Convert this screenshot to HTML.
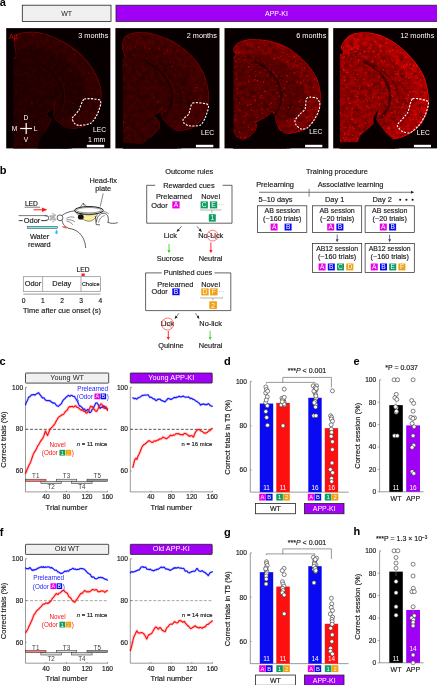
<!DOCTYPE html>
<html lang="en"><head><meta charset="utf-8"><title>Figure</title>
<style>
html,body{margin:0;padding:0;background:#fff;}
svg{display:block;font-family:'Liberation Sans', Arial, sans-serif;}
</style></head><body>
<svg width="437" height="685" viewBox="0 0 437 685">
<rect x="0" y="0" width="437" height="685" fill="#fff"/>
<text x="-0.30" y="5.60" font-size="11" font-weight="bold" fill="#000">a</text>
<rect x="22.30" y="5.20" width="88.70" height="16.20" fill="#f0f0f0" stroke="#222" stroke-width="0.8"/>
<text x="66.60" y="15.60" font-size="7.0" text-anchor="middle" fill="#222">WT</text>
<rect x="116.00" y="5.20" width="321.60" height="16.20" fill="#a000f5" stroke="#222" stroke-width="0.8"/>
<text x="276.50" y="15.60" font-size="7.0" text-anchor="middle" fill="#fff">APP-KI</text>
<defs><filter id="blur1" x="-10%" y="-10%" width="120%" height="120%"><feGaussianBlur stdDeviation="1.2"/></filter><filter id="blur2" x="-10%" y="-10%" width="120%" height="120%"><feGaussianBlur stdDeviation="0.35"/></filter><filter id="mottle" x="0" y="0" width="100%" height="100%"><feTurbulence type="fractalNoise" baseFrequency="0.22" numOctaves="2" seed="7"/><feColorMatrix type="matrix" values="0 0 0 0 0  0 0 0 0 0  0 0 0 0 0  1.6 0 0 0 -0.55"/></filter></defs>
<rect x="6.20" y="28.10" width="104.20" height="120.30" fill="#080000"/>
<clipPath id="clip0"><path d="M13.2,58.8C13.6,58.4 15.6,58.1 15.8,56.1C16.0,54.1 14.5,48.8 14.5,45.7C14.5,42.6 14.0,37.3 15.8,35.2C17.6,33.1 22.7,32.4 26.3,32.0C29.9,31.6 35.6,31.8 39.5,32.5C43.4,33.2 48.7,34.9 52.6,36.5C56.5,38.1 61.9,40.7 65.8,43.1C69.7,45.5 75.3,49.1 78.9,52.3C82.5,55.4 86.7,60.3 89.5,64.1C92.3,67.8 95.6,73.4 97.4,77.3C99.2,81.2 100.8,86.9 101.3,90.4C101.8,93.9 101.4,97.3 100.8,100.9C100.2,104.5 99.1,110.7 97.4,114.1C95.7,117.5 92.3,121.2 89.5,123.3C86.7,125.4 81.7,127.3 78.9,128.1C76.1,128.9 72.3,128.5 71.1,128.6L68.2,154.1L13.2,154.1Z"/></clipPath>
<clipPath id="pclip0"><rect x="6.20" y="28.10" width="104.20" height="120.30"/></clipPath>
<g clip-path="url(#pclip0)"><g clip-path="url(#clip0)">
<path d="M13.2,58.8C13.6,58.4 15.6,58.1 15.8,56.1C16.0,54.1 14.5,48.8 14.5,45.7C14.5,42.6 14.0,37.3 15.8,35.2C17.6,33.1 22.7,32.4 26.3,32.0C29.9,31.6 35.6,31.8 39.5,32.5C43.4,33.2 48.7,34.9 52.6,36.5C56.5,38.1 61.9,40.7 65.8,43.1C69.7,45.5 75.3,49.1 78.9,52.3C82.5,55.4 86.7,60.3 89.5,64.1C92.3,67.8 95.6,73.4 97.4,77.3C99.2,81.2 100.8,86.9 101.3,90.4C101.8,93.9 101.4,97.3 100.8,100.9C100.2,104.5 99.1,110.7 97.4,114.1C95.7,117.5 92.3,121.2 89.5,123.3C86.7,125.4 81.7,127.3 78.9,128.1C76.1,128.9 72.3,128.5 71.1,128.6L68.2,154.1L13.2,154.1Z" fill="#2c0000"/>
<path d="M15.8,35.2C17.4,34.7 22.7,32.4 26.3,32.0C29.9,31.6 35.6,31.8 39.5,32.5C43.4,33.2 48.7,34.9 52.6,36.5C56.5,38.1 61.9,40.7 65.8,43.1C69.7,45.5 75.3,49.1 78.9,52.3C82.5,55.4 86.7,60.3 89.5,64.1C92.3,67.8 95.6,73.4 97.4,77.3C99.2,81.2 100.8,86.9 101.3,90.4C101.8,93.9 101.4,97.3 100.8,100.9C100.2,104.5 99.1,110.7 97.4,114.1C95.7,117.5 92.3,121.2 89.5,123.3C86.7,125.4 81.7,127.3 78.9,128.1C76.1,128.9 72.3,128.5 71.1,128.6" fill="none" stroke="#3a0000" stroke-width="30" stroke-linecap="round" filter="url(#blur1)" opacity="0.9"/>
<rect x="6.2" y="28.1" width="104.2" height="120.3" filter="url(#mottle)" opacity="0.55"/>
<path d="M36.2,61.1C38.2,62.3 44.5,64.9 48.2,68.1C51.9,71.3 55.7,75.8 58.2,80.1C60.7,84.4 62.7,89.4 63.2,94.1C63.7,98.8 62.7,104.1 61.2,108.1C59.7,112.1 55.4,116.4 54.2,118.1" fill="none" stroke="#160000" stroke-width="3.0" opacity="0.6" filter="url(#blur2)"/>
<path d="M18.2,56.1C20.5,56.4 27.5,56.8 32.2,58.1C36.9,59.4 41.5,61.3 46.2,64.1C50.9,66.9 56.2,70.8 60.2,75.1C64.2,79.4 68.2,84.9 70.2,90.1C72.2,95.3 72.9,101.1 72.2,106.1C71.5,111.1 67.2,117.8 66.2,120.1" fill="none" stroke="#100000" stroke-width="1.4" opacity="0.25" filter="url(#blur2)"/>
<path d="M36.2,61.1C38.2,62.3 44.5,64.9 48.2,68.1C51.9,71.3 55.7,75.8 58.2,80.1C60.7,84.4 62.7,89.4 63.2,94.1C63.7,98.8 62.7,104.1 61.2,108.1C59.7,112.1 55.4,116.4 54.2,118.1" fill="none" stroke="#8a0000" stroke-width="0.6" opacity="0.5" transform="translate(1.6,-0.6)"/>
<g fill="#b00000" opacity="0.7" filter="url(#blur2)"><circle cx="79.7" cy="116.2" r="0.5"/><circle cx="59.0" cy="41.3" r="0.35"/><circle cx="27.4" cy="49.6" r="0.4"/><circle cx="88.8" cy="73.2" r="0.8"/><circle cx="72.7" cy="49.8" r="0.6"/><circle cx="26.3" cy="129.3" r="0.4"/><circle cx="31.9" cy="102.5" r="0.8"/><circle cx="99.0" cy="106.5" r="0.5"/><circle cx="32.7" cy="35.1" r="0.6"/><circle cx="84.8" cy="113.1" r="0.35"/><circle cx="81.0" cy="122.2" r="0.4"/><circle cx="98.5" cy="91.2" r="0.4"/><circle cx="74.0" cy="118.2" r="0.6"/><circle cx="55.6" cy="118.9" r="0.4"/><circle cx="28.3" cy="38.9" r="0.5"/><circle cx="66.6" cy="58.3" r="0.4"/><circle cx="14.3" cy="148.4" r="0.5"/><circle cx="64.4" cy="56.0" r="0.35"/><circle cx="74.3" cy="54.5" r="0.8"/><circle cx="73.2" cy="103.5" r="0.6"/><circle cx="70.6" cy="70.5" r="0.6"/><circle cx="21.2" cy="135.3" r="0.35"/><circle cx="89.9" cy="79.8" r="0.5"/><circle cx="17.3" cy="38.7" r="0.8"/><circle cx="21.5" cy="144.1" r="0.6"/></g>
<path d="M13.2,58.8C13.6,58.4 15.6,58.1 15.8,56.1C16.0,54.1 14.5,48.8 14.5,45.7C14.5,42.6 14.0,37.3 15.8,35.2C17.6,33.1 22.7,32.4 26.3,32.0C29.9,31.6 35.6,31.8 39.5,32.5C43.4,33.2 48.7,34.9 52.6,36.5C56.5,38.1 61.9,40.7 65.8,43.1C69.7,45.5 75.3,49.1 78.9,52.3C82.5,55.4 86.7,60.3 89.5,64.1C92.3,67.8 95.6,73.4 97.4,77.3C99.2,81.2 100.8,86.9 101.3,90.4C101.8,93.9 101.4,97.3 100.8,100.9C100.2,104.5 99.1,110.7 97.4,114.1C95.7,117.5 92.3,121.2 89.5,123.3C86.7,125.4 81.7,127.3 78.9,128.1C76.1,128.9 72.3,128.5 71.1,128.6" fill="none" stroke="#8a0000" stroke-width="1.3" opacity="0.8"/>
</g>
<path d="M54.80,101.70L54.10,107.20L53.40,115.50L56.80,121.00L66.00,127.80L72.20,129.60L72.20,155.10L35.50,155.10L39.00,141.60L43.10,133.30L47.20,127.80L51.30,119.60L47.20,115.50L45.80,113.40L51.30,110.00Z" fill="#080000"/>
<g clip-path="url(#clip0)">
<path d="M54.80,101.70L54.10,107.20L53.40,115.50L56.80,121.00L66.00,127.80" fill="none" stroke="#8a0000" stroke-width="0.7" stroke-opacity="0.6" stroke-linejoin="round"/>
<path d="M43.10,133.30L47.20,127.80L51.30,119.60L47.20,115.50L45.80,113.40L51.30,110.00L54.80,101.70" fill="none" stroke="#8a0000" stroke-width="0.7" stroke-opacity="0.6" stroke-linejoin="round"/>
</g></g>
<path d="M84.2,99.1C86.5,97.9 96.8,99.1 98.7,99.6C100.6,100.1 101.0,101.9 100.8,103.6C100.6,105.3 98.6,111.8 97.4,114.1C96.2,116.4 93.0,122.0 90.8,123.3C88.6,124.6 80.8,125.4 78.9,125.4C77.0,125.4 75.3,124.2 74.5,123.3C73.7,122.4 71.9,119.5 72.4,118.0C72.9,116.5 77.5,112.4 78.9,110.2C80.3,108.0 81.9,100.3 84.2,99.1Z" fill="none" stroke="#fff" stroke-width="1.1" stroke-dasharray="2.1 1.3"/>
<text x="108.30" y="38.30" font-size="7.3" text-anchor="end" fill="#fff">3 months</text>
<text x="106.00" y="132.20" font-size="6.7" text-anchor="end" fill="#fff">LEC</text>
<rect x="86.80" y="144.80" width="17.40" height="2.40" fill="#fff"/>
<rect x="115.40" y="28.10" width="104.10" height="120.30" fill="#080000"/>
<clipPath id="clip1"><path d="M122.1,59.8C122.5,59.4 124.6,59.2 124.6,57.3C124.6,55.4 122.1,50.2 122.1,47.2C122.1,44.2 122.7,39.3 124.6,37.1C126.5,34.9 131.3,33.3 134.7,32.6C138.1,31.9 143.5,32.1 147.3,32.6C151.1,33.1 156.1,34.7 159.9,35.9C163.7,37.1 168.6,38.8 172.4,40.9C176.2,43.0 181.4,46.7 185.0,49.7C188.6,52.7 193.6,57.4 196.4,61.0C199.2,64.6 202.2,69.8 203.9,73.6C205.6,77.4 206.9,82.6 207.7,86.2C208.5,89.8 209.1,94.2 209.0,97.6C208.9,101.0 208.3,105.5 207.2,108.9C206.1,112.3 203.6,117.4 201.4,120.2C199.2,123.0 195.2,126.3 192.6,127.8C190.0,129.3 186.1,129.8 183.8,130.3C181.5,130.8 178.4,131.0 177.4,131.1L177.4,154.1L123.2,154.1Z"/></clipPath>
<clipPath id="pclip1"><rect x="115.40" y="28.10" width="104.10" height="120.30"/></clipPath>
<g clip-path="url(#pclip1)"><g clip-path="url(#clip1)">
<path d="M122.1,59.8C122.5,59.4 124.6,59.2 124.6,57.3C124.6,55.4 122.1,50.2 122.1,47.2C122.1,44.2 122.7,39.3 124.6,37.1C126.5,34.9 131.3,33.3 134.7,32.6C138.1,31.9 143.5,32.1 147.3,32.6C151.1,33.1 156.1,34.7 159.9,35.9C163.7,37.1 168.6,38.8 172.4,40.9C176.2,43.0 181.4,46.7 185.0,49.7C188.6,52.7 193.6,57.4 196.4,61.0C199.2,64.6 202.2,69.8 203.9,73.6C205.6,77.4 206.9,82.6 207.7,86.2C208.5,89.8 209.1,94.2 209.0,97.6C208.9,101.0 208.3,105.5 207.2,108.9C206.1,112.3 203.6,117.4 201.4,120.2C199.2,123.0 195.2,126.3 192.6,127.8C190.0,129.3 186.1,129.8 183.8,130.3C181.5,130.8 178.4,131.0 177.4,131.1L177.4,154.1L123.2,154.1Z" fill="#400000"/>
<path d="M124.6,37.1C126.1,36.4 131.3,33.3 134.7,32.6C138.1,31.9 143.5,32.1 147.3,32.6C151.1,33.1 156.1,34.7 159.9,35.9C163.7,37.1 168.6,38.8 172.4,40.9C176.2,43.0 181.4,46.7 185.0,49.7C188.6,52.7 193.6,57.4 196.4,61.0C199.2,64.6 202.2,69.8 203.9,73.6C205.6,77.4 206.9,82.6 207.7,86.2C208.5,89.8 209.1,94.2 209.0,97.6C208.9,101.0 208.3,105.5 207.2,108.9C206.1,112.3 203.6,117.4 201.4,120.2C199.2,123.0 195.2,126.3 192.6,127.8C190.0,129.3 185.1,129.9 183.8,130.3" fill="none" stroke="#4e0000" stroke-width="30" stroke-linecap="round" filter="url(#blur1)" opacity="0.9"/>
<rect x="115.4" y="28.1" width="104.1" height="120.3" filter="url(#mottle)" opacity="0.55"/>
<path d="M145.4,61.1C147.4,62.3 153.7,64.9 157.4,68.1C161.1,71.3 164.9,75.8 167.4,80.1C169.9,84.4 171.9,89.4 172.4,94.1C172.9,98.8 171.9,104.1 170.4,108.1C168.9,112.1 164.6,116.4 163.4,118.1" fill="none" stroke="#160000" stroke-width="3.0" opacity="0.6" filter="url(#blur2)"/>
<path d="M127.4,56.1C129.7,56.4 136.7,56.8 141.4,58.1C146.1,59.4 150.7,61.3 155.4,64.1C160.1,66.9 165.4,70.8 169.4,75.1C173.4,79.4 177.4,84.9 179.4,90.1C181.4,95.3 182.1,101.1 181.4,106.1C180.7,111.1 176.4,117.8 175.4,120.1" fill="none" stroke="#100000" stroke-width="1.4" opacity="0.25" filter="url(#blur2)"/>
<path d="M145.4,61.1C147.4,62.3 153.7,64.9 157.4,68.1C161.1,71.3 164.9,75.8 167.4,80.1C169.9,84.4 171.9,89.4 172.4,94.1C172.9,98.8 171.9,104.1 170.4,108.1C168.9,112.1 164.6,116.4 163.4,118.1" fill="none" stroke="#900000" stroke-width="0.6" opacity="0.5" transform="translate(1.6,-0.6)"/>
<g fill="#c00808" opacity="0.55" filter="url(#blur2)"><circle cx="175.9" cy="51.5" r="0.6"/><circle cx="184.5" cy="53.9" r="0.4"/><circle cx="196.9" cy="67.7" r="0.5"/><circle cx="157.4" cy="53.2" r="0.5"/><circle cx="164.1" cy="53.6" r="0.8"/><circle cx="201.1" cy="109.9" r="0.8"/><circle cx="152.8" cy="59.6" r="0.4"/><circle cx="208.7" cy="96.6" r="0.4"/><circle cx="130.0" cy="49.6" r="0.4"/><circle cx="187.1" cy="70.3" r="0.35"/><circle cx="144.6" cy="46.6" r="0.5"/><circle cx="136.7" cy="41.6" r="0.5"/><circle cx="140.8" cy="61.9" r="0.4"/><circle cx="204.6" cy="83.3" r="0.6"/><circle cx="197.7" cy="84.8" r="0.4"/><circle cx="138.3" cy="36.1" r="0.4"/><circle cx="185.3" cy="127.1" r="0.6"/><circle cx="172.2" cy="66.4" r="0.8"/><circle cx="146.7" cy="58.8" r="0.5"/><circle cx="175.6" cy="69.3" r="0.5"/><circle cx="172.9" cy="52.7" r="0.35"/><circle cx="195.9" cy="84.1" r="0.6"/><circle cx="189.7" cy="78.3" r="0.5"/><circle cx="182.5" cy="92.1" r="0.8"/><circle cx="135.4" cy="47.1" r="0.8"/><circle cx="198.1" cy="110.3" r="0.4"/><circle cx="128.7" cy="107.5" r="0.35"/><circle cx="179.0" cy="113.8" r="0.6"/><circle cx="124.9" cy="61.2" r="0.4"/><circle cx="125.4" cy="62.8" r="0.4"/><circle cx="190.7" cy="74.8" r="0.6"/><circle cx="154.9" cy="124.0" r="0.8"/><circle cx="147.1" cy="136.1" r="0.5"/><circle cx="184.2" cy="117.8" r="0.5"/><circle cx="191.2" cy="110.4" r="0.5"/><circle cx="189.1" cy="118.6" r="0.5"/><circle cx="129.6" cy="141.6" r="0.4"/><circle cx="195.9" cy="120.8" r="0.8"/><circle cx="123.4" cy="122.4" r="0.8"/><circle cx="159.0" cy="48.9" r="0.8"/><circle cx="173.9" cy="62.7" r="0.6"/><circle cx="207.7" cy="96.6" r="0.4"/><circle cx="148.9" cy="46.7" r="0.4"/><circle cx="130.7" cy="139.5" r="0.5"/><circle cx="145.1" cy="141.0" r="0.4"/><circle cx="128.4" cy="37.8" r="0.8"/><circle cx="199.0" cy="75.8" r="0.35"/><circle cx="189.3" cy="70.7" r="0.35"/><circle cx="186.9" cy="52.7" r="0.6"/><circle cx="187.9" cy="86.3" r="0.4"/><circle cx="185.0" cy="65.3" r="0.5"/><circle cx="153.5" cy="96.8" r="0.35"/><circle cx="123.9" cy="126.5" r="0.5"/><circle cx="149.8" cy="48.6" r="0.8"/><circle cx="171.5" cy="46.4" r="0.35"/><circle cx="191.7" cy="57.1" r="0.35"/><circle cx="170.4" cy="62.7" r="0.6"/><circle cx="126.7" cy="65.0" r="0.5"/><circle cx="166.3" cy="41.4" r="0.6"/><circle cx="177.1" cy="50.9" r="0.5"/><circle cx="202.2" cy="114.9" r="0.4"/><circle cx="131.1" cy="49.3" r="0.6"/><circle cx="179.2" cy="124.8" r="0.35"/><circle cx="195.1" cy="89.9" r="0.5"/><circle cx="193.2" cy="91.4" r="0.6"/><circle cx="162.8" cy="42.9" r="0.35"/><circle cx="185.1" cy="50.1" r="0.4"/><circle cx="127.2" cy="127.6" r="0.5"/><circle cx="146.0" cy="34.2" r="0.5"/><circle cx="128.0" cy="36.3" r="0.4"/><circle cx="179.9" cy="75.7" r="0.5"/><circle cx="200.0" cy="97.6" r="0.8"/><circle cx="192.5" cy="107.8" r="0.6"/><circle cx="181.1" cy="55.6" r="0.35"/><circle cx="172.0" cy="41.6" r="0.5"/><circle cx="141.8" cy="57.5" r="0.5"/><circle cx="136.9" cy="110.6" r="0.6"/><circle cx="134.2" cy="56.0" r="0.5"/><circle cx="194.0" cy="91.4" r="0.6"/><circle cx="167.6" cy="49.5" r="0.8"/><circle cx="189.4" cy="58.2" r="0.4"/><circle cx="198.1" cy="75.6" r="0.6"/><circle cx="186.6" cy="122.0" r="0.6"/><circle cx="145.4" cy="44.2" r="0.6"/><circle cx="195.6" cy="122.7" r="0.5"/><circle cx="207.1" cy="102.4" r="0.5"/><circle cx="154.7" cy="84.1" r="0.35"/><circle cx="144.0" cy="85.7" r="0.5"/><circle cx="185.1" cy="120.0" r="0.5"/><circle cx="169.5" cy="42.3" r="0.35"/><circle cx="164.7" cy="56.1" r="0.5"/><circle cx="154.4" cy="93.5" r="0.5"/><circle cx="201.1" cy="90.3" r="0.6"/><circle cx="145.0" cy="48.1" r="0.6"/><circle cx="190.0" cy="92.0" r="0.35"/><circle cx="196.4" cy="87.5" r="0.8"/><circle cx="165.2" cy="111.3" r="0.6"/><circle cx="170.7" cy="118.2" r="0.4"/><circle cx="127.4" cy="47.2" r="0.5"/><circle cx="159.1" cy="56.3" r="0.35"/><circle cx="158.1" cy="101.9" r="0.8"/><circle cx="202.6" cy="105.6" r="0.5"/><circle cx="167.7" cy="51.9" r="0.6"/><circle cx="193.5" cy="81.7" r="0.5"/><circle cx="178.9" cy="69.0" r="0.4"/><circle cx="198.4" cy="99.7" r="0.8"/><circle cx="203.0" cy="107.3" r="0.4"/><circle cx="133.6" cy="33.9" r="0.35"/><circle cx="167.6" cy="67.5" r="0.35"/><circle cx="130.4" cy="104.8" r="0.4"/></g>
<path d="M122.1,59.8C122.5,59.4 124.6,59.2 124.6,57.3C124.6,55.4 122.1,50.2 122.1,47.2C122.1,44.2 122.7,39.3 124.6,37.1C126.5,34.9 131.3,33.3 134.7,32.6C138.1,31.9 143.5,32.1 147.3,32.6C151.1,33.1 156.1,34.7 159.9,35.9C163.7,37.1 168.6,38.8 172.4,40.9C176.2,43.0 181.4,46.7 185.0,49.7C188.6,52.7 193.6,57.4 196.4,61.0C199.2,64.6 202.2,69.8 203.9,73.6C205.6,77.4 206.9,82.6 207.7,86.2C208.5,89.8 209.1,94.2 209.0,97.6C208.9,101.0 208.3,105.5 207.2,108.9C206.1,112.3 203.6,117.4 201.4,120.2C199.2,123.0 195.2,126.3 192.6,127.8C190.0,129.3 186.1,129.8 183.8,130.3C181.5,130.8 178.4,131.0 177.4,131.1" fill="none" stroke="#900000" stroke-width="1.3" opacity="0.8"/>
</g>
<path d="M162.40,107.20L161.20,112.10L161.00,115.50L164.40,121.00L169.90,126.50L175.00,130.60L181.40,132.10L181.40,155.10L122.40,155.10L123.20,142.60L142.50,144.30L149.30,138.80L154.80,133.30L159.60,127.80L159.60,122.30L156.20,117.50L152.10,115.50L159.00,112.70Z" fill="#080000"/>
<g clip-path="url(#clip1)">
<path d="M162.40,107.20L161.20,112.10L161.00,115.50L164.40,121.00L169.90,126.50L175.00,130.60" fill="none" stroke="#900000" stroke-width="0.7" stroke-opacity="0.6" stroke-linejoin="round"/>
<path d="M149.30,138.80L154.80,133.30L159.60,127.80L159.60,122.30L156.20,117.50L152.10,115.50L159.00,112.70L162.40,107.20" fill="none" stroke="#900000" stroke-width="0.7" stroke-opacity="0.6" stroke-linejoin="round"/>
</g></g>
<path d="M192.6,103.1C194.7,101.9 204.6,103.4 206.5,103.9C208.4,104.4 208.7,106.0 208.5,107.6C208.3,109.2 206.2,115.6 205.2,117.7C204.2,119.8 202.1,124.4 200.2,125.3C198.3,126.2 190.7,126.1 188.8,125.8C186.9,125.5 184.4,123.6 183.8,122.8C183.2,122.0 182.7,120.0 183.3,119.0C183.9,118.0 187.7,115.8 188.8,113.9C189.9,112.0 190.5,104.3 192.6,103.1Z" fill="none" stroke="#fff" stroke-width="1.1" stroke-dasharray="2.1 1.3"/>
<text x="216.80" y="38.30" font-size="7.3" text-anchor="end" fill="#fff">2 months</text>
<text x="214.00" y="134.60" font-size="6.7" text-anchor="end" fill="#fff">LEC</text>
<rect x="195.90" y="144.80" width="17.40" height="2.40" fill="#fff"/>
<rect x="224.50" y="28.10" width="103.90" height="120.30" fill="#080000"/>
<clipPath id="clip2"><path d="M233.3,57.3C233.7,56.9 235.9,55.8 235.9,54.7C235.9,53.6 233.1,51.4 233.3,49.7C233.5,48.0 235.0,44.9 237.1,43.4C239.2,41.9 243.8,40.2 247.2,39.6C250.6,39.0 256.0,39.3 259.8,39.6C263.6,39.9 268.6,40.6 272.4,41.6C276.2,42.6 281.3,44.4 285.0,46.3C288.7,48.2 293.4,51.2 296.9,54.1C300.4,57.0 305.4,61.8 308.3,65.3C311.2,68.8 314.7,73.7 316.5,77.4C318.3,81.1 319.6,86.2 320.2,90.0C320.8,93.8 321.1,98.8 320.7,102.6C320.3,106.4 319.3,111.8 317.7,115.2C316.1,118.6 312.8,122.8 310.2,125.3C307.6,127.8 303.1,130.4 300.1,131.6C297.1,132.8 292.0,133.3 290.0,133.6C288.0,133.9 287.0,133.9 286.5,133.9L286.5,154.1L233.3,154.1Z"/></clipPath>
<clipPath id="pclip2"><rect x="224.50" y="28.10" width="103.90" height="120.30"/></clipPath>
<g clip-path="url(#pclip2)"><g clip-path="url(#clip2)">
<path d="M233.3,57.3C233.7,56.9 235.9,55.8 235.9,54.7C235.9,53.6 233.1,51.4 233.3,49.7C233.5,48.0 235.0,44.9 237.1,43.4C239.2,41.9 243.8,40.2 247.2,39.6C250.6,39.0 256.0,39.3 259.8,39.6C263.6,39.9 268.6,40.6 272.4,41.6C276.2,42.6 281.3,44.4 285.0,46.3C288.7,48.2 293.4,51.2 296.9,54.1C300.4,57.0 305.4,61.8 308.3,65.3C311.2,68.8 314.7,73.7 316.5,77.4C318.3,81.1 319.6,86.2 320.2,90.0C320.8,93.8 321.1,98.8 320.7,102.6C320.3,106.4 319.3,111.8 317.7,115.2C316.1,118.6 312.8,122.8 310.2,125.3C307.6,127.8 303.1,130.4 300.1,131.6C297.1,132.8 292.0,133.3 290.0,133.6C288.0,133.9 287.0,133.9 286.5,133.9L286.5,154.1L233.3,154.1Z" fill="#620000"/>
<path d="M237.1,43.4C238.6,42.8 243.8,40.2 247.2,39.6C250.6,39.0 256.0,39.3 259.8,39.6C263.6,39.9 268.6,40.6 272.4,41.6C276.2,42.6 281.3,44.4 285.0,46.3C288.7,48.2 293.4,51.2 296.9,54.1C300.4,57.0 305.4,61.8 308.3,65.3C311.2,68.8 314.7,73.7 316.5,77.4C318.3,81.1 319.6,86.2 320.2,90.0C320.8,93.8 321.1,98.8 320.7,102.6C320.3,106.4 319.3,111.8 317.7,115.2C316.1,118.6 312.8,122.8 310.2,125.3C307.6,127.8 303.1,130.4 300.1,131.6C297.1,132.8 291.5,133.3 290.0,133.6" fill="none" stroke="#840000" stroke-width="30" stroke-linecap="round" filter="url(#blur1)" opacity="0.9"/>
<rect x="224.5" y="28.1" width="103.9" height="120.3" filter="url(#mottle)" opacity="0.55"/>
<path d="M254.5,61.1C256.5,62.3 262.8,64.9 266.5,68.1C270.2,71.3 274.0,75.8 276.5,80.1C279.0,84.4 281.0,89.4 281.5,94.1C282.0,98.8 281.0,104.1 279.5,108.1C278.0,112.1 273.7,116.4 272.5,118.1" fill="none" stroke="#160000" stroke-width="3.0" opacity="0.6" filter="url(#blur2)"/>
<path d="M236.5,56.1C238.8,56.4 245.8,56.8 250.5,58.1C255.2,59.4 259.8,61.3 264.5,64.1C269.2,66.9 274.5,70.8 278.5,75.1C282.5,79.4 286.5,84.9 288.5,90.1C290.5,95.3 291.2,101.1 290.5,106.1C289.8,111.1 285.5,117.8 284.5,120.1" fill="none" stroke="#100000" stroke-width="1.4" opacity="0.25" filter="url(#blur2)"/>
<path d="M254.5,61.1C256.5,62.3 262.8,64.9 266.5,68.1C270.2,71.3 274.0,75.8 276.5,80.1C279.0,84.4 281.0,89.4 281.5,94.1C282.0,98.8 281.0,104.1 279.5,108.1C278.0,112.1 273.7,116.4 272.5,118.1" fill="none" stroke="#c80000" stroke-width="0.6" opacity="0.5" transform="translate(1.6,-0.6)"/>
<g fill="#f00808" opacity="0.7" filter="url(#blur2)"><circle cx="298.5" cy="101.2" r="0.5"/><circle cx="254.9" cy="79.7" r="0.8"/><circle cx="279.6" cy="102.6" r="0.4"/><circle cx="300.9" cy="73.5" r="0.4"/><circle cx="311.5" cy="114.0" r="0.6"/><circle cx="239.6" cy="102.8" r="0.8"/><circle cx="310.6" cy="73.5" r="0.4"/><circle cx="241.9" cy="53.0" r="0.6"/><circle cx="257.3" cy="117.4" r="0.6"/><circle cx="271.0" cy="103.4" r="0.8"/><circle cx="246.0" cy="57.5" r="0.4"/><circle cx="289.2" cy="92.3" r="0.6"/><circle cx="256.4" cy="121.8" r="0.5"/><circle cx="300.0" cy="78.1" r="0.4"/><circle cx="246.6" cy="82.0" r="0.4"/><circle cx="278.1" cy="44.6" r="0.6"/><circle cx="274.3" cy="55.8" r="0.35"/><circle cx="249.6" cy="61.2" r="0.35"/><circle cx="236.8" cy="46.2" r="0.5"/><circle cx="252.9" cy="60.2" r="0.5"/><circle cx="267.6" cy="57.4" r="0.4"/><circle cx="295.8" cy="128.4" r="0.8"/><circle cx="245.4" cy="84.1" r="0.5"/><circle cx="283.9" cy="53.0" r="0.8"/><circle cx="247.2" cy="106.2" r="0.4"/><circle cx="290.8" cy="85.2" r="0.5"/><circle cx="243.9" cy="122.9" r="0.8"/><circle cx="271.4" cy="100.5" r="0.35"/><circle cx="271.6" cy="58.0" r="0.4"/><circle cx="298.7" cy="59.5" r="0.5"/><circle cx="282.5" cy="52.5" r="0.5"/><circle cx="282.3" cy="100.1" r="0.5"/><circle cx="234.8" cy="111.6" r="0.4"/><circle cx="235.4" cy="118.4" r="0.4"/><circle cx="307.1" cy="118.4" r="0.5"/><circle cx="312.6" cy="75.1" r="0.5"/><circle cx="245.0" cy="116.0" r="0.8"/><circle cx="248.5" cy="66.9" r="0.8"/><circle cx="236.1" cy="52.5" r="0.8"/><circle cx="233.3" cy="131.6" r="0.5"/><circle cx="281.0" cy="56.7" r="0.6"/><circle cx="273.4" cy="72.2" r="0.8"/><circle cx="301.1" cy="63.5" r="0.5"/><circle cx="313.4" cy="87.5" r="0.8"/><circle cx="276.7" cy="62.2" r="0.6"/><circle cx="316.9" cy="78.8" r="0.5"/><circle cx="315.9" cy="95.2" r="0.4"/><circle cx="301.9" cy="83.2" r="0.4"/><circle cx="278.7" cy="47.3" r="0.6"/><circle cx="281.2" cy="45.6" r="0.5"/><circle cx="305.4" cy="85.5" r="0.6"/><circle cx="294.2" cy="126.7" r="0.5"/><circle cx="245.4" cy="112.6" r="0.5"/><circle cx="233.8" cy="91.0" r="0.4"/><circle cx="302.0" cy="67.1" r="0.6"/><circle cx="265.0" cy="40.4" r="0.5"/><circle cx="310.4" cy="101.9" r="0.4"/><circle cx="304.5" cy="67.7" r="0.8"/><circle cx="238.8" cy="107.6" r="0.35"/><circle cx="265.5" cy="70.0" r="0.8"/><circle cx="299.7" cy="88.2" r="0.4"/><circle cx="296.8" cy="74.9" r="0.35"/><circle cx="281.3" cy="49.0" r="0.5"/><circle cx="285.9" cy="130.2" r="0.4"/><circle cx="263.5" cy="43.0" r="0.5"/><circle cx="288.9" cy="122.6" r="0.5"/><circle cx="283.7" cy="100.5" r="0.6"/><circle cx="283.0" cy="49.9" r="0.4"/><circle cx="288.2" cy="107.5" r="0.8"/><circle cx="289.8" cy="61.2" r="0.5"/><circle cx="299.7" cy="62.0" r="0.35"/><circle cx="250.5" cy="50.2" r="0.35"/><circle cx="276.8" cy="76.2" r="0.6"/><circle cx="294.3" cy="57.1" r="0.8"/><circle cx="257.2" cy="46.4" r="0.4"/><circle cx="268.5" cy="42.3" r="0.35"/><circle cx="249.9" cy="104.5" r="0.5"/><circle cx="297.1" cy="82.1" r="0.8"/><circle cx="257.7" cy="51.5" r="0.6"/><circle cx="300.9" cy="76.3" r="0.6"/><circle cx="297.2" cy="122.0" r="0.35"/><circle cx="249.7" cy="76.0" r="0.8"/><circle cx="297.4" cy="65.6" r="0.5"/><circle cx="286.8" cy="54.5" r="0.6"/><circle cx="279.0" cy="58.3" r="0.5"/><circle cx="237.7" cy="93.0" r="0.8"/><circle cx="257.6" cy="64.2" r="0.6"/><circle cx="261.6" cy="95.5" r="0.8"/><circle cx="262.2" cy="113.3" r="0.8"/><circle cx="269.6" cy="104.6" r="0.6"/><circle cx="275.6" cy="50.8" r="0.35"/><circle cx="290.3" cy="69.6" r="0.5"/><circle cx="281.5" cy="109.4" r="0.4"/><circle cx="308.0" cy="102.2" r="0.5"/><circle cx="308.5" cy="116.9" r="0.35"/><circle cx="283.0" cy="98.0" r="0.5"/><circle cx="236.4" cy="72.9" r="0.5"/><circle cx="248.1" cy="94.5" r="0.4"/><circle cx="270.8" cy="61.8" r="0.35"/><circle cx="241.0" cy="83.2" r="0.5"/><circle cx="241.0" cy="137.4" r="0.8"/><circle cx="283.1" cy="126.3" r="0.4"/><circle cx="295.0" cy="96.1" r="0.5"/><circle cx="303.6" cy="79.9" r="0.35"/><circle cx="255.2" cy="96.1" r="0.6"/><circle cx="238.7" cy="59.0" r="0.8"/><circle cx="245.0" cy="106.9" r="0.5"/><circle cx="240.7" cy="92.7" r="0.5"/><circle cx="269.7" cy="68.1" r="0.6"/><circle cx="292.7" cy="91.9" r="0.35"/><circle cx="252.0" cy="110.4" r="0.35"/><circle cx="257.8" cy="64.8" r="0.35"/><circle cx="312.7" cy="117.3" r="0.8"/><circle cx="253.6" cy="81.4" r="0.5"/><circle cx="268.1" cy="111.4" r="0.35"/><circle cx="276.7" cy="85.3" r="0.6"/><circle cx="299.6" cy="108.7" r="0.5"/><circle cx="252.8" cy="121.3" r="0.6"/><circle cx="303.7" cy="129.0" r="0.35"/><circle cx="278.3" cy="57.8" r="0.8"/><circle cx="296.0" cy="127.9" r="0.5"/><circle cx="283.0" cy="54.9" r="0.5"/><circle cx="304.2" cy="113.6" r="0.5"/><circle cx="281.0" cy="76.1" r="0.5"/><circle cx="294.6" cy="65.7" r="0.5"/><circle cx="310.2" cy="86.7" r="0.5"/><circle cx="286.4" cy="130.5" r="0.4"/><circle cx="304.4" cy="91.4" r="0.5"/><circle cx="236.1" cy="61.1" r="0.8"/><circle cx="278.2" cy="121.5" r="0.5"/><circle cx="303.4" cy="81.0" r="0.5"/><circle cx="236.6" cy="78.9" r="0.8"/><circle cx="255.3" cy="100.5" r="0.8"/><circle cx="239.1" cy="52.6" r="0.8"/><circle cx="308.0" cy="117.0" r="0.8"/><circle cx="244.5" cy="137.9" r="0.6"/><circle cx="285.4" cy="48.6" r="0.4"/><circle cx="243.2" cy="68.4" r="0.35"/><circle cx="269.6" cy="73.4" r="0.35"/><circle cx="276.2" cy="82.0" r="0.5"/><circle cx="255.3" cy="99.0" r="0.5"/><circle cx="316.7" cy="105.1" r="0.35"/><circle cx="245.1" cy="56.4" r="0.6"/><circle cx="289.8" cy="111.2" r="0.4"/><circle cx="255.8" cy="89.7" r="0.4"/><circle cx="235.2" cy="67.7" r="0.5"/><circle cx="297.4" cy="92.7" r="0.4"/><circle cx="283.0" cy="124.1" r="0.35"/><circle cx="246.3" cy="61.0" r="0.35"/><circle cx="239.6" cy="110.3" r="0.5"/><circle cx="244.6" cy="59.7" r="0.6"/><circle cx="281.7" cy="55.9" r="0.5"/><circle cx="258.7" cy="84.9" r="0.6"/><circle cx="284.6" cy="132.9" r="0.35"/><circle cx="314.9" cy="88.8" r="0.4"/><circle cx="295.4" cy="61.7" r="0.6"/><circle cx="249.2" cy="66.6" r="0.6"/><circle cx="244.8" cy="59.9" r="0.35"/><circle cx="286.6" cy="75.5" r="0.8"/><circle cx="235.2" cy="119.0" r="0.4"/><circle cx="272.1" cy="80.9" r="0.5"/><circle cx="277.3" cy="92.8" r="0.8"/><circle cx="297.3" cy="71.9" r="0.6"/><circle cx="301.8" cy="61.3" r="0.35"/><circle cx="249.5" cy="42.9" r="0.5"/><circle cx="233.4" cy="71.6" r="0.5"/><circle cx="294.0" cy="65.7" r="0.35"/><circle cx="271.5" cy="43.7" r="0.5"/><circle cx="247.8" cy="105.4" r="0.8"/><circle cx="267.9" cy="76.2" r="0.5"/><circle cx="301.0" cy="116.1" r="0.35"/><circle cx="294.0" cy="122.0" r="0.6"/><circle cx="266.2" cy="53.1" r="0.4"/><circle cx="314.7" cy="96.8" r="0.5"/><circle cx="311.0" cy="74.9" r="0.35"/><circle cx="243.9" cy="132.5" r="0.35"/><circle cx="290.7" cy="119.8" r="0.6"/><circle cx="267.6" cy="109.6" r="0.6"/><circle cx="299.3" cy="102.1" r="0.6"/><circle cx="252.9" cy="96.3" r="0.6"/><circle cx="241.0" cy="85.6" r="0.4"/><circle cx="236.2" cy="120.1" r="0.8"/><circle cx="236.1" cy="86.5" r="0.35"/><circle cx="316.1" cy="105.6" r="0.35"/><circle cx="301.3" cy="125.3" r="0.5"/><circle cx="273.2" cy="58.1" r="0.5"/><circle cx="264.5" cy="63.5" r="0.4"/><circle cx="255.8" cy="71.4" r="0.5"/><circle cx="255.9" cy="115.1" r="0.4"/><circle cx="307.5" cy="107.1" r="0.4"/><circle cx="272.6" cy="58.7" r="0.35"/><circle cx="301.6" cy="64.5" r="0.5"/><circle cx="279.0" cy="51.8" r="0.4"/><circle cx="262.1" cy="109.1" r="0.8"/><circle cx="287.5" cy="75.7" r="0.5"/><circle cx="310.1" cy="119.9" r="0.8"/><circle cx="242.4" cy="116.5" r="0.4"/><circle cx="286.7" cy="81.9" r="0.8"/><circle cx="308.5" cy="95.0" r="0.4"/><circle cx="260.8" cy="82.5" r="0.5"/><circle cx="245.7" cy="117.5" r="0.35"/><circle cx="242.4" cy="66.0" r="0.4"/><circle cx="313.1" cy="76.6" r="0.35"/><circle cx="239.0" cy="122.7" r="0.4"/><circle cx="292.9" cy="106.9" r="0.6"/><circle cx="274.2" cy="58.9" r="0.8"/><circle cx="293.4" cy="54.4" r="0.5"/><circle cx="307.6" cy="102.5" r="0.6"/><circle cx="319.5" cy="104.8" r="0.4"/><circle cx="262.1" cy="102.1" r="0.6"/><circle cx="310.6" cy="110.0" r="0.4"/><circle cx="261.5" cy="58.0" r="0.5"/><circle cx="282.6" cy="51.6" r="0.5"/><circle cx="305.5" cy="100.2" r="0.5"/><circle cx="284.1" cy="88.0" r="0.8"/><circle cx="258.4" cy="70.8" r="0.5"/><circle cx="296.8" cy="58.2" r="0.4"/><circle cx="258.7" cy="46.8" r="0.5"/><circle cx="248.6" cy="127.2" r="0.6"/><circle cx="314.6" cy="79.1" r="0.8"/><circle cx="318.9" cy="106.1" r="0.8"/><circle cx="263.9" cy="49.0" r="0.5"/><circle cx="270.2" cy="82.7" r="0.35"/><circle cx="301.9" cy="60.3" r="0.5"/><circle cx="258.3" cy="105.3" r="0.5"/><circle cx="270.2" cy="107.2" r="0.6"/><circle cx="245.1" cy="137.2" r="0.8"/><circle cx="263.2" cy="51.9" r="0.6"/><circle cx="294.6" cy="63.9" r="0.5"/><circle cx="251.7" cy="45.0" r="0.5"/><circle cx="310.3" cy="116.5" r="0.6"/><circle cx="255.3" cy="125.6" r="0.5"/><circle cx="307.1" cy="117.3" r="0.8"/><circle cx="247.1" cy="114.1" r="0.6"/><circle cx="298.7" cy="130.5" r="0.8"/><circle cx="301.5" cy="74.9" r="0.4"/><circle cx="293.9" cy="118.9" r="0.6"/><circle cx="301.7" cy="82.9" r="0.4"/><circle cx="313.0" cy="97.6" r="0.8"/><circle cx="317.7" cy="90.2" r="0.5"/><circle cx="318.4" cy="93.8" r="0.6"/><circle cx="251.6" cy="64.4" r="0.5"/><circle cx="291.1" cy="129.2" r="0.4"/><circle cx="283.1" cy="115.5" r="0.6"/><circle cx="285.1" cy="62.5" r="0.5"/><circle cx="263.4" cy="97.7" r="0.5"/><circle cx="289.9" cy="125.1" r="0.5"/><circle cx="276.3" cy="45.4" r="0.5"/><circle cx="252.8" cy="94.1" r="0.35"/><circle cx="303.6" cy="125.4" r="0.35"/><circle cx="307.6" cy="91.4" r="0.5"/><circle cx="285.6" cy="84.2" r="0.6"/><circle cx="246.8" cy="135.8" r="0.35"/><circle cx="241.6" cy="133.9" r="0.4"/><circle cx="259.3" cy="66.7" r="0.4"/><circle cx="296.3" cy="54.7" r="0.4"/><circle cx="270.8" cy="97.6" r="0.35"/><circle cx="289.5" cy="72.2" r="0.5"/><circle cx="281.3" cy="89.7" r="0.5"/><circle cx="292.7" cy="59.9" r="0.5"/><circle cx="300.7" cy="83.4" r="0.5"/><circle cx="295.5" cy="56.0" r="0.6"/><circle cx="299.6" cy="85.1" r="0.5"/><circle cx="315.7" cy="84.9" r="0.5"/><circle cx="237.0" cy="89.2" r="0.6"/><circle cx="262.1" cy="53.6" r="0.35"/><circle cx="299.2" cy="110.9" r="0.35"/><circle cx="276.4" cy="122.4" r="0.6"/><circle cx="279.6" cy="96.3" r="0.5"/><circle cx="257.0" cy="81.0" r="0.8"/><circle cx="238.0" cy="82.7" r="0.5"/><circle cx="284.7" cy="106.7" r="0.5"/><circle cx="280.7" cy="51.4" r="0.5"/><circle cx="305.3" cy="118.1" r="0.5"/><circle cx="268.3" cy="43.5" r="0.4"/><circle cx="250.2" cy="46.5" r="0.35"/><circle cx="245.9" cy="100.3" r="0.4"/><circle cx="297.9" cy="97.8" r="0.6"/><circle cx="240.8" cy="110.8" r="0.5"/><circle cx="237.0" cy="99.3" r="0.5"/><circle cx="256.3" cy="53.9" r="0.6"/><circle cx="279.9" cy="45.8" r="0.5"/><circle cx="280.0" cy="107.2" r="0.5"/><circle cx="254.0" cy="111.2" r="0.6"/><circle cx="277.8" cy="46.4" r="0.6"/><circle cx="264.3" cy="78.7" r="0.5"/><circle cx="287.3" cy="120.7" r="0.8"/><circle cx="264.5" cy="91.3" r="0.8"/><circle cx="260.4" cy="72.6" r="0.5"/><circle cx="299.5" cy="101.4" r="0.5"/><circle cx="295.4" cy="59.9" r="0.5"/><circle cx="300.6" cy="100.7" r="0.5"/><circle cx="309.3" cy="106.8" r="0.6"/><circle cx="241.0" cy="56.2" r="0.5"/><circle cx="317.2" cy="107.5" r="0.4"/><circle cx="320.2" cy="91.4" r="0.5"/><circle cx="250.4" cy="122.0" r="0.4"/><circle cx="261.9" cy="59.0" r="0.4"/><circle cx="257.1" cy="60.8" r="0.5"/><circle cx="273.8" cy="112.6" r="0.8"/><circle cx="263.6" cy="81.9" r="0.8"/><circle cx="239.3" cy="132.2" r="0.8"/><circle cx="300.4" cy="82.6" r="0.8"/><circle cx="258.6" cy="93.0" r="0.5"/><circle cx="289.4" cy="60.3" r="0.5"/><circle cx="253.3" cy="55.9" r="0.5"/><circle cx="306.2" cy="99.0" r="0.5"/><circle cx="275.3" cy="58.6" r="0.5"/><circle cx="285.7" cy="95.8" r="0.8"/><circle cx="290.8" cy="122.0" r="0.35"/><circle cx="313.5" cy="91.6" r="0.4"/><circle cx="245.8" cy="54.6" r="0.5"/><circle cx="303.4" cy="102.3" r="0.5"/><circle cx="252.4" cy="129.5" r="0.8"/><circle cx="270.4" cy="52.0" r="0.8"/><circle cx="294.6" cy="73.1" r="0.8"/><circle cx="270.9" cy="64.8" r="0.5"/><circle cx="237.2" cy="88.7" r="0.5"/><circle cx="235.0" cy="47.3" r="0.5"/><circle cx="238.3" cy="70.9" r="0.35"/><circle cx="266.6" cy="91.4" r="0.5"/><circle cx="242.6" cy="97.9" r="0.6"/><circle cx="290.9" cy="119.6" r="0.4"/><circle cx="287.4" cy="61.3" r="0.5"/><circle cx="256.8" cy="110.7" r="0.4"/><circle cx="316.6" cy="81.6" r="0.35"/><circle cx="269.6" cy="67.7" r="0.5"/><circle cx="259.8" cy="43.8" r="0.5"/><circle cx="279.7" cy="129.6" r="0.4"/><circle cx="247.9" cy="44.8" r="0.8"/><circle cx="237.2" cy="65.9" r="0.6"/><circle cx="268.3" cy="69.9" r="0.5"/><circle cx="274.9" cy="99.5" r="0.5"/><circle cx="318.7" cy="92.5" r="0.6"/><circle cx="292.6" cy="67.6" r="0.8"/><circle cx="293.0" cy="62.1" r="0.35"/><circle cx="249.1" cy="63.8" r="0.5"/><circle cx="307.3" cy="76.1" r="0.8"/><circle cx="315.9" cy="108.0" r="0.8"/><circle cx="248.5" cy="81.6" r="0.8"/><circle cx="308.6" cy="108.0" r="0.35"/><circle cx="267.6" cy="74.9" r="0.5"/><circle cx="287.5" cy="59.8" r="0.4"/><circle cx="254.1" cy="58.3" r="0.5"/><circle cx="258.6" cy="47.6" r="0.6"/><circle cx="236.3" cy="94.4" r="0.35"/><circle cx="310.1" cy="116.1" r="0.5"/><circle cx="247.4" cy="43.2" r="0.4"/><circle cx="283.4" cy="108.8" r="0.6"/><circle cx="317.6" cy="109.9" r="0.8"/><circle cx="257.6" cy="80.2" r="0.8"/><circle cx="249.5" cy="62.8" r="0.4"/><circle cx="300.6" cy="82.7" r="0.8"/><circle cx="250.8" cy="104.4" r="0.8"/><circle cx="270.2" cy="111.4" r="0.5"/><circle cx="256.0" cy="122.1" r="0.8"/><circle cx="255.5" cy="76.1" r="0.6"/><circle cx="315.5" cy="91.1" r="0.35"/><circle cx="277.9" cy="114.3" r="0.35"/><circle cx="245.1" cy="71.4" r="0.35"/><circle cx="251.4" cy="110.2" r="0.6"/><circle cx="301.8" cy="75.4" r="0.4"/><circle cx="302.0" cy="74.5" r="0.35"/><circle cx="290.9" cy="76.6" r="0.35"/><circle cx="320.1" cy="94.2" r="0.5"/><circle cx="318.0" cy="100.0" r="0.5"/><circle cx="290.3" cy="132.6" r="0.6"/><circle cx="268.2" cy="51.2" r="0.4"/><circle cx="237.2" cy="136.7" r="0.4"/><circle cx="300.8" cy="99.4" r="0.5"/><circle cx="289.1" cy="56.4" r="0.6"/><circle cx="282.7" cy="115.9" r="0.4"/><circle cx="307.6" cy="120.8" r="0.6"/><circle cx="239.0" cy="84.6" r="0.5"/><circle cx="251.7" cy="43.2" r="0.4"/><circle cx="260.7" cy="97.2" r="0.8"/><circle cx="312.2" cy="109.4" r="0.8"/><circle cx="236.6" cy="49.5" r="0.5"/><circle cx="310.1" cy="101.3" r="0.8"/><circle cx="264.7" cy="86.8" r="0.4"/></g>
<path d="M233.3,57.3C233.7,56.9 235.9,55.8 235.9,54.7C235.9,53.6 233.1,51.4 233.3,49.7C233.5,48.0 235.0,44.9 237.1,43.4C239.2,41.9 243.8,40.2 247.2,39.6C250.6,39.0 256.0,39.3 259.8,39.6C263.6,39.9 268.6,40.6 272.4,41.6C276.2,42.6 281.3,44.4 285.0,46.3C288.7,48.2 293.4,51.2 296.9,54.1C300.4,57.0 305.4,61.8 308.3,65.3C311.2,68.8 314.7,73.7 316.5,77.4C318.3,81.1 319.6,86.2 320.2,90.0C320.8,93.8 321.1,98.8 320.7,102.6C320.3,106.4 319.3,111.8 317.7,115.2C316.1,118.6 312.8,122.8 310.2,125.3C307.6,127.8 303.1,130.4 300.1,131.6C297.1,132.8 292.0,133.3 290.0,133.6C288.0,133.9 287.0,133.9 286.5,133.9" fill="none" stroke="#c80000" stroke-width="1.3" opacity="0.8"/>
</g>
<path d="M272.10,111.30L274.80,115.50L276.20,122.30L278.90,129.20L284.00,133.30L290.50,134.60L290.50,155.10L232.50,155.10L233.60,130.60L236.40,136.80L243.20,139.90L250.10,136.10L255.60,130.60L257.00,125.10L255.50,122.60L259.70,120.30L265.20,117.50L270.00,114.10Z" fill="#080000"/>
<g clip-path="url(#clip2)">
<path d="M272.10,111.30L274.80,115.50L276.20,122.30L278.90,129.20L284.00,133.30" fill="none" stroke="#c80000" stroke-width="0.7" stroke-opacity="0.6" stroke-linejoin="round"/>
<path d="M233.60,130.60L236.40,136.80L243.20,139.90L250.10,136.10L255.60,130.60L257.00,125.10L255.50,122.60L259.70,120.30L265.20,117.50L270.00,114.10L272.10,111.30" fill="none" stroke="#c80000" stroke-width="0.7" stroke-opacity="0.6" stroke-linejoin="round"/>
</g></g>
<path d="M306.4,98.8C307.0,97.4 309.0,97.2 310.2,97.1C311.4,97.0 315.4,97.5 316.5,98.1C317.6,98.7 319.4,101.2 319.7,102.6C320.0,104.0 319.7,108.1 319.0,110.2C318.3,112.3 315.2,118.1 313.9,120.2C312.6,122.3 309.1,126.8 307.6,127.8C306.1,128.8 302.6,129.4 301.3,129.1C300.0,128.8 297.0,126.3 296.3,125.3C295.6,124.3 294.6,121.5 295.0,120.2C295.4,118.9 298.9,115.2 300.1,113.9C301.3,112.6 304.4,110.7 305.1,108.9C305.8,107.1 305.8,100.2 306.4,98.8Z" fill="none" stroke="#fff" stroke-width="1.1" stroke-dasharray="2.1 1.3"/>
<text x="326.30" y="38.30" font-size="7.3" text-anchor="end" fill="#fff">6 months</text>
<text x="322.30" y="133.90" font-size="6.7" text-anchor="end" fill="#fff">LEC</text>
<rect x="305.10" y="144.80" width="17.20" height="2.40" fill="#fff"/>
<rect x="333.20" y="28.10" width="104.40" height="120.30" fill="#080000"/>
<clipPath id="clip3"><path d="M339.6,54.7C340.2,54.3 343.2,53.3 343.4,52.2C343.6,51.1 340.5,49.3 340.9,47.2C341.3,45.1 343.8,40.5 345.9,38.4C348.0,36.3 351.5,34.2 354.7,33.3C357.9,32.4 363.5,32.3 367.3,32.6C371.1,32.9 376.1,33.8 379.9,35.1C383.7,36.4 388.8,39.0 392.5,41.3C396.2,43.6 400.9,47.3 404.4,50.5C407.9,53.7 412.9,59.0 415.8,62.9C418.7,66.8 422.2,72.1 424.0,76.2C425.8,80.3 427.0,86.0 427.8,90.0C428.5,94.0 429.2,99.0 429.0,102.6C428.8,106.2 427.8,110.5 426.5,113.9C425.2,117.3 422.5,122.5 420.2,125.3C417.9,128.1 414.2,131.0 411.4,132.8C408.6,134.6 403.7,136.7 401.3,137.6C398.9,138.5 396.1,138.9 395.2,139.1L395.2,154.1L339.6,154.1Z"/></clipPath>
<clipPath id="pclip3"><rect x="333.20" y="28.10" width="104.40" height="120.30"/></clipPath>
<g clip-path="url(#pclip3)"><g clip-path="url(#clip3)">
<path d="M339.6,54.7C340.2,54.3 343.2,53.3 343.4,52.2C343.6,51.1 340.5,49.3 340.9,47.2C341.3,45.1 343.8,40.5 345.9,38.4C348.0,36.3 351.5,34.2 354.7,33.3C357.9,32.4 363.5,32.3 367.3,32.6C371.1,32.9 376.1,33.8 379.9,35.1C383.7,36.4 388.8,39.0 392.5,41.3C396.2,43.6 400.9,47.3 404.4,50.5C407.9,53.7 412.9,59.0 415.8,62.9C418.7,66.8 422.2,72.1 424.0,76.2C425.8,80.3 427.0,86.0 427.8,90.0C428.5,94.0 429.2,99.0 429.0,102.6C428.8,106.2 427.8,110.5 426.5,113.9C425.2,117.3 422.5,122.5 420.2,125.3C417.9,128.1 414.2,131.0 411.4,132.8C408.6,134.6 403.7,136.7 401.3,137.6C398.9,138.5 396.1,138.9 395.2,139.1L395.2,154.1L339.6,154.1Z" fill="#a00000"/>
<path d="M345.9,38.4C347.2,37.6 351.5,34.2 354.7,33.3C357.9,32.4 363.5,32.3 367.3,32.6C371.1,32.9 376.1,33.8 379.9,35.1C383.7,36.4 388.8,39.0 392.5,41.3C396.2,43.6 400.9,47.3 404.4,50.5C407.9,53.7 412.9,59.0 415.8,62.9C418.7,66.8 422.2,72.1 424.0,76.2C425.8,80.3 427.0,86.0 427.8,90.0C428.5,94.0 429.2,99.0 429.0,102.6C428.8,106.2 427.8,110.5 426.5,113.9C425.2,117.3 422.5,122.5 420.2,125.3C417.9,128.1 414.2,131.0 411.4,132.8C408.6,134.6 402.8,136.9 401.3,137.6" fill="none" stroke="#c20000" stroke-width="30" stroke-linecap="round" filter="url(#blur1)" opacity="0.9"/>
<rect x="333.2" y="28.1" width="104.4" height="120.3" filter="url(#mottle)" opacity="0.55"/>
<path d="M363.2,61.1C365.2,62.3 371.5,64.9 375.2,68.1C378.9,71.3 382.7,75.8 385.2,80.1C387.7,84.4 389.7,89.4 390.2,94.1C390.7,98.8 389.7,104.1 388.2,108.1C386.7,112.1 382.4,116.4 381.2,118.1" fill="none" stroke="#160000" stroke-width="3.0" opacity="0.6" filter="url(#blur2)"/>
<path d="M345.2,56.1C347.5,56.4 354.5,56.8 359.2,58.1C363.9,59.4 368.5,61.3 373.2,64.1C377.9,66.9 383.2,70.8 387.2,75.1C391.2,79.4 395.2,84.9 397.2,90.1C399.2,95.3 399.9,101.1 399.2,106.1C398.5,111.1 394.2,117.8 393.2,120.1" fill="none" stroke="#100000" stroke-width="1.4" opacity="0.25" filter="url(#blur2)"/>
<path d="M363.2,61.1C365.2,62.3 371.5,64.9 375.2,68.1C378.9,71.3 382.7,75.8 385.2,80.1C387.7,84.4 389.7,89.4 390.2,94.1C390.7,98.8 389.7,104.1 388.2,108.1C386.7,112.1 382.4,116.4 381.2,118.1" fill="none" stroke="#f80808" stroke-width="0.6" opacity="0.5" transform="translate(1.6,-0.6)"/>
<g fill="#ff1010" opacity="0.75" filter="url(#blur2)"><circle cx="408.2" cy="116.5" r="0.4"/><circle cx="410.4" cy="106.8" r="0.5"/><circle cx="356.7" cy="41.0" r="0.4"/><circle cx="396.6" cy="63.4" r="0.8"/><circle cx="408.7" cy="78.0" r="0.8"/><circle cx="393.0" cy="127.6" r="0.4"/><circle cx="356.0" cy="111.5" r="0.5"/><circle cx="412.3" cy="91.6" r="0.5"/><circle cx="383.5" cy="45.6" r="0.5"/><circle cx="383.4" cy="70.0" r="0.8"/><circle cx="413.8" cy="113.4" r="0.5"/><circle cx="398.0" cy="74.0" r="0.8"/><circle cx="400.7" cy="133.1" r="0.6"/><circle cx="358.2" cy="56.7" r="0.4"/><circle cx="357.1" cy="74.6" r="0.8"/><circle cx="380.6" cy="38.8" r="0.4"/><circle cx="403.8" cy="67.5" r="0.8"/><circle cx="400.9" cy="56.0" r="0.35"/><circle cx="404.4" cy="69.7" r="0.5"/><circle cx="400.8" cy="118.1" r="0.35"/><circle cx="398.1" cy="74.3" r="0.8"/><circle cx="408.8" cy="117.6" r="0.5"/><circle cx="376.4" cy="60.2" r="0.35"/><circle cx="416.1" cy="78.7" r="0.4"/><circle cx="381.1" cy="81.5" r="0.6"/><circle cx="390.3" cy="133.0" r="0.6"/><circle cx="358.4" cy="83.6" r="0.35"/><circle cx="390.7" cy="41.6" r="0.35"/><circle cx="347.5" cy="45.6" r="0.5"/><circle cx="411.6" cy="125.0" r="0.5"/><circle cx="405.6" cy="58.6" r="0.35"/><circle cx="416.1" cy="119.2" r="0.6"/><circle cx="414.3" cy="63.9" r="0.5"/><circle cx="402.8" cy="106.7" r="0.8"/><circle cx="394.8" cy="55.9" r="0.5"/><circle cx="344.4" cy="62.7" r="0.6"/><circle cx="407.3" cy="107.4" r="0.5"/><circle cx="396.5" cy="67.2" r="0.5"/><circle cx="402.4" cy="67.7" r="0.35"/><circle cx="374.9" cy="41.3" r="0.8"/><circle cx="409.7" cy="68.4" r="0.8"/><circle cx="387.9" cy="126.7" r="0.8"/><circle cx="361.5" cy="112.5" r="0.4"/><circle cx="399.6" cy="127.1" r="0.8"/><circle cx="343.9" cy="70.6" r="0.8"/><circle cx="426.6" cy="107.3" r="0.35"/><circle cx="403.5" cy="128.9" r="0.6"/><circle cx="353.3" cy="62.2" r="0.5"/><circle cx="360.5" cy="133.6" r="0.6"/><circle cx="423.8" cy="110.8" r="0.6"/><circle cx="417.9" cy="124.9" r="0.5"/><circle cx="364.5" cy="56.5" r="0.6"/><circle cx="352.5" cy="108.8" r="0.8"/><circle cx="365.5" cy="123.2" r="0.8"/><circle cx="407.4" cy="56.2" r="0.35"/><circle cx="398.5" cy="102.2" r="0.5"/><circle cx="392.9" cy="66.5" r="0.4"/><circle cx="366.5" cy="57.4" r="0.4"/><circle cx="380.0" cy="44.0" r="0.35"/><circle cx="358.3" cy="39.9" r="0.6"/><circle cx="377.4" cy="102.8" r="0.6"/><circle cx="378.5" cy="72.5" r="0.5"/><circle cx="406.5" cy="64.3" r="0.8"/><circle cx="364.9" cy="52.0" r="0.8"/><circle cx="409.6" cy="64.8" r="0.5"/><circle cx="349.3" cy="131.7" r="0.8"/><circle cx="411.4" cy="76.8" r="0.4"/><circle cx="357.6" cy="135.5" r="0.35"/><circle cx="405.8" cy="111.7" r="0.8"/><circle cx="413.9" cy="110.8" r="0.8"/><circle cx="418.8" cy="114.5" r="0.4"/><circle cx="403.1" cy="66.2" r="0.6"/><circle cx="406.4" cy="75.9" r="0.8"/><circle cx="396.6" cy="101.2" r="0.5"/><circle cx="389.7" cy="134.0" r="0.4"/><circle cx="406.2" cy="126.9" r="0.6"/><circle cx="343.5" cy="47.5" r="0.8"/><circle cx="398.6" cy="112.8" r="0.6"/><circle cx="395.4" cy="74.4" r="0.5"/><circle cx="404.6" cy="128.2" r="0.35"/><circle cx="360.5" cy="49.8" r="0.4"/><circle cx="366.0" cy="33.8" r="0.6"/><circle cx="424.6" cy="109.9" r="0.5"/><circle cx="380.1" cy="46.4" r="0.8"/><circle cx="409.0" cy="94.2" r="0.6"/><circle cx="385.9" cy="38.9" r="0.5"/><circle cx="357.3" cy="96.9" r="0.8"/><circle cx="354.1" cy="128.5" r="0.8"/><circle cx="421.6" cy="105.4" r="0.5"/><circle cx="349.1" cy="46.5" r="0.5"/><circle cx="382.8" cy="41.7" r="0.5"/><circle cx="348.0" cy="133.2" r="0.5"/><circle cx="389.3" cy="49.8" r="0.5"/><circle cx="345.8" cy="127.6" r="0.8"/><circle cx="369.2" cy="89.1" r="0.5"/><circle cx="363.4" cy="79.1" r="0.4"/><circle cx="380.9" cy="44.5" r="0.6"/><circle cx="414.5" cy="111.9" r="0.35"/><circle cx="372.4" cy="61.2" r="0.6"/><circle cx="343.8" cy="54.0" r="0.6"/><circle cx="408.7" cy="95.3" r="0.8"/><circle cx="391.0" cy="82.9" r="0.5"/><circle cx="353.4" cy="74.1" r="0.6"/><circle cx="359.8" cy="133.5" r="0.8"/><circle cx="418.0" cy="96.3" r="0.5"/><circle cx="380.1" cy="49.0" r="0.35"/><circle cx="400.1" cy="69.0" r="0.5"/><circle cx="411.0" cy="132.7" r="0.5"/><circle cx="357.6" cy="48.9" r="0.6"/><circle cx="414.9" cy="82.2" r="0.4"/><circle cx="418.5" cy="109.6" r="0.8"/><circle cx="340.0" cy="113.1" r="0.8"/><circle cx="368.9" cy="75.6" r="0.35"/><circle cx="362.8" cy="44.4" r="0.5"/><circle cx="351.6" cy="142.3" r="0.35"/><circle cx="349.8" cy="77.5" r="0.4"/><circle cx="420.2" cy="103.2" r="0.6"/><circle cx="387.5" cy="128.6" r="0.5"/><circle cx="400.9" cy="52.6" r="0.5"/><circle cx="374.1" cy="51.7" r="0.5"/><circle cx="417.9" cy="120.7" r="0.5"/><circle cx="364.4" cy="117.5" r="0.5"/><circle cx="345.8" cy="119.8" r="0.35"/><circle cx="391.2" cy="123.1" r="0.35"/><circle cx="383.4" cy="127.5" r="0.4"/><circle cx="369.1" cy="110.8" r="0.35"/><circle cx="425.8" cy="98.6" r="0.8"/><circle cx="358.4" cy="49.0" r="0.6"/><circle cx="388.8" cy="51.4" r="0.8"/><circle cx="345.2" cy="116.1" r="0.35"/><circle cx="398.8" cy="67.1" r="0.35"/><circle cx="358.7" cy="46.0" r="0.8"/><circle cx="419.1" cy="122.1" r="0.5"/><circle cx="379.7" cy="35.5" r="0.5"/><circle cx="399.5" cy="76.2" r="0.5"/><circle cx="392.6" cy="96.2" r="0.8"/><circle cx="358.4" cy="49.3" r="0.35"/><circle cx="392.6" cy="112.7" r="0.35"/><circle cx="413.8" cy="128.3" r="0.8"/><circle cx="391.5" cy="112.7" r="0.8"/><circle cx="379.3" cy="119.5" r="0.5"/><circle cx="424.6" cy="117.3" r="0.5"/><circle cx="420.9" cy="107.4" r="0.35"/><circle cx="406.6" cy="69.6" r="0.5"/><circle cx="366.5" cy="48.5" r="0.35"/><circle cx="348.3" cy="55.2" r="0.5"/><circle cx="382.2" cy="72.9" r="0.35"/><circle cx="416.4" cy="64.3" r="0.4"/><circle cx="412.0" cy="98.4" r="0.5"/><circle cx="401.3" cy="107.8" r="0.8"/><circle cx="387.5" cy="64.4" r="0.5"/><circle cx="405.0" cy="51.5" r="0.6"/><circle cx="351.6" cy="109.6" r="0.5"/><circle cx="393.9" cy="46.7" r="0.35"/><circle cx="404.4" cy="68.5" r="0.6"/><circle cx="392.1" cy="61.0" r="0.5"/><circle cx="348.4" cy="134.2" r="0.5"/><circle cx="389.4" cy="127.7" r="0.8"/><circle cx="418.8" cy="75.1" r="0.4"/><circle cx="364.7" cy="65.3" r="0.5"/><circle cx="372.3" cy="51.4" r="0.6"/><circle cx="400.1" cy="94.3" r="0.5"/><circle cx="361.2" cy="124.2" r="0.5"/><circle cx="349.1" cy="37.7" r="0.6"/><circle cx="420.2" cy="113.3" r="0.4"/><circle cx="384.5" cy="61.0" r="0.8"/><circle cx="355.4" cy="122.7" r="0.6"/><circle cx="361.6" cy="46.2" r="0.4"/><circle cx="374.1" cy="51.6" r="0.5"/><circle cx="390.1" cy="93.0" r="0.5"/><circle cx="407.5" cy="125.6" r="0.5"/><circle cx="393.4" cy="121.2" r="0.35"/><circle cx="348.8" cy="56.1" r="0.8"/><circle cx="415.2" cy="71.0" r="0.6"/><circle cx="391.3" cy="49.8" r="0.6"/><circle cx="412.5" cy="131.6" r="0.5"/><circle cx="349.2" cy="127.5" r="0.5"/><circle cx="351.7" cy="119.1" r="0.8"/><circle cx="390.7" cy="94.3" r="0.35"/><circle cx="356.1" cy="38.1" r="0.35"/><circle cx="399.6" cy="106.6" r="0.5"/><circle cx="424.9" cy="110.0" r="0.5"/><circle cx="422.8" cy="92.4" r="0.4"/><circle cx="356.6" cy="85.7" r="0.5"/><circle cx="382.6" cy="55.4" r="0.4"/><circle cx="422.0" cy="85.2" r="0.8"/><circle cx="394.5" cy="88.2" r="0.6"/><circle cx="420.6" cy="71.5" r="0.6"/><circle cx="423.1" cy="82.6" r="0.4"/><circle cx="366.9" cy="35.6" r="0.5"/><circle cx="390.7" cy="103.0" r="0.5"/><circle cx="419.2" cy="75.2" r="0.5"/><circle cx="401.4" cy="133.2" r="0.4"/><circle cx="356.9" cy="42.7" r="0.6"/><circle cx="406.0" cy="73.2" r="0.5"/><circle cx="343.7" cy="57.6" r="0.8"/><circle cx="362.4" cy="69.8" r="0.4"/><circle cx="355.9" cy="136.5" r="0.5"/><circle cx="356.4" cy="113.8" r="0.5"/><circle cx="369.9" cy="86.5" r="0.4"/><circle cx="420.4" cy="117.0" r="0.8"/><circle cx="357.7" cy="138.4" r="0.8"/><circle cx="401.5" cy="92.9" r="0.35"/><circle cx="425.9" cy="101.0" r="0.6"/><circle cx="394.7" cy="71.3" r="0.6"/><circle cx="384.9" cy="96.1" r="0.5"/><circle cx="422.5" cy="108.7" r="0.6"/><circle cx="357.8" cy="54.6" r="0.5"/><circle cx="404.3" cy="69.0" r="0.35"/><circle cx="385.8" cy="51.3" r="0.35"/><circle cx="344.4" cy="133.0" r="0.5"/><circle cx="392.6" cy="50.1" r="0.8"/><circle cx="408.4" cy="70.6" r="0.35"/><circle cx="417.6" cy="121.5" r="0.5"/><circle cx="350.2" cy="103.4" r="0.8"/><circle cx="366.1" cy="65.0" r="0.6"/><circle cx="358.1" cy="48.4" r="0.4"/><circle cx="398.6" cy="60.8" r="0.8"/><circle cx="421.4" cy="84.3" r="0.6"/><circle cx="418.1" cy="89.5" r="0.5"/><circle cx="354.9" cy="33.3" r="0.6"/><circle cx="375.6" cy="97.3" r="0.35"/><circle cx="357.0" cy="35.8" r="0.4"/><circle cx="408.5" cy="119.2" r="0.4"/><circle cx="370.9" cy="104.5" r="0.35"/><circle cx="341.8" cy="114.7" r="0.5"/><circle cx="370.9" cy="45.5" r="0.5"/><circle cx="405.2" cy="112.4" r="0.4"/><circle cx="365.3" cy="63.4" r="0.4"/><circle cx="356.4" cy="47.3" r="0.35"/><circle cx="424.5" cy="113.0" r="0.8"/><circle cx="390.6" cy="51.9" r="0.8"/><circle cx="406.9" cy="88.2" r="0.5"/><circle cx="361.5" cy="133.5" r="0.5"/><circle cx="407.6" cy="101.5" r="0.8"/><circle cx="404.7" cy="86.5" r="0.4"/><circle cx="412.3" cy="73.3" r="0.5"/><circle cx="398.1" cy="71.1" r="0.5"/><circle cx="380.1" cy="114.8" r="0.4"/><circle cx="339.9" cy="71.6" r="0.5"/><circle cx="361.4" cy="56.3" r="0.5"/><circle cx="349.8" cy="140.9" r="0.8"/><circle cx="357.5" cy="39.7" r="0.8"/><circle cx="351.5" cy="121.0" r="0.4"/><circle cx="386.6" cy="46.8" r="0.6"/><circle cx="398.5" cy="91.0" r="0.5"/><circle cx="382.1" cy="69.4" r="0.5"/><circle cx="340.2" cy="100.5" r="0.5"/><circle cx="396.4" cy="71.8" r="0.35"/><circle cx="352.4" cy="126.8" r="0.6"/><circle cx="405.3" cy="66.4" r="0.5"/><circle cx="370.6" cy="81.0" r="0.5"/><circle cx="399.6" cy="80.5" r="0.5"/><circle cx="382.6" cy="47.4" r="0.35"/><circle cx="341.8" cy="61.4" r="0.35"/><circle cx="345.7" cy="50.2" r="0.4"/><circle cx="372.7" cy="117.7" r="0.8"/><circle cx="367.6" cy="100.9" r="0.6"/><circle cx="387.1" cy="63.0" r="0.6"/><circle cx="417.3" cy="93.2" r="0.6"/><circle cx="373.8" cy="52.1" r="0.5"/><circle cx="387.5" cy="105.5" r="0.4"/><circle cx="384.5" cy="87.7" r="0.35"/><circle cx="395.1" cy="117.2" r="0.6"/><circle cx="341.5" cy="95.8" r="0.35"/><circle cx="390.7" cy="120.3" r="0.4"/><circle cx="422.6" cy="115.0" r="0.5"/><circle cx="343.8" cy="95.7" r="0.5"/><circle cx="343.4" cy="48.7" r="0.5"/><circle cx="397.8" cy="133.2" r="0.6"/><circle cx="423.1" cy="96.1" r="0.4"/><circle cx="398.6" cy="122.0" r="0.5"/><circle cx="348.7" cy="50.1" r="0.35"/><circle cx="368.8" cy="95.5" r="0.4"/><circle cx="362.7" cy="59.1" r="0.5"/><circle cx="413.4" cy="66.5" r="0.8"/><circle cx="375.4" cy="105.6" r="0.35"/><circle cx="396.9" cy="119.3" r="0.5"/><circle cx="377.1" cy="38.9" r="0.4"/><circle cx="343.1" cy="135.1" r="0.5"/><circle cx="355.1" cy="91.5" r="0.4"/><circle cx="423.2" cy="77.4" r="0.4"/><circle cx="347.9" cy="52.3" r="0.4"/><circle cx="395.6" cy="109.3" r="0.4"/><circle cx="349.6" cy="65.3" r="0.4"/><circle cx="424.6" cy="92.6" r="0.5"/><circle cx="406.6" cy="53.0" r="0.35"/><circle cx="397.2" cy="126.9" r="0.35"/><circle cx="371.9" cy="73.8" r="0.4"/><circle cx="356.5" cy="86.5" r="0.5"/><circle cx="381.1" cy="36.0" r="0.4"/><circle cx="407.9" cy="131.9" r="0.35"/><circle cx="351.6" cy="91.8" r="0.6"/><circle cx="394.8" cy="84.3" r="0.5"/><circle cx="366.8" cy="57.7" r="0.6"/><circle cx="420.2" cy="83.3" r="0.4"/><circle cx="375.3" cy="58.1" r="0.35"/><circle cx="355.4" cy="102.5" r="0.5"/><circle cx="347.2" cy="76.4" r="0.35"/><circle cx="359.7" cy="101.5" r="0.35"/><circle cx="407.3" cy="99.4" r="0.6"/><circle cx="356.7" cy="61.0" r="0.4"/><circle cx="372.4" cy="62.6" r="0.4"/><circle cx="403.0" cy="53.1" r="0.8"/><circle cx="396.6" cy="127.6" r="0.35"/><circle cx="399.8" cy="102.0" r="0.5"/><circle cx="383.4" cy="115.4" r="0.6"/><circle cx="349.5" cy="41.9" r="0.35"/><circle cx="347.0" cy="122.4" r="0.5"/><circle cx="358.1" cy="105.1" r="0.8"/><circle cx="424.1" cy="104.1" r="0.6"/><circle cx="419.7" cy="72.4" r="0.6"/><circle cx="360.9" cy="50.0" r="0.5"/><circle cx="362.5" cy="55.8" r="0.35"/><circle cx="409.4" cy="104.9" r="0.8"/><circle cx="387.0" cy="132.3" r="0.5"/><circle cx="415.7" cy="95.0" r="0.4"/><circle cx="345.3" cy="80.0" r="0.8"/><circle cx="359.9" cy="107.0" r="0.5"/><circle cx="355.5" cy="65.4" r="0.4"/><circle cx="342.7" cy="130.4" r="0.5"/><circle cx="412.5" cy="69.1" r="0.8"/><circle cx="344.2" cy="77.4" r="0.8"/><circle cx="339.9" cy="125.8" r="0.4"/><circle cx="349.6" cy="53.4" r="0.8"/><circle cx="425.6" cy="92.5" r="0.4"/><circle cx="410.7" cy="120.4" r="0.5"/><circle cx="358.1" cy="99.4" r="0.6"/><circle cx="354.6" cy="47.1" r="0.8"/><circle cx="378.9" cy="77.6" r="0.5"/><circle cx="346.0" cy="87.6" r="0.5"/><circle cx="396.1" cy="120.1" r="0.5"/><circle cx="412.5" cy="74.2" r="0.5"/><circle cx="399.9" cy="128.6" r="0.35"/><circle cx="369.1" cy="48.5" r="0.6"/><circle cx="367.1" cy="87.5" r="0.35"/><circle cx="365.9" cy="51.0" r="0.5"/><circle cx="409.5" cy="92.0" r="0.8"/><circle cx="351.6" cy="40.2" r="0.35"/><circle cx="411.7" cy="98.2" r="0.8"/><circle cx="355.0" cy="59.5" r="0.5"/><circle cx="389.3" cy="79.1" r="0.35"/><circle cx="342.7" cy="62.4" r="0.35"/><circle cx="361.3" cy="70.7" r="0.5"/><circle cx="395.7" cy="64.8" r="0.6"/><circle cx="416.7" cy="127.5" r="0.5"/><circle cx="420.8" cy="109.4" r="0.5"/><circle cx="355.0" cy="35.1" r="0.4"/><circle cx="378.1" cy="71.0" r="0.4"/><circle cx="390.1" cy="42.1" r="0.5"/><circle cx="415.3" cy="88.8" r="0.35"/><circle cx="341.5" cy="116.4" r="0.35"/><circle cx="411.6" cy="68.5" r="0.6"/><circle cx="356.0" cy="46.9" r="0.35"/><circle cx="383.0" cy="87.8" r="0.5"/><circle cx="354.2" cy="135.6" r="0.35"/><circle cx="410.4" cy="103.0" r="0.6"/><circle cx="394.5" cy="52.8" r="0.5"/><circle cx="418.0" cy="88.3" r="0.6"/><circle cx="368.4" cy="108.8" r="0.4"/><circle cx="358.9" cy="42.0" r="0.35"/><circle cx="417.2" cy="74.9" r="0.4"/><circle cx="355.1" cy="70.4" r="0.6"/><circle cx="416.4" cy="66.4" r="0.8"/><circle cx="408.9" cy="125.2" r="0.5"/><circle cx="345.2" cy="132.3" r="0.35"/><circle cx="354.2" cy="39.5" r="0.35"/><circle cx="345.5" cy="131.8" r="0.4"/><circle cx="359.9" cy="77.7" r="0.4"/><circle cx="391.3" cy="86.5" r="0.5"/><circle cx="354.1" cy="44.6" r="0.5"/><circle cx="368.1" cy="69.8" r="0.35"/><circle cx="404.5" cy="101.1" r="0.5"/><circle cx="347.7" cy="130.6" r="0.4"/><circle cx="414.9" cy="76.2" r="0.6"/><circle cx="390.5" cy="62.2" r="0.35"/><circle cx="416.9" cy="65.5" r="0.6"/><circle cx="404.2" cy="60.8" r="0.35"/><circle cx="406.8" cy="77.6" r="0.5"/><circle cx="414.3" cy="81.5" r="0.35"/><circle cx="421.6" cy="108.5" r="0.5"/><circle cx="342.3" cy="136.5" r="0.35"/><circle cx="417.2" cy="77.6" r="0.5"/><circle cx="424.7" cy="88.0" r="0.6"/><circle cx="402.1" cy="74.0" r="0.8"/><circle cx="370.1" cy="49.3" r="0.5"/><circle cx="399.6" cy="131.8" r="0.4"/><circle cx="384.4" cy="116.9" r="0.5"/><circle cx="424.1" cy="80.0" r="0.5"/><circle cx="359.6" cy="135.6" r="0.35"/><circle cx="420.2" cy="79.2" r="0.5"/><circle cx="374.5" cy="94.7" r="0.4"/><circle cx="386.5" cy="39.7" r="0.8"/><circle cx="366.0" cy="114.3" r="0.5"/><circle cx="380.8" cy="46.1" r="0.8"/><circle cx="375.0" cy="52.3" r="0.5"/><circle cx="375.5" cy="47.7" r="0.4"/><circle cx="415.0" cy="92.2" r="0.5"/><circle cx="404.5" cy="118.2" r="0.4"/><circle cx="421.8" cy="99.9" r="0.5"/><circle cx="358.7" cy="61.0" r="0.8"/><circle cx="415.9" cy="111.8" r="0.35"/><circle cx="386.9" cy="87.1" r="0.4"/><circle cx="406.4" cy="105.3" r="0.6"/><circle cx="356.4" cy="141.1" r="0.5"/><circle cx="372.7" cy="60.3" r="0.5"/><circle cx="387.0" cy="98.8" r="0.4"/><circle cx="424.6" cy="107.6" r="0.6"/><circle cx="355.0" cy="79.7" r="0.8"/><circle cx="404.4" cy="103.3" r="0.35"/><circle cx="390.8" cy="85.2" r="0.5"/><circle cx="361.5" cy="98.7" r="0.35"/><circle cx="413.1" cy="119.4" r="0.8"/><circle cx="359.8" cy="85.0" r="0.4"/><circle cx="416.4" cy="84.3" r="0.35"/><circle cx="359.7" cy="59.4" r="0.35"/><circle cx="422.4" cy="100.0" r="0.6"/><circle cx="363.9" cy="64.0" r="0.35"/><circle cx="409.8" cy="102.4" r="0.4"/><circle cx="386.6" cy="131.5" r="0.5"/><circle cx="344.5" cy="80.7" r="0.5"/><circle cx="389.5" cy="50.6" r="0.4"/><circle cx="391.3" cy="136.8" r="0.4"/><circle cx="393.6" cy="136.1" r="0.4"/><circle cx="419.0" cy="77.2" r="0.4"/><circle cx="377.2" cy="71.0" r="0.4"/><circle cx="424.5" cy="93.7" r="0.4"/><circle cx="413.7" cy="65.6" r="0.8"/><circle cx="376.4" cy="60.0" r="0.6"/><circle cx="408.0" cy="126.8" r="0.35"/><circle cx="343.1" cy="70.3" r="0.4"/><circle cx="371.8" cy="79.3" r="0.35"/><circle cx="352.5" cy="91.2" r="0.4"/><circle cx="357.8" cy="140.5" r="0.8"/><circle cx="412.1" cy="59.4" r="0.35"/><circle cx="386.6" cy="89.3" r="0.5"/><circle cx="413.6" cy="130.6" r="0.4"/><circle cx="374.6" cy="50.2" r="0.5"/><circle cx="361.1" cy="35.9" r="0.5"/><circle cx="363.8" cy="126.9" r="0.6"/><circle cx="372.3" cy="84.4" r="0.6"/><circle cx="341.3" cy="139.2" r="0.4"/><circle cx="380.3" cy="39.7" r="0.5"/><circle cx="359.6" cy="43.1" r="0.35"/><circle cx="378.3" cy="54.6" r="0.8"/><circle cx="366.6" cy="57.8" r="0.5"/><circle cx="348.7" cy="98.4" r="0.8"/><circle cx="386.3" cy="51.8" r="0.8"/><circle cx="407.8" cy="59.1" r="0.35"/><circle cx="344.8" cy="139.7" r="0.8"/><circle cx="342.3" cy="72.7" r="0.5"/><circle cx="398.4" cy="138.1" r="0.5"/><circle cx="344.5" cy="111.7" r="0.5"/><circle cx="389.2" cy="99.6" r="0.35"/><circle cx="357.0" cy="115.9" r="0.35"/><circle cx="409.7" cy="125.5" r="0.35"/><circle cx="385.7" cy="93.2" r="0.5"/><circle cx="366.3" cy="99.4" r="0.5"/><circle cx="369.2" cy="40.3" r="0.6"/><circle cx="368.2" cy="85.6" r="0.8"/><circle cx="404.1" cy="61.1" r="0.6"/><circle cx="362.9" cy="96.7" r="0.4"/><circle cx="421.7" cy="107.4" r="0.8"/><circle cx="356.1" cy="138.5" r="0.5"/><circle cx="405.5" cy="57.2" r="0.5"/><circle cx="378.2" cy="104.8" r="0.5"/><circle cx="350.6" cy="65.7" r="0.8"/><circle cx="391.4" cy="95.5" r="0.5"/><circle cx="389.0" cy="50.5" r="0.4"/><circle cx="364.1" cy="37.1" r="0.4"/><circle cx="377.9" cy="80.9" r="0.6"/><circle cx="364.5" cy="42.8" r="0.8"/><circle cx="348.2" cy="72.4" r="0.6"/><circle cx="381.6" cy="60.7" r="0.8"/><circle cx="373.5" cy="81.2" r="0.35"/><circle cx="397.3" cy="100.2" r="0.5"/><circle cx="341.9" cy="83.2" r="0.35"/><circle cx="352.8" cy="135.5" r="0.6"/><circle cx="351.5" cy="58.3" r="0.5"/><circle cx="347.1" cy="109.9" r="0.5"/><circle cx="410.5" cy="105.9" r="0.4"/><circle cx="343.5" cy="68.9" r="0.6"/><circle cx="415.8" cy="114.6" r="0.8"/><circle cx="379.4" cy="113.5" r="0.6"/><circle cx="359.2" cy="126.2" r="0.6"/><circle cx="402.5" cy="116.2" r="0.5"/><circle cx="358.6" cy="59.4" r="0.5"/><circle cx="378.1" cy="63.3" r="0.35"/><circle cx="354.8" cy="77.1" r="0.5"/><circle cx="376.0" cy="51.7" r="0.4"/><circle cx="344.6" cy="56.5" r="0.5"/><circle cx="406.5" cy="98.2" r="0.6"/><circle cx="363.8" cy="79.4" r="0.6"/><circle cx="375.4" cy="87.1" r="0.5"/><circle cx="346.8" cy="133.6" r="0.5"/><circle cx="368.2" cy="51.4" r="0.8"/><circle cx="341.0" cy="104.6" r="0.5"/><circle cx="371.8" cy="70.3" r="0.5"/><circle cx="404.2" cy="113.6" r="0.8"/><circle cx="414.4" cy="62.2" r="0.5"/><circle cx="346.4" cy="72.3" r="0.8"/><circle cx="398.8" cy="107.2" r="0.5"/><circle cx="410.9" cy="92.9" r="0.5"/><circle cx="382.4" cy="79.3" r="0.6"/><circle cx="409.9" cy="59.3" r="0.4"/><circle cx="421.8" cy="96.2" r="0.5"/><circle cx="407.8" cy="102.2" r="0.4"/><circle cx="343.4" cy="138.1" r="0.8"/><circle cx="406.2" cy="113.1" r="0.35"/><circle cx="412.7" cy="130.4" r="0.5"/><circle cx="393.4" cy="61.9" r="0.5"/><circle cx="410.9" cy="86.2" r="0.5"/><circle cx="345.8" cy="137.7" r="0.5"/><circle cx="398.8" cy="64.6" r="0.5"/><circle cx="387.2" cy="60.9" r="0.5"/><circle cx="355.7" cy="56.5" r="0.4"/><circle cx="346.9" cy="57.7" r="0.35"/><circle cx="427.5" cy="97.5" r="0.35"/><circle cx="349.7" cy="119.0" r="0.5"/><circle cx="382.8" cy="62.8" r="0.8"/><circle cx="393.1" cy="122.2" r="0.5"/><circle cx="372.2" cy="96.3" r="0.35"/><circle cx="412.4" cy="103.9" r="0.5"/><circle cx="410.5" cy="64.1" r="0.8"/><circle cx="373.1" cy="97.0" r="0.8"/><circle cx="347.1" cy="72.3" r="0.5"/><circle cx="345.0" cy="95.2" r="0.5"/><circle cx="410.1" cy="104.7" r="0.6"/><circle cx="387.1" cy="104.6" r="0.6"/><circle cx="344.5" cy="134.9" r="0.5"/><circle cx="393.0" cy="131.5" r="0.4"/><circle cx="378.5" cy="53.6" r="0.6"/><circle cx="390.3" cy="131.6" r="0.35"/><circle cx="375.5" cy="67.7" r="0.5"/><circle cx="387.1" cy="80.2" r="0.4"/><circle cx="378.8" cy="98.6" r="0.4"/><circle cx="404.3" cy="55.1" r="0.5"/><circle cx="404.6" cy="65.5" r="0.5"/><circle cx="380.3" cy="97.6" r="0.5"/><circle cx="352.6" cy="119.2" r="0.8"/><circle cx="351.0" cy="64.7" r="0.4"/><circle cx="382.1" cy="83.7" r="0.8"/><circle cx="400.6" cy="127.7" r="0.6"/><circle cx="364.0" cy="78.8" r="0.35"/><circle cx="372.7" cy="106.9" r="0.4"/><circle cx="427.0" cy="105.4" r="0.6"/><circle cx="378.5" cy="54.0" r="0.4"/><circle cx="368.4" cy="107.4" r="0.5"/><circle cx="352.6" cy="122.9" r="0.4"/><circle cx="395.3" cy="113.4" r="0.6"/><circle cx="354.1" cy="38.1" r="0.8"/><circle cx="404.2" cy="124.1" r="0.5"/><circle cx="355.1" cy="51.8" r="0.8"/><circle cx="360.1" cy="53.3" r="0.8"/><circle cx="357.8" cy="133.7" r="0.35"/><circle cx="389.0" cy="53.6" r="0.6"/><circle cx="403.9" cy="52.8" r="0.4"/><circle cx="354.5" cy="39.6" r="0.5"/><circle cx="413.0" cy="91.6" r="0.6"/><circle cx="371.3" cy="115.0" r="0.4"/><circle cx="406.3" cy="109.6" r="0.4"/><circle cx="357.2" cy="87.5" r="0.4"/><circle cx="392.8" cy="112.7" r="0.6"/><circle cx="384.1" cy="94.1" r="0.5"/><circle cx="398.1" cy="107.4" r="0.5"/><circle cx="394.2" cy="99.4" r="0.5"/><circle cx="418.0" cy="78.8" r="0.5"/><circle cx="394.5" cy="134.5" r="0.4"/><circle cx="410.4" cy="92.3" r="0.5"/><circle cx="403.3" cy="104.1" r="0.8"/><circle cx="386.0" cy="42.8" r="0.8"/><circle cx="378.4" cy="89.7" r="0.6"/><circle cx="352.0" cy="48.8" r="0.8"/><circle cx="367.3" cy="48.5" r="0.4"/><circle cx="411.3" cy="114.8" r="0.8"/><circle cx="372.4" cy="61.7" r="0.5"/><circle cx="419.5" cy="111.9" r="0.6"/><circle cx="355.4" cy="63.8" r="0.4"/><circle cx="351.7" cy="115.7" r="0.5"/><circle cx="418.3" cy="98.4" r="0.4"/><circle cx="350.3" cy="62.0" r="0.6"/><circle cx="392.4" cy="61.8" r="0.5"/><circle cx="347.6" cy="112.9" r="0.5"/><circle cx="380.6" cy="51.1" r="0.8"/><circle cx="346.6" cy="61.6" r="0.35"/><circle cx="369.4" cy="47.2" r="0.8"/><circle cx="372.9" cy="95.6" r="0.6"/><circle cx="353.8" cy="91.5" r="0.6"/><circle cx="375.2" cy="56.6" r="0.5"/><circle cx="370.3" cy="113.4" r="0.6"/><circle cx="388.8" cy="74.3" r="0.5"/><circle cx="405.3" cy="135.1" r="0.5"/><circle cx="380.8" cy="103.5" r="0.4"/><circle cx="365.2" cy="91.7" r="0.35"/><circle cx="376.8" cy="68.4" r="0.35"/><circle cx="344.9" cy="133.7" r="0.8"/><circle cx="378.6" cy="97.0" r="0.8"/><circle cx="366.8" cy="43.1" r="0.4"/><circle cx="340.8" cy="139.9" r="0.6"/><circle cx="388.3" cy="84.9" r="0.4"/><circle cx="366.7" cy="42.4" r="0.5"/><circle cx="393.8" cy="60.1" r="0.4"/><circle cx="394.5" cy="111.3" r="0.5"/><circle cx="405.1" cy="135.5" r="0.8"/><circle cx="401.9" cy="71.9" r="0.35"/><circle cx="360.3" cy="61.4" r="0.35"/><circle cx="396.0" cy="47.3" r="0.8"/><circle cx="356.8" cy="51.4" r="0.8"/><circle cx="383.6" cy="107.0" r="0.5"/><circle cx="399.1" cy="65.2" r="0.4"/><circle cx="409.2" cy="126.0" r="0.5"/><circle cx="424.0" cy="92.3" r="0.5"/><circle cx="408.6" cy="125.5" r="0.35"/><circle cx="341.8" cy="140.9" r="0.5"/><circle cx="378.3" cy="56.7" r="0.35"/><circle cx="390.2" cy="45.8" r="0.4"/><circle cx="390.2" cy="120.6" r="0.4"/><circle cx="351.1" cy="49.6" r="0.8"/><circle cx="352.0" cy="112.6" r="0.5"/><circle cx="359.6" cy="37.5" r="0.35"/><circle cx="388.2" cy="93.6" r="0.5"/><circle cx="423.4" cy="75.9" r="0.5"/><circle cx="412.0" cy="68.5" r="0.8"/><circle cx="342.6" cy="65.5" r="0.8"/><circle cx="364.0" cy="51.4" r="0.8"/><circle cx="350.0" cy="51.2" r="0.35"/><circle cx="348.9" cy="50.7" r="0.6"/><circle cx="396.9" cy="132.6" r="0.4"/><circle cx="398.3" cy="69.4" r="0.6"/><circle cx="355.9" cy="105.5" r="0.35"/><circle cx="427.3" cy="104.0" r="0.6"/><circle cx="390.0" cy="75.5" r="0.35"/><circle cx="340.3" cy="128.6" r="0.5"/><circle cx="365.2" cy="72.2" r="0.5"/><circle cx="346.4" cy="139.4" r="0.5"/><circle cx="356.3" cy="96.4" r="0.5"/><circle cx="367.0" cy="106.7" r="0.8"/><circle cx="372.6" cy="97.9" r="0.8"/><circle cx="406.9" cy="64.4" r="0.8"/><circle cx="428.5" cy="97.9" r="0.35"/><circle cx="401.8" cy="83.0" r="0.6"/><circle cx="365.8" cy="95.3" r="0.5"/><circle cx="389.1" cy="128.4" r="0.8"/><circle cx="346.0" cy="119.0" r="0.35"/><circle cx="406.4" cy="56.2" r="0.5"/><circle cx="410.8" cy="119.3" r="0.6"/><circle cx="359.7" cy="123.1" r="0.5"/><circle cx="359.5" cy="88.7" r="0.5"/><circle cx="369.3" cy="34.3" r="0.35"/><circle cx="343.0" cy="57.6" r="0.6"/></g>
<path d="M339.6,54.7C340.2,54.3 343.2,53.3 343.4,52.2C343.6,51.1 340.5,49.3 340.9,47.2C341.3,45.1 343.8,40.5 345.9,38.4C348.0,36.3 351.5,34.2 354.7,33.3C357.9,32.4 363.5,32.3 367.3,32.6C371.1,32.9 376.1,33.8 379.9,35.1C383.7,36.4 388.8,39.0 392.5,41.3C396.2,43.6 400.9,47.3 404.4,50.5C407.9,53.7 412.9,59.0 415.8,62.9C418.7,66.8 422.2,72.1 424.0,76.2C425.8,80.3 427.0,86.0 427.8,90.0C428.5,94.0 429.2,99.0 429.0,102.6C428.8,106.2 427.8,110.5 426.5,113.9C425.2,117.3 422.5,122.5 420.2,125.3C417.9,128.1 414.2,131.0 411.4,132.8C408.6,134.6 403.7,136.7 401.3,137.6C398.9,138.5 396.1,138.9 395.2,139.1" fill="none" stroke="#f80808" stroke-width="1.3" opacity="0.8"/>
</g>
<path d="M380.40,103.10L378.20,111.10L376.70,119.60L381.10,126.50L386.60,133.30L393.20,139.10L399.20,140.60L399.20,155.10L339.20,155.10L339.60,142.30L357.70,142.30L360.50,134.70L367.30,129.20L373.50,123.70L372.70,118.10L376.70,111.10Z" fill="#080000"/>
<g clip-path="url(#clip3)">
<path d="M380.40,103.10L378.20,111.10L376.70,119.60L381.10,126.50L386.60,133.30L393.20,139.10" fill="none" stroke="#f80808" stroke-width="0.7" stroke-opacity="0.6" stroke-linejoin="round"/>
<path d="M360.50,134.70L367.30,129.20L373.50,123.70L372.70,118.10L376.70,111.10L380.40,103.10" fill="none" stroke="#f80808" stroke-width="0.7" stroke-opacity="0.6" stroke-linejoin="round"/>
</g></g>
<path d="M412.6,98.8C414.8,97.4 424.6,100.0 426.5,100.6C428.4,101.2 428.7,102.2 428.5,103.9C428.3,105.6 426.3,112.7 425.2,115.2C424.1,117.7 420.7,123.2 418.9,125.3C417.1,127.4 412.0,132.1 410.1,132.8C408.2,133.5 404.1,132.3 402.6,131.6C401.1,130.9 397.9,127.5 397.5,126.5C397.1,125.5 397.6,124.4 398.8,122.8C400.0,121.2 406.0,115.5 407.6,112.7C409.2,109.9 410.4,100.2 412.6,98.8Z" fill="none" stroke="#fff" stroke-width="1.1" stroke-dasharray="2.1 1.3"/>
<text x="434.30" y="38.30" font-size="7.3" text-anchor="end" fill="#fff">12 months</text>
<text x="429.80" y="135.10" font-size="6.7" text-anchor="end" fill="#fff">LEC</text>
<rect x="413.90" y="144.80" width="17.10" height="2.40" fill="#fff"/>
<text x="9.00" y="39.30" font-size="7.0" fill="#e00000">Aβ</text>
<text x="105.40" y="141.90" font-size="7.0" text-anchor="end" fill="#fff">1 mm</text>
<line x1="20.20" y1="128.50" x2="32.00" y2="128.50" stroke="#fff" stroke-width="1.2"/>
<line x1="26.20" y1="123.00" x2="26.20" y2="134.00" stroke="#fff" stroke-width="1.2"/>
<text x="25.90" y="120.30" font-size="6.6" text-anchor="middle" fill="#fff">D</text>
<text x="25.90" y="141.90" font-size="6.6" text-anchor="middle" fill="#fff">V</text>
<text x="14.50" y="130.90" font-size="6.6" text-anchor="middle" fill="#fff">M</text>
<text x="35.60" y="130.90" font-size="6.6" text-anchor="middle" fill="#fff">L</text>
<text x="-0.20" y="173.60" font-size="11" font-weight="bold" fill="#000">b</text>
<defs><marker id="ahk" markerUnits="userSpaceOnUse" viewBox="0 0 10 10" refX="9" refY="5" markerWidth="3.6" markerHeight="3.0" orient="auto-start-reverse"><path d="M0,0L10,5L0,10z" fill="#222"/></marker><marker id="ahr" markerUnits="userSpaceOnUse" viewBox="0 0 10 10" refX="5" refY="5" markerWidth="3.6" markerHeight="3.2" orient="auto-start-reverse"><path d="M0,0L10,5L0,10z" fill="#ff1a1a"/></marker><marker id="ahg" markerUnits="userSpaceOnUse" viewBox="0 0 10 10" refX="5" refY="5" markerWidth="3.6" markerHeight="3.2" orient="auto-start-reverse"><path d="M0,0L10,5L0,10z" fill="#3ad52a"/></marker><marker id="ahb" markerUnits="userSpaceOnUse" viewBox="0 0 10 10" refX="5" refY="5" markerWidth="3.4" markerHeight="3.0" orient="auto-start-reverse"><path d="M0,0L10,5L0,10z" fill="#3a4a6a"/></marker></defs>
<text x="31.40" y="205.60" font-size="6.7" text-anchor="middle" fill="#1a1a1a" stroke="#1a1a1a" stroke-width="0.16">LED</text>
<line x1="24.60" y1="207.20" x2="40.20" y2="207.20" stroke="#222" stroke-width="0.6"/>
<line x1="33.50" y1="209.80" x2="43.50" y2="209.80" stroke="#ff1a1a" stroke-width="1.0"/>
<path d="M42.0,207.5L47.4,209.8L42.0,212.1z" fill="#ff1a1a"/>
<line x1="18.50" y1="215.60" x2="47.50" y2="215.60" stroke="#222" stroke-width="0.6"/>
<line x1="18.50" y1="220.60" x2="47.50" y2="220.60" stroke="#222" stroke-width="0.6"/>
<path d="M44.5,215.6L48.5,216.6L48.5,219.6L44.5,220.6" fill="none" stroke="#222" stroke-width="0.6"/>
<rect x="22.80" y="217.50" width="18.20" height="6.00" fill="#fff"/>
<text x="32.00" y="223.40" font-size="7.4" text-anchor="middle" fill="#1a1a1a" stroke="#1a1a1a" stroke-width="0.16">Odor</text>
<line x1="19.50" y1="220.60" x2="22.60" y2="220.60" stroke="#222" stroke-width="0.6"/>
<line x1="41.20" y1="220.60" x2="44.50" y2="220.60" stroke="#222" stroke-width="0.6"/>
<g fill="#b5b5b5"><circle cx="52.6" cy="217.6" r="2.3"/><circle cx="50.6" cy="216.2" r="1.3"/><circle cx="54.6" cy="215.3" r="1.3"/><circle cx="54.9" cy="219.6" r="1.4"/><circle cx="50.6" cy="219.6" r="1.2"/><circle cx="53" cy="213.8" r="0.9"/><circle cx="53" cy="221.4" r="0.9"/></g>
<rect x="27.60" y="226.30" width="29.80" height="2.20" fill="#7fe9f7" stroke="#222" stroke-width="0.45"/>
<path d="M56.5,229.4C54.9,231.8 54.9,234.0 56.5,234.0C58.1,234.0 58.1,231.8 56.5,229.4z" fill="#19c3f0"/>
<text x="39.60" y="239.20" font-size="7.4" text-anchor="middle" fill="#1a1a1a" stroke="#1a1a1a" stroke-width="0.16">Water</text>
<text x="39.40" y="247.20" font-size="7.4" text-anchor="middle" fill="#1a1a1a" stroke="#1a1a1a" stroke-width="0.16">reward</text>
<text x="103.20" y="182.60" font-size="7.4" text-anchor="middle" fill="#1a1a1a" stroke="#1a1a1a" stroke-width="0.16">Head-fix</text>
<text x="103.20" y="190.90" font-size="7.4" text-anchor="middle" fill="#1a1a1a" stroke="#1a1a1a" stroke-width="0.16">plate</text>
<line x1="103.20" y1="193.50" x2="100.20" y2="206.60" stroke="#222" stroke-width="0.55"/>
<path d="M75.6,212.2C78,214.8 82,220.4 88,221.2C93,221.6 96.5,217.5 97.6,213.4C92,215.6 82,215.2 75.6,212.2z" fill="#f7ef9a" stroke="#222" stroke-width="0.5"/>
<path d="M61.6,215.6C66,212.4 70,211.2 75.4,210.8" fill="none" stroke="#222" stroke-width="0.7" stroke-linecap="round" stroke-linejoin="round"/>
<path d="M61.9,220.2C62.6,223.2 63.6,225.4 65.6,226.6" fill="none" stroke="#222" stroke-width="0.7" stroke-linecap="round" stroke-linejoin="round"/>
<path d="M68.4,228.4C76,228.8 84.6,234 85.7,247.6" fill="none" stroke="#222" stroke-width="0.7" stroke-linecap="round" stroke-linejoin="round"/>
<circle cx="60.0" cy="217.8" r="2.9" fill="#fff" stroke="#222" stroke-width="0.7"/>
<path d="M62.2,226.6C64,226.2 66.6,226.6 68.4,227.8C66.4,228.6 63.8,228.2 62.2,226.6z" fill="#ff5a5a" stroke="#c22" stroke-width="0.3"/>
<path d="M66.6,218.2C69.6,216.6 72,216.6 74,217.4M67,219.8C70,219.4 72.6,220 74.6,221.6M67,221.2C69.4,221.6 71.4,222.8 72.8,224.6" fill="none" stroke="#222" stroke-width="0.5" stroke-linecap="round" stroke-linejoin="round"/>
<ellipse cx="80.8" cy="216.9" rx="2.9" ry="2.6" fill="#111"/>
<ellipse cx="88.9" cy="210.4" rx="14.4" ry="3.9" fill="none" stroke="#222" stroke-width="1.0"/>
<ellipse cx="88.9" cy="210.2" rx="12.6" ry="2.7" fill="#fff" stroke="#222" stroke-width="0.5"/>
<path d="M80.6,206.6L83.2,203.2L86.6,206.2M83.2,203.2L84,205.4" fill="none" stroke="#222" stroke-width="0.55" stroke-linecap="round" stroke-linejoin="round"/>
<path d="M96.4,221.8C96.8,216.2 100.6,212.6 104.6,213.4C108.4,214.2 109,219 108,222.4" fill="none" stroke="#222" stroke-width="0.7" stroke-linecap="round" stroke-linejoin="round"/>
<path d="M98.6,222.2C99.4,218.6 101.6,216 104.4,215.6" fill="none" stroke="#222" stroke-width="0.5" stroke-linecap="round" stroke-linejoin="round"/>
<path d="M95.4,216.4L96.2,224.6L99.6,224.8M108,222.4C111,223.8 114,223.6 117.4,222.8" fill="none" stroke="#222" stroke-width="0.7" stroke-linecap="round" stroke-linejoin="round"/>
<path d="M100.4,212.2C103,211 106.4,211.6 108.6,213.6" fill="none" stroke="#222" stroke-width="0.5" stroke-linecap="round" stroke-linejoin="round"/>
<text x="83.00" y="271.80" font-size="6.7" text-anchor="middle" fill="#1a1a1a" stroke="#1a1a1a" stroke-width="0.16">LED</text>
<rect x="81.50" y="273.50" width="3.20" height="2.70" fill="#ff1a1a"/>
<rect x="23.30" y="276.70" width="77.20" height="14.60" fill="#fff" stroke="#888" stroke-width="0.7"/>
<line x1="42.60" y1="276.70" x2="42.60" y2="291.30" stroke="#888" stroke-width="0.7"/>
<line x1="81.00" y1="276.70" x2="81.00" y2="291.30" stroke="#888" stroke-width="0.7"/>
<text x="32.90" y="286.30" font-size="7.4" text-anchor="middle" fill="#1a1a1a" stroke="#1a1a1a" stroke-width="0.16">Odor</text>
<text x="61.80" y="286.30" font-size="7.4" text-anchor="middle" fill="#1a1a1a" stroke="#1a1a1a" stroke-width="0.16">Delay</text>
<text x="90.80" y="285.90" font-size="5.6" text-anchor="middle" fill="#1a1a1a" stroke="#1a1a1a" stroke-width="0.16">Choice</text>
<line x1="23.30" y1="294.10" x2="100.50" y2="294.10" stroke="#444" stroke-width="0.55"/>
<text x="23.60" y="302.60" font-size="6.7" text-anchor="middle" fill="#1a1a1a" stroke="#1a1a1a" stroke-width="0.16">0</text>
<text x="42.80" y="302.60" font-size="6.7" text-anchor="middle" fill="#1a1a1a" stroke="#1a1a1a" stroke-width="0.16">1</text>
<text x="62.00" y="302.60" font-size="6.7" text-anchor="middle" fill="#1a1a1a" stroke="#1a1a1a" stroke-width="0.16">2</text>
<text x="81.20" y="302.60" font-size="6.7" text-anchor="middle" fill="#1a1a1a" stroke="#1a1a1a" stroke-width="0.16">3</text>
<text x="100.40" y="302.60" font-size="6.7" text-anchor="middle" fill="#1a1a1a" stroke="#1a1a1a" stroke-width="0.16">4</text>
<text x="62.00" y="313.20" font-size="7.4" text-anchor="middle" fill="#1a1a1a" stroke="#1a1a1a" stroke-width="0.16">Time after cue onset (s)</text>
<text x="189.20" y="174.20" font-size="7.4" text-anchor="middle" fill="#1a1a1a" stroke="#1a1a1a" stroke-width="0.16">Outcome rules</text>
<path d="M155.2,185.3L146.7,185.3L146.7,223.2L232.0,223.2L232.0,185.3L222.6,185.3" fill="none" stroke="#222" stroke-width="0.7"/>
<text x="188.90" y="187.70" font-size="7.4" text-anchor="middle" fill="#1a1a1a" stroke="#1a1a1a" stroke-width="0.16">Rewarded cues</text>
<text x="174.00" y="198.90" font-size="7.4" text-anchor="middle" fill="#1a1a1a" stroke="#1a1a1a" stroke-width="0.16">Prelearned</text>
<text x="151.20" y="207.60" font-size="7.4" fill="#1a1a1a" stroke="#1a1a1a" stroke-width="0.16">Odor</text>
<rect x="172.30" y="201.40" width="7.30" height="7.00" fill="#e800e8"/>
<text x="175.95" y="207.31" font-size="6.7" text-anchor="middle" fill="#fff">A</text>
<text x="210.60" y="198.90" font-size="7.4" text-anchor="middle" fill="#1a1a1a" stroke="#1a1a1a" stroke-width="0.16">Novel</text>
<rect x="200.60" y="201.40" width="7.30" height="7.00" fill="#0f9d63"/>
<text x="204.25" y="207.31" font-size="6.7" text-anchor="middle" fill="#fff">C</text>
<rect x="209.90" y="201.40" width="7.30" height="7.00" fill="#0f9d63"/>
<text x="213.55" y="207.31" font-size="6.7" text-anchor="middle" fill="#fff">E</text>
<text x="218.20" y="206.00" font-size="6" fill="#777">···</text>
<path d="M200.6,209.2L200.6,210.0L220.8,210.0L220.8,209.2M211.9,210.0L211.9,212.8" fill="none" stroke="#777" stroke-width="0.55"/>
<rect x="208.80" y="214.20" width="7.00" height="7.40" fill="#0f9d63"/>
<text x="212.30" y="220.31" font-size="6.7" text-anchor="middle" fill="#fff">1</text>
<path d="M181.6,226.2L177.0,231.6" stroke="#222" stroke-width="0.6" marker-end="url(#ahk)"/>
<path d="M196.8,226.2L201.4,231.6" stroke="#222" stroke-width="0.6" marker-end="url(#ahk)"/>
<text x="170.30" y="238.00" font-size="7.4" text-anchor="middle" fill="#1a1a1a" stroke="#1a1a1a" stroke-width="0.16">Lick</text>
<text x="210.80" y="238.30" font-size="7.4" text-anchor="middle" fill="#1a1a1a" stroke="#1a1a1a" stroke-width="0.16">No-Lick</text>
<circle cx="212.6" cy="235.6" r="5.4" fill="none" stroke="#ff1a1a" stroke-width="0.6"/><line x1="208.8" y1="231.8" x2="216.4" y2="239.4" stroke="#ff1a1a" stroke-width="0.6"/>
<path d="M169.0,243.8L169.0,251.6" stroke="#3ad52a" stroke-width="0.9" marker-end="url(#ahg)"/>
<path d="M210.9,242.4L210.9,251.6" stroke="#ff1a1a" stroke-width="0.9" marker-end="url(#ahr)"/>
<text x="170.30" y="260.60" font-size="7.4" text-anchor="middle" fill="#1a1a1a" stroke="#1a1a1a" stroke-width="0.16">Sucrose</text>
<text x="210.60" y="260.60" font-size="7.4" text-anchor="middle" fill="#1a1a1a" stroke="#1a1a1a" stroke-width="0.16">Neutral</text>
<path d="M161.6,272.9L145.6,272.9L145.6,310.6L230.8,310.6L230.8,272.9L214.4,272.9" fill="none" stroke="#222" stroke-width="0.7"/>
<text x="188.00" y="275.30" font-size="7.4" text-anchor="middle" fill="#1a1a1a" stroke="#1a1a1a" stroke-width="0.16">Punished cues</text>
<text x="175.30" y="287.10" font-size="7.4" text-anchor="middle" fill="#1a1a1a" stroke="#1a1a1a" stroke-width="0.16">Prelearned</text>
<text x="151.40" y="294.10" font-size="7.4" fill="#1a1a1a" stroke="#1a1a1a" stroke-width="0.16">Odor</text>
<rect x="172.30" y="288.40" width="7.30" height="6.80" fill="#0a0af2"/>
<text x="175.95" y="294.21" font-size="6.7" text-anchor="middle" fill="#fff">B</text>
<text x="210.60" y="287.10" font-size="7.4" text-anchor="middle" fill="#1a1a1a" stroke="#1a1a1a" stroke-width="0.16">Novel</text>
<rect x="201.30" y="288.40" width="7.40" height="7.00" fill="#f0a010"/>
<text x="205.00" y="294.31" font-size="6.7" text-anchor="middle" fill="#fff">D</text>
<rect x="210.10" y="288.40" width="7.50" height="7.00" fill="#f0a010"/>
<text x="213.85" y="294.31" font-size="6.7" text-anchor="middle" fill="#fff">F</text>
<text x="218.60" y="293.00" font-size="6" fill="#777">···</text>
<path d="M200.8,297.2L200.8,298.0L222.6,298.0L222.6,297.2M212.9,298.0L212.9,300.4" fill="none" stroke="#777" stroke-width="0.55"/>
<rect x="209.30" y="301.30" width="7.60" height="7.60" fill="#f0a010"/>
<text x="213.10" y="307.51" font-size="6.7" text-anchor="middle" fill="#fff">2</text>
<path d="M179.0,313.2L175.0,318.6" stroke="#222" stroke-width="0.6" marker-end="url(#ahk)"/>
<path d="M195.5,313.2L199.0,318.6" stroke="#222" stroke-width="0.6" marker-end="url(#ahk)"/>
<text x="167.30" y="326.40" font-size="7.4" text-anchor="middle" fill="#1a1a1a" stroke="#1a1a1a" stroke-width="0.16">Lick</text>
<circle cx="167.6" cy="324.0" r="6.0" fill="none" stroke="#ff1a1a" stroke-width="0.6"/><line x1="163.4" y1="319.8" x2="171.8" y2="328.2" stroke="#ff1a1a" stroke-width="0.6"/>
<text x="210.60" y="326.40" font-size="7.4" text-anchor="middle" fill="#1a1a1a" stroke="#1a1a1a" stroke-width="0.16">No-lick</text>
<path d="M168.3,330.8L168.3,338.4" stroke="#ff1a1a" stroke-width="0.9" marker-end="url(#ahr)"/>
<path d="M210.1,330.8L210.1,338.4" stroke="#3ad52a" stroke-width="0.9" marker-end="url(#ahg)"/>
<text x="171.00" y="347.70" font-size="7.4" text-anchor="middle" fill="#1a1a1a" stroke="#1a1a1a" stroke-width="0.16">Quinine</text>
<text x="210.60" y="347.70" font-size="7.4" text-anchor="middle" fill="#1a1a1a" stroke="#1a1a1a" stroke-width="0.16">Neutral</text>
<text x="337.00" y="174.30" font-size="7.4" text-anchor="middle" fill="#1a1a1a" stroke="#1a1a1a" stroke-width="0.16">Training procedure</text>
<text x="275.10" y="186.90" font-size="7.4" text-anchor="middle" fill="#1a1a1a" stroke="#1a1a1a" stroke-width="0.16">Prelearning</text>
<text x="350.50" y="186.90" font-size="7.4" text-anchor="middle" fill="#1a1a1a" stroke="#1a1a1a" stroke-width="0.16">Associative learning</text>
<path d="M259.2,192.25L413.6,192.25" stroke="#333" stroke-width="0.7" marker-end="url(#ahk)"/>
<line x1="309.10" y1="188.90" x2="309.10" y2="196.80" stroke="#555" stroke-width="0.7"/>
<text x="275.50" y="201.80" font-size="7.4" text-anchor="middle" fill="#1a1a1a" stroke="#1a1a1a" stroke-width="0.16">5–10 days</text>
<text x="334.70" y="201.80" font-size="7.4" text-anchor="middle" fill="#1a1a1a" stroke="#1a1a1a" stroke-width="0.16">Day 1</text>
<text x="382.20" y="201.80" font-size="7.4" text-anchor="middle" fill="#1a1a1a" stroke="#1a1a1a" stroke-width="0.16">Day 2</text>
<g fill="#111"><circle cx="400.2" cy="199.8" r="1.05"/><circle cx="406.4" cy="199.8" r="1.05"/><circle cx="412.6" cy="199.8" r="1.05"/></g>
<rect x="257.60" y="205.80" width="49.20" height="26.70" fill="#fff" stroke="#222" stroke-width="0.7"/>
<text x="282.20" y="213.10" font-size="7.4" text-anchor="middle" textLength="35.4" lengthAdjust="spacingAndGlyphs" fill="#1a1a1a" stroke="#1a1a1a" stroke-width="0.16">AB session</text>
<text x="282.20" y="221.30" font-size="7.4" text-anchor="middle" textLength="38.4" lengthAdjust="spacingAndGlyphs" fill="#1a1a1a" stroke="#1a1a1a" stroke-width="0.16">(~160 trials)</text>
<rect x="270.60" y="223.60" width="7.00" height="6.90" fill="#e800e8"/>
<text x="274.10" y="229.43" font-size="6.6" text-anchor="middle" fill="#fff">A</text>
<rect x="284.60" y="223.60" width="7.00" height="6.90" fill="#0a0af2"/>
<text x="288.10" y="229.43" font-size="6.6" text-anchor="middle" fill="#fff">B</text>
<rect x="312.50" y="205.80" width="49.20" height="26.70" fill="#fff" stroke="#222" stroke-width="0.7"/>
<text x="337.10" y="213.10" font-size="7.4" text-anchor="middle" textLength="35.4" lengthAdjust="spacingAndGlyphs" fill="#1a1a1a" stroke="#1a1a1a" stroke-width="0.16">AB session</text>
<text x="337.10" y="221.30" font-size="7.4" text-anchor="middle" textLength="34.3" lengthAdjust="spacingAndGlyphs" fill="#1a1a1a" stroke="#1a1a1a" stroke-width="0.16">(~20 trials)</text>
<rect x="327.20" y="223.60" width="7.00" height="6.90" fill="#e800e8"/>
<text x="330.70" y="229.43" font-size="6.6" text-anchor="middle" fill="#fff">A</text>
<rect x="336.40" y="223.60" width="7.00" height="6.90" fill="#0a0af2"/>
<text x="339.90" y="229.43" font-size="6.6" text-anchor="middle" fill="#fff">B</text>
<rect x="365.10" y="205.80" width="49.20" height="26.70" fill="#fff" stroke="#222" stroke-width="0.7"/>
<text x="389.70" y="213.10" font-size="7.4" text-anchor="middle" textLength="35.4" lengthAdjust="spacingAndGlyphs" fill="#1a1a1a" stroke="#1a1a1a" stroke-width="0.16">AB session</text>
<text x="389.70" y="221.30" font-size="7.4" text-anchor="middle" textLength="34.3" lengthAdjust="spacingAndGlyphs" fill="#1a1a1a" stroke="#1a1a1a" stroke-width="0.16">(~20 trials)</text>
<rect x="379.80" y="223.60" width="7.00" height="6.90" fill="#e800e8"/>
<text x="383.30" y="229.43" font-size="6.6" text-anchor="middle" fill="#fff">A</text>
<rect x="389.10" y="223.60" width="7.00" height="6.90" fill="#0a0af2"/>
<text x="392.60" y="229.43" font-size="6.6" text-anchor="middle" fill="#fff">B</text>
<path d="M337.2,234.6L337.2,240.8" stroke="#3a4a6a" stroke-width="0.8" marker-end="url(#ahb)"/>
<path d="M389.6,234.6L389.6,240.8" stroke="#3a4a6a" stroke-width="0.8" marker-end="url(#ahb)"/>
<rect x="312.50" y="243.50" width="49.20" height="28.90" fill="#fff" stroke="#222" stroke-width="0.7"/>
<text x="337.10" y="250.80" font-size="7.4" text-anchor="middle" textLength="41.8" lengthAdjust="spacingAndGlyphs" fill="#1a1a1a" stroke="#1a1a1a" stroke-width="0.16">AB12 session</text>
<text x="337.10" y="259.00" font-size="7.4" text-anchor="middle" textLength="38.4" lengthAdjust="spacingAndGlyphs" fill="#1a1a1a" stroke="#1a1a1a" stroke-width="0.16">(~160 trials)</text>
<rect x="318.60" y="263.50" width="7.00" height="6.90" fill="#e800e8"/>
<text x="322.10" y="269.33" font-size="6.6" text-anchor="middle" fill="#fff">A</text>
<rect x="327.80" y="263.50" width="7.00" height="6.90" fill="#0a0af2"/>
<text x="331.30" y="269.33" font-size="6.6" text-anchor="middle" fill="#fff">B</text>
<rect x="337.00" y="263.50" width="7.00" height="6.90" fill="#0f9d63"/>
<text x="340.50" y="269.33" font-size="6.6" text-anchor="middle" fill="#fff">C</text>
<rect x="346.30" y="263.50" width="7.00" height="6.90" fill="#f0a010"/>
<text x="349.80" y="269.33" font-size="6.6" text-anchor="middle" fill="#fff">D</text>
<rect x="365.10" y="243.50" width="49.20" height="28.90" fill="#fff" stroke="#222" stroke-width="0.7"/>
<text x="389.70" y="250.80" font-size="7.4" text-anchor="middle" textLength="41.8" lengthAdjust="spacingAndGlyphs" fill="#1a1a1a" stroke="#1a1a1a" stroke-width="0.16">AB12 session</text>
<text x="389.70" y="259.00" font-size="7.4" text-anchor="middle" textLength="38.4" lengthAdjust="spacingAndGlyphs" fill="#1a1a1a" stroke="#1a1a1a" stroke-width="0.16">(~160 trials)</text>
<rect x="370.80" y="263.50" width="7.00" height="6.90" fill="#e800e8"/>
<text x="374.30" y="269.33" font-size="6.6" text-anchor="middle" fill="#fff">A</text>
<rect x="380.00" y="263.50" width="7.00" height="6.90" fill="#0a0af2"/>
<text x="383.50" y="269.33" font-size="6.6" text-anchor="middle" fill="#fff">B</text>
<rect x="389.20" y="263.50" width="7.00" height="6.90" fill="#0f9d63"/>
<text x="392.70" y="269.33" font-size="6.6" text-anchor="middle" fill="#fff">E</text>
<rect x="398.40" y="263.50" width="7.00" height="6.90" fill="#f0a010"/>
<text x="401.90" y="269.33" font-size="6.6" text-anchor="middle" fill="#fff">F</text>
<text x="-0.40" y="365.00" font-size="11" font-weight="bold" fill="#000">c</text>
<rect x="25.50" y="373.00" width="83.20" height="10.10" fill="#f0f0f0" stroke="#222" stroke-width="0.8" rx="0.6"/>
<text x="67.10" y="380.10" font-size="7.3" text-anchor="middle" fill="#222">Young WT</text>
<line x1="25.50" y1="429.35" x2="107.50" y2="429.35" stroke="#222" stroke-width="0.75" stroke-dasharray="2.9 1.7"/>
<path d="M27.10,387.40L25.50,387.40L25.50,491.90L108.10,491.90" fill="none" stroke="#555" stroke-width="0.6"/>
<text x="23.10" y="389.60" font-size="6.6" text-anchor="end" fill="#1a1a1a" stroke="#1a1a1a" stroke-width="0.16">100</text>
<text x="23.10" y="431.40" font-size="6.6" text-anchor="end" fill="#1a1a1a" stroke="#1a1a1a" stroke-width="0.16">80</text>
<line x1="25.50" y1="429.20" x2="26.90" y2="429.20" stroke="#555" stroke-width="0.5"/>
<text x="23.10" y="473.20" font-size="6.6" text-anchor="end" fill="#1a1a1a" stroke="#1a1a1a" stroke-width="0.16">60</text>
<line x1="25.50" y1="471.00" x2="26.90" y2="471.00" stroke="#555" stroke-width="0.5"/>
<text x="46.00" y="499.30" font-size="6.6" text-anchor="middle" fill="#1a1a1a" stroke="#1a1a1a" stroke-width="0.16">40</text>
<line x1="46.00" y1="491.90" x2="46.00" y2="490.70" stroke="#555" stroke-width="0.5"/>
<text x="66.50" y="499.30" font-size="6.6" text-anchor="middle" fill="#1a1a1a" stroke="#1a1a1a" stroke-width="0.16">80</text>
<line x1="66.50" y1="491.90" x2="66.50" y2="490.70" stroke="#555" stroke-width="0.5"/>
<text x="87.00" y="499.30" font-size="6.6" text-anchor="middle" fill="#1a1a1a" stroke="#1a1a1a" stroke-width="0.16">120</text>
<line x1="87.00" y1="491.90" x2="87.00" y2="490.70" stroke="#555" stroke-width="0.5"/>
<text x="107.50" y="499.30" font-size="6.6" text-anchor="middle" fill="#1a1a1a" stroke="#1a1a1a" stroke-width="0.16">160</text>
<line x1="107.50" y1="491.90" x2="107.50" y2="490.70" stroke="#555" stroke-width="0.5"/>
<text x="66.50" y="510.10" font-size="7.5" text-anchor="middle" fill="#1a1a1a" stroke="#1a1a1a" stroke-width="0.16">Trial number</text>
<text x="0.00" y="0.00" font-size="7.5" text-anchor="middle" fill="#1a1a1a" transform="translate(6.1,439.6) rotate(-90)" stroke="#1a1a1a" stroke-width="0.16">Correct trials (%)</text>
<rect x="25.50" y="479.20" width="20.50" height="2.20" fill="#ff7a7a" stroke="#333" stroke-width="0.55"/>
<text x="35.75" y="478.20" font-size="6.3" text-anchor="middle" fill="#444">T1</text>
<rect x="40.88" y="481.40" width="20.50" height="2.30" fill="#d9d9d9" stroke="#333" stroke-width="0.55"/>
<text x="51.12" y="489.30" font-size="6.3" text-anchor="middle" fill="#444">T2</text>
<rect x="56.25" y="479.20" width="20.50" height="2.20" fill="#d9d9d9" stroke="#333" stroke-width="0.55"/>
<text x="66.50" y="478.20" font-size="6.3" text-anchor="middle" fill="#444">T3</text>
<rect x="71.62" y="481.40" width="20.50" height="2.30" fill="#d9d9d9" stroke="#333" stroke-width="0.55"/>
<text x="81.88" y="489.30" font-size="6.3" text-anchor="middle" fill="#444">T4</text>
<rect x="87.00" y="479.20" width="20.50" height="2.20" fill="#999" stroke="#333" stroke-width="0.55"/>
<text x="97.25" y="478.20" font-size="6.3" text-anchor="middle" fill="#444">T5</text>
<path d="M25.50,404.95L26.01,403.32L26.52,402.00L27.04,401.15L27.55,400.18L28.06,398.80L28.57,397.13L29.09,396.94L29.60,396.88L30.11,396.54L30.62,395.78L31.14,395.06L31.65,394.85L32.16,394.81L32.67,395.01L33.19,394.59L33.70,394.52L34.21,394.52L34.73,395.16L35.24,394.82L35.75,394.37L36.26,393.95L36.77,393.72L37.29,393.49L37.80,393.07L38.31,392.63L38.83,393.06L39.34,393.98L39.85,394.47L40.36,395.22L40.88,395.57L41.39,396.69L41.90,397.08L42.41,397.88L42.92,397.96L43.44,397.72L43.95,397.99L44.46,398.28L44.97,399.63L45.49,399.99L46.00,400.34L46.51,400.41L47.02,400.59L47.54,400.60L48.05,400.67L48.56,400.53L49.08,400.61L49.59,400.45L50.10,401.08L50.61,401.20L51.12,401.99L51.64,402.01L52.15,402.59L52.66,402.70L53.17,403.23L53.69,402.96L54.20,403.14L54.71,403.19L55.22,403.70L55.74,404.51L56.25,405.28L56.76,405.63L57.27,406.00L57.79,406.12L58.30,406.49L58.81,405.87L59.32,405.45L59.84,405.03L60.35,404.53L60.86,404.09L61.38,403.53L61.89,402.61L62.40,401.48L62.91,400.58L63.42,399.86L63.94,399.38L64.45,398.91L64.96,398.56L65.47,398.04L65.99,397.30L66.50,396.88L67.01,396.65L67.53,396.09L68.04,395.46L68.55,395.33L69.06,395.76L69.57,396.24L70.09,396.16L70.60,395.77L71.11,395.30L71.62,395.43L72.14,395.55L72.65,395.97L73.16,396.35L73.67,396.51L74.19,396.32L74.70,396.92L75.21,397.75L75.72,398.47L76.24,399.55L76.75,400.18L77.26,401.02L77.78,401.71L78.29,403.27L78.80,404.72L79.31,405.66L79.82,406.24L80.34,406.01L80.85,406.52L81.36,406.88L81.88,407.33L82.39,407.78L82.90,408.89L83.41,409.48L83.92,409.26L84.44,408.87L84.95,409.49L85.46,410.46L85.97,411.03L86.49,410.76L87.00,410.07L87.51,409.60L88.02,409.30L88.54,410.49L89.05,411.18L89.56,412.68L90.07,412.48L90.59,412.43L91.10,411.73L91.61,410.53L92.12,409.63L92.64,409.31L93.15,408.61L93.66,407.82L94.17,406.58L94.69,405.35L95.20,404.32L95.71,403.08L96.22,403.04L96.74,402.90L97.25,402.89L97.76,403.94L98.27,404.81L98.79,406.05L99.30,406.88L99.81,408.02L100.32,408.30L100.84,407.68L101.35,407.17L101.86,407.30L102.38,407.29L102.89,406.66L103.40,405.96L103.91,405.91L104.42,406.52L104.94,407.34L105.45,408.34L105.96,408.18L106.47,408.05L106.99,408.51L107.50,409.74" fill="none" stroke="#1a1aff" stroke-width="2.6" opacity="0.16" stroke-linejoin="round"/>
<path d="M25.50,404.95L26.01,403.32L26.52,402.00L27.04,401.15L27.55,400.18L28.06,398.80L28.57,397.13L29.09,396.94L29.60,396.88L30.11,396.54L30.62,395.78L31.14,395.06L31.65,394.85L32.16,394.81L32.67,395.01L33.19,394.59L33.70,394.52L34.21,394.52L34.73,395.16L35.24,394.82L35.75,394.37L36.26,393.95L36.77,393.72L37.29,393.49L37.80,393.07L38.31,392.63L38.83,393.06L39.34,393.98L39.85,394.47L40.36,395.22L40.88,395.57L41.39,396.69L41.90,397.08L42.41,397.88L42.92,397.96L43.44,397.72L43.95,397.99L44.46,398.28L44.97,399.63L45.49,399.99L46.00,400.34L46.51,400.41L47.02,400.59L47.54,400.60L48.05,400.67L48.56,400.53L49.08,400.61L49.59,400.45L50.10,401.08L50.61,401.20L51.12,401.99L51.64,402.01L52.15,402.59L52.66,402.70L53.17,403.23L53.69,402.96L54.20,403.14L54.71,403.19L55.22,403.70L55.74,404.51L56.25,405.28L56.76,405.63L57.27,406.00L57.79,406.12L58.30,406.49L58.81,405.87L59.32,405.45L59.84,405.03L60.35,404.53L60.86,404.09L61.38,403.53L61.89,402.61L62.40,401.48L62.91,400.58L63.42,399.86L63.94,399.38L64.45,398.91L64.96,398.56L65.47,398.04L65.99,397.30L66.50,396.88L67.01,396.65L67.53,396.09L68.04,395.46L68.55,395.33L69.06,395.76L69.57,396.24L70.09,396.16L70.60,395.77L71.11,395.30L71.62,395.43L72.14,395.55L72.65,395.97L73.16,396.35L73.67,396.51L74.19,396.32L74.70,396.92L75.21,397.75L75.72,398.47L76.24,399.55L76.75,400.18L77.26,401.02L77.78,401.71L78.29,403.27L78.80,404.72L79.31,405.66L79.82,406.24L80.34,406.01L80.85,406.52L81.36,406.88L81.88,407.33L82.39,407.78L82.90,408.89L83.41,409.48L83.92,409.26L84.44,408.87L84.95,409.49L85.46,410.46L85.97,411.03L86.49,410.76L87.00,410.07L87.51,409.60L88.02,409.30L88.54,410.49L89.05,411.18L89.56,412.68L90.07,412.48L90.59,412.43L91.10,411.73L91.61,410.53L92.12,409.63L92.64,409.31L93.15,408.61L93.66,407.82L94.17,406.58L94.69,405.35L95.20,404.32L95.71,403.08L96.22,403.04L96.74,402.90L97.25,402.89L97.76,403.94L98.27,404.81L98.79,406.05L99.30,406.88L99.81,408.02L100.32,408.30L100.84,407.68L101.35,407.17L101.86,407.30L102.38,407.29L102.89,406.66L103.40,405.96L103.91,405.91L104.42,406.52L104.94,407.34L105.45,408.34L105.96,408.18L106.47,408.05L106.99,408.51L107.50,409.74" fill="none" stroke="#1a1aff" stroke-width="1.2" stroke-linejoin="round" stroke-linecap="round"/>
<path d="M25.50,473.62L26.01,472.27L26.52,470.97L27.04,469.70L27.55,468.52L28.06,467.36L28.57,466.08L29.09,464.94L29.60,463.88L30.11,463.27L30.62,462.16L31.14,460.66L31.65,459.10L32.16,457.51L32.67,456.02L33.19,454.59L33.70,453.57L34.21,452.55L34.73,451.65L35.24,450.91L35.75,450.03L36.26,449.17L36.77,448.13L37.29,446.91L37.80,445.79L38.31,445.01L38.83,444.59L39.34,443.44L39.85,442.55L40.36,441.55L40.88,441.06L41.39,440.14L41.90,439.41L42.41,438.86L42.92,437.88L43.44,436.85L43.95,435.64L44.46,433.98L44.97,432.24L45.49,430.96L46.00,432.06L46.51,433.62L47.02,434.41L47.54,435.41L48.05,434.14L48.56,433.04L49.08,431.85L49.59,429.92L50.10,429.33L50.61,428.37L51.12,427.96L51.64,427.50L52.15,427.14L52.66,426.66L53.17,425.93L53.69,425.25L54.20,424.62L54.71,424.07L55.22,423.16L55.74,422.00L56.25,421.04L56.76,420.07L57.27,419.36L57.79,418.41L58.30,417.43L58.81,417.24L59.32,416.49L59.84,416.36L60.35,415.80L60.86,415.75L61.38,415.26L61.89,414.84L62.40,414.52L62.91,414.67L63.42,414.32L63.94,413.86L64.45,412.80L64.96,412.16L65.47,411.37L65.99,411.25L66.50,410.52L67.01,410.48L67.53,409.36L68.04,408.65L68.55,407.20L69.06,406.93L69.57,406.64L70.09,406.62L70.60,406.84L71.11,406.64L71.62,406.49L72.14,406.23L72.65,406.78L73.16,406.99L73.67,407.20L74.19,406.64L74.70,406.47L75.21,405.67L75.72,405.91L76.24,406.23L76.75,407.16L77.26,407.46L77.78,407.30L78.29,407.58L78.80,408.09L79.31,408.79L79.82,409.11L80.34,409.45L80.85,409.76L81.36,410.35L81.88,409.90L82.39,410.06L82.90,410.30L83.41,411.10L83.92,411.01L84.44,411.44L84.95,411.28L85.46,412.40L85.97,412.76L86.49,413.14L87.00,412.82L87.51,412.69L88.02,411.52L88.54,410.54L89.05,409.81L89.56,408.70L90.07,407.29L90.59,406.17L91.10,406.24L91.61,406.92L92.12,406.43L92.64,407.60L93.15,408.03L93.66,408.63L94.17,409.18L94.69,409.62L95.20,410.83L95.71,411.09L96.22,411.47L96.74,411.34L97.25,410.39L97.76,409.44L98.27,408.51L98.79,407.30L99.30,406.47L99.81,405.34L100.32,404.87L100.84,403.90L101.35,403.99L101.86,404.37L102.38,405.63L102.89,406.47L103.40,407.59L103.91,408.09L104.42,408.38L104.94,407.99L105.45,407.37L105.96,406.73L106.47,407.73L106.99,409.11L107.50,410.64" fill="none" stroke="#ff1010" stroke-width="3.2" opacity="0.16" stroke-linejoin="round"/>
<path d="M25.50,473.62L26.01,472.27L26.52,470.97L27.04,469.70L27.55,468.52L28.06,467.36L28.57,466.08L29.09,464.94L29.60,463.88L30.11,463.27L30.62,462.16L31.14,460.66L31.65,459.10L32.16,457.51L32.67,456.02L33.19,454.59L33.70,453.57L34.21,452.55L34.73,451.65L35.24,450.91L35.75,450.03L36.26,449.17L36.77,448.13L37.29,446.91L37.80,445.79L38.31,445.01L38.83,444.59L39.34,443.44L39.85,442.55L40.36,441.55L40.88,441.06L41.39,440.14L41.90,439.41L42.41,438.86L42.92,437.88L43.44,436.85L43.95,435.64L44.46,433.98L44.97,432.24L45.49,430.96L46.00,432.06L46.51,433.62L47.02,434.41L47.54,435.41L48.05,434.14L48.56,433.04L49.08,431.85L49.59,429.92L50.10,429.33L50.61,428.37L51.12,427.96L51.64,427.50L52.15,427.14L52.66,426.66L53.17,425.93L53.69,425.25L54.20,424.62L54.71,424.07L55.22,423.16L55.74,422.00L56.25,421.04L56.76,420.07L57.27,419.36L57.79,418.41L58.30,417.43L58.81,417.24L59.32,416.49L59.84,416.36L60.35,415.80L60.86,415.75L61.38,415.26L61.89,414.84L62.40,414.52L62.91,414.67L63.42,414.32L63.94,413.86L64.45,412.80L64.96,412.16L65.47,411.37L65.99,411.25L66.50,410.52L67.01,410.48L67.53,409.36L68.04,408.65L68.55,407.20L69.06,406.93L69.57,406.64L70.09,406.62L70.60,406.84L71.11,406.64L71.62,406.49L72.14,406.23L72.65,406.78L73.16,406.99L73.67,407.20L74.19,406.64L74.70,406.47L75.21,405.67L75.72,405.91L76.24,406.23L76.75,407.16L77.26,407.46L77.78,407.30L78.29,407.58L78.80,408.09L79.31,408.79L79.82,409.11L80.34,409.45L80.85,409.76L81.36,410.35L81.88,409.90L82.39,410.06L82.90,410.30L83.41,411.10L83.92,411.01L84.44,411.44L84.95,411.28L85.46,412.40L85.97,412.76L86.49,413.14L87.00,412.82L87.51,412.69L88.02,411.52L88.54,410.54L89.05,409.81L89.56,408.70L90.07,407.29L90.59,406.17L91.10,406.24L91.61,406.92L92.12,406.43L92.64,407.60L93.15,408.03L93.66,408.63L94.17,409.18L94.69,409.62L95.20,410.83L95.71,411.09L96.22,411.47L96.74,411.34L97.25,410.39L97.76,409.44L98.27,408.51L98.79,407.30L99.30,406.47L99.81,405.34L100.32,404.87L100.84,403.90L101.35,403.99L101.86,404.37L102.38,405.63L102.89,406.47L103.40,407.59L103.91,408.09L104.42,408.38L104.94,407.99L105.45,407.37L105.96,406.73L106.47,407.73L106.99,409.11L107.50,410.64" fill="none" stroke="#ff1010" stroke-width="1.2" stroke-linejoin="round" stroke-linecap="round"/>
<text x="107.40" y="445.50" font-size="6.1" text-anchor="end" textLength="30.6" lengthAdjust="spacingAndGlyphs" fill="#1a1a1a" stroke="#1a1a1a" stroke-width="0.16"><tspan font-style="italic">n</tspan> = 11 mice</text>
<text x="92.60" y="390.60" font-size="6.3" text-anchor="middle" fill="#1a1aff">Prelearned</text>
<text x="76.85" y="398.80" font-size="6.3" fill="#1a1aff">(Odor</text>
<rect x="94.45" y="393.50" width="5.60" height="5.80" fill="#e800e8"/>
<text x="97.25" y="398.40" font-size="5.4" text-anchor="middle" fill="#fff">A</text>
<rect x="100.55" y="393.50" width="5.60" height="5.80" fill="#0a0af2"/>
<text x="103.35" y="398.40" font-size="5.4" text-anchor="middle" fill="#fff">B</text>
<text x="106.75" y="398.80" font-size="6.3" fill="#1a1aff">)</text>
<text x="57.60" y="446.90" font-size="6.3" text-anchor="middle" fill="#ff1010">Novel</text>
<text x="41.85" y="455.10" font-size="6.3" fill="#ff1010">(Odor</text>
<rect x="59.45" y="449.80" width="5.60" height="5.80" fill="#0f9d63"/>
<text x="62.25" y="454.70" font-size="5.4" text-anchor="middle" fill="#fff">1</text>
<rect x="65.55" y="449.80" width="5.60" height="5.80" fill="#f0a010"/>
<text x="68.35" y="454.70" font-size="5.4" text-anchor="middle" fill="#fff8">2</text>
<text x="71.75" y="455.10" font-size="6.3" fill="#ff1010">)</text>
<rect x="130.30" y="373.00" width="81.90" height="10.10" fill="#a000f5" stroke="#222" stroke-width="0.8" rx="0.6"/>
<text x="171.25" y="380.10" font-size="7.3" text-anchor="middle" fill="#fff">Young APP-KI</text>
<line x1="130.30" y1="429.35" x2="212.30" y2="429.35" stroke="#222" stroke-width="0.75" stroke-dasharray="2.9 1.7"/>
<path d="M131.90,387.40L130.30,387.40L130.30,491.90L212.90,491.90" fill="none" stroke="#555" stroke-width="0.6"/>
<text x="127.90" y="389.60" font-size="6.6" text-anchor="end" fill="#1a1a1a" stroke="#1a1a1a" stroke-width="0.16">100</text>
<text x="127.90" y="431.40" font-size="6.6" text-anchor="end" fill="#1a1a1a" stroke="#1a1a1a" stroke-width="0.16">80</text>
<line x1="130.30" y1="429.20" x2="131.70" y2="429.20" stroke="#555" stroke-width="0.5"/>
<text x="127.90" y="473.20" font-size="6.6" text-anchor="end" fill="#1a1a1a" stroke="#1a1a1a" stroke-width="0.16">60</text>
<line x1="130.30" y1="471.00" x2="131.70" y2="471.00" stroke="#555" stroke-width="0.5"/>
<text x="150.80" y="499.30" font-size="6.6" text-anchor="middle" fill="#1a1a1a" stroke="#1a1a1a" stroke-width="0.16">40</text>
<line x1="150.80" y1="491.90" x2="150.80" y2="490.70" stroke="#555" stroke-width="0.5"/>
<text x="171.30" y="499.30" font-size="6.6" text-anchor="middle" fill="#1a1a1a" stroke="#1a1a1a" stroke-width="0.16">80</text>
<line x1="171.30" y1="491.90" x2="171.30" y2="490.70" stroke="#555" stroke-width="0.5"/>
<text x="191.80" y="499.30" font-size="6.6" text-anchor="middle" fill="#1a1a1a" stroke="#1a1a1a" stroke-width="0.16">120</text>
<line x1="191.80" y1="491.90" x2="191.80" y2="490.70" stroke="#555" stroke-width="0.5"/>
<text x="212.30" y="499.30" font-size="6.6" text-anchor="middle" fill="#1a1a1a" stroke="#1a1a1a" stroke-width="0.16">160</text>
<line x1="212.30" y1="491.90" x2="212.30" y2="490.70" stroke="#555" stroke-width="0.5"/>
<text x="171.30" y="510.10" font-size="7.5" text-anchor="middle" fill="#1a1a1a" stroke="#1a1a1a" stroke-width="0.16">Trial number</text>
<path d="M132.86,397.69L133.38,398.10L133.89,398.54L134.40,398.83L134.91,398.43L135.43,398.25L135.94,398.62L136.45,399.18L136.96,399.01L137.48,398.33L137.99,397.92L138.50,397.72L139.01,397.64L139.53,397.29L140.04,397.05L140.55,396.69L141.06,396.46L141.58,395.78L142.09,395.59L142.60,395.24L143.11,395.61L143.62,395.27L144.14,395.27L144.65,395.02L145.16,395.25L145.68,395.15L146.19,395.16L146.70,395.01L147.21,395.02L147.73,394.78L148.24,394.80L148.75,395.77L149.26,396.44L149.78,397.31L150.29,397.08L150.80,397.35L151.31,397.38L151.83,397.68L152.34,398.12L152.85,398.46L153.36,399.01L153.88,398.80L154.39,399.11L154.90,399.18L155.41,400.14L155.93,400.55L156.44,400.62L156.95,400.01L157.46,399.46L157.98,399.14L158.49,399.32L159.00,399.00L159.51,399.15L160.03,399.09L160.54,399.78L161.05,400.19L161.56,400.38L162.08,400.71L162.59,400.80L163.10,401.05L163.61,401.52L164.12,401.36L164.64,401.78L165.15,401.75L165.66,401.20L166.18,400.48L166.69,399.94L167.20,399.48L167.71,398.61L168.23,398.49L168.74,398.36L169.25,398.92L169.76,398.90L170.28,399.42L170.79,399.09L171.30,399.36L171.81,398.87L172.33,398.96L172.84,398.41L173.35,397.98L173.86,397.49L174.38,397.33L174.89,397.65L175.40,397.71L175.91,397.81L176.43,397.06L176.94,397.08L177.45,397.15L177.96,397.07L178.48,396.55L178.99,396.15L179.50,396.35L180.01,396.81L180.53,396.90L181.04,396.92L181.55,396.64L182.06,396.57L182.58,396.31L183.09,396.20L183.60,396.16L184.11,396.80L184.62,397.01L185.14,397.18L185.65,397.04L186.16,397.00L186.68,397.13L187.19,397.15L187.70,397.23L188.21,397.13L188.73,396.89L189.24,397.57L189.75,397.82L190.26,398.68L190.78,398.51L191.29,398.21L191.80,398.51L192.31,398.76L192.82,399.34L193.34,399.26L193.85,399.28L194.36,399.98L194.88,400.06L195.39,400.75L195.90,401.00L196.41,401.39L196.93,401.42L197.44,401.69L197.95,402.33L198.46,402.83L198.98,403.05L199.49,403.48L200.00,404.20L200.51,405.22L201.03,404.79L201.54,404.41L202.05,404.06L202.56,404.35L203.07,404.25L203.59,403.80L204.10,404.33L204.61,404.34L205.12,404.59L205.64,404.37L206.15,404.71L206.66,404.89L207.18,404.34L207.69,404.10L208.20,403.61L208.71,403.87L209.23,404.31L209.74,405.00L210.25,405.62L210.76,405.75L211.28,405.94L211.79,406.07L212.30,406.34" fill="none" stroke="#1a1aff" stroke-width="2.6" opacity="0.16" stroke-linejoin="round"/>
<path d="M132.86,397.69L133.38,398.10L133.89,398.54L134.40,398.83L134.91,398.43L135.43,398.25L135.94,398.62L136.45,399.18L136.96,399.01L137.48,398.33L137.99,397.92L138.50,397.72L139.01,397.64L139.53,397.29L140.04,397.05L140.55,396.69L141.06,396.46L141.58,395.78L142.09,395.59L142.60,395.24L143.11,395.61L143.62,395.27L144.14,395.27L144.65,395.02L145.16,395.25L145.68,395.15L146.19,395.16L146.70,395.01L147.21,395.02L147.73,394.78L148.24,394.80L148.75,395.77L149.26,396.44L149.78,397.31L150.29,397.08L150.80,397.35L151.31,397.38L151.83,397.68L152.34,398.12L152.85,398.46L153.36,399.01L153.88,398.80L154.39,399.11L154.90,399.18L155.41,400.14L155.93,400.55L156.44,400.62L156.95,400.01L157.46,399.46L157.98,399.14L158.49,399.32L159.00,399.00L159.51,399.15L160.03,399.09L160.54,399.78L161.05,400.19L161.56,400.38L162.08,400.71L162.59,400.80L163.10,401.05L163.61,401.52L164.12,401.36L164.64,401.78L165.15,401.75L165.66,401.20L166.18,400.48L166.69,399.94L167.20,399.48L167.71,398.61L168.23,398.49L168.74,398.36L169.25,398.92L169.76,398.90L170.28,399.42L170.79,399.09L171.30,399.36L171.81,398.87L172.33,398.96L172.84,398.41L173.35,397.98L173.86,397.49L174.38,397.33L174.89,397.65L175.40,397.71L175.91,397.81L176.43,397.06L176.94,397.08L177.45,397.15L177.96,397.07L178.48,396.55L178.99,396.15L179.50,396.35L180.01,396.81L180.53,396.90L181.04,396.92L181.55,396.64L182.06,396.57L182.58,396.31L183.09,396.20L183.60,396.16L184.11,396.80L184.62,397.01L185.14,397.18L185.65,397.04L186.16,397.00L186.68,397.13L187.19,397.15L187.70,397.23L188.21,397.13L188.73,396.89L189.24,397.57L189.75,397.82L190.26,398.68L190.78,398.51L191.29,398.21L191.80,398.51L192.31,398.76L192.82,399.34L193.34,399.26L193.85,399.28L194.36,399.98L194.88,400.06L195.39,400.75L195.90,401.00L196.41,401.39L196.93,401.42L197.44,401.69L197.95,402.33L198.46,402.83L198.98,403.05L199.49,403.48L200.00,404.20L200.51,405.22L201.03,404.79L201.54,404.41L202.05,404.06L202.56,404.35L203.07,404.25L203.59,403.80L204.10,404.33L204.61,404.34L205.12,404.59L205.64,404.37L206.15,404.71L206.66,404.89L207.18,404.34L207.69,404.10L208.20,403.61L208.71,403.87L209.23,404.31L209.74,405.00L210.25,405.62L210.76,405.75L211.28,405.94L211.79,406.07L212.30,406.34" fill="none" stroke="#1a1aff" stroke-width="1.2" stroke-linejoin="round" stroke-linecap="round"/>
<path d="M132.86,467.68L133.38,465.08L133.89,463.09L134.40,460.93L134.91,459.47L135.43,458.85L135.94,458.21L136.45,458.81L136.96,459.43L137.48,457.64L137.99,456.34L138.50,455.23L139.01,454.28L139.53,453.02L140.04,451.95L140.55,450.58L141.06,449.34L141.58,447.75L142.09,446.94L142.60,445.95L143.11,445.61L143.62,444.86L144.14,444.60L144.65,444.13L145.16,444.13L145.68,443.39L146.19,443.08L146.70,442.34L147.21,442.15L147.73,441.91L148.24,441.11L148.75,440.77L149.26,440.63L149.78,441.06L150.29,441.22L150.80,441.66L151.31,441.99L151.83,442.32L152.34,442.41L152.85,442.20L153.36,441.80L153.88,440.98L154.39,440.86L154.90,440.92L155.41,441.12L155.93,441.20L156.44,440.64L156.95,440.32L157.46,440.00L157.98,440.19L158.49,439.89L159.00,439.62L159.51,438.92L160.03,439.05L160.54,438.82L161.05,438.98L161.56,438.79L162.08,437.95L162.59,437.32L163.10,437.08L163.61,437.33L164.12,437.90L164.64,437.92L165.15,438.28L165.66,438.39L166.18,438.59L166.69,438.63L167.20,438.32L167.71,437.76L168.23,437.44L168.74,437.03L169.25,436.63L169.76,435.86L170.28,435.37L170.79,435.13L171.30,435.54L171.81,435.53L172.33,435.56L172.84,435.22L173.35,435.05L173.86,434.93L174.38,435.04L174.89,434.61L175.40,434.14L175.91,433.72L176.43,433.57L176.94,433.82L177.45,433.84L177.96,433.88L178.48,433.63L178.99,433.66L179.50,434.22L180.01,434.55L180.53,434.70L181.04,434.58L181.55,434.61L182.06,434.65L182.58,434.66L183.09,434.84L183.60,434.03L184.11,433.58L184.62,433.34L185.14,433.66L185.65,433.49L186.16,433.62L186.68,434.15L187.19,434.76L187.70,435.05L188.21,435.11L188.73,435.58L189.24,436.36L189.75,436.25L190.26,435.83L190.78,435.62L191.29,435.75L191.80,435.91L192.31,435.91L192.82,436.57L193.34,437.16L193.85,436.32L194.36,434.80L194.88,433.37L195.39,432.38L195.90,431.49L196.41,430.81L196.93,430.19L197.44,430.00L197.95,429.56L198.46,429.44L198.98,429.71L199.49,429.63L200.00,430.24L200.51,430.56L201.03,431.14L201.54,431.22L202.05,431.29L202.56,431.50L203.07,432.12L203.59,432.63L204.10,432.90L204.61,433.17L205.12,432.98L205.64,433.26L206.15,432.78L206.66,432.68L207.18,432.47L207.69,431.93L208.20,431.40L208.71,430.88L209.23,430.86L209.74,430.88L210.25,430.36L210.76,429.72L211.28,429.03L211.79,428.77L212.30,428.31" fill="none" stroke="#ff1010" stroke-width="3.2" opacity="0.16" stroke-linejoin="round"/>
<path d="M132.86,467.68L133.38,465.08L133.89,463.09L134.40,460.93L134.91,459.47L135.43,458.85L135.94,458.21L136.45,458.81L136.96,459.43L137.48,457.64L137.99,456.34L138.50,455.23L139.01,454.28L139.53,453.02L140.04,451.95L140.55,450.58L141.06,449.34L141.58,447.75L142.09,446.94L142.60,445.95L143.11,445.61L143.62,444.86L144.14,444.60L144.65,444.13L145.16,444.13L145.68,443.39L146.19,443.08L146.70,442.34L147.21,442.15L147.73,441.91L148.24,441.11L148.75,440.77L149.26,440.63L149.78,441.06L150.29,441.22L150.80,441.66L151.31,441.99L151.83,442.32L152.34,442.41L152.85,442.20L153.36,441.80L153.88,440.98L154.39,440.86L154.90,440.92L155.41,441.12L155.93,441.20L156.44,440.64L156.95,440.32L157.46,440.00L157.98,440.19L158.49,439.89L159.00,439.62L159.51,438.92L160.03,439.05L160.54,438.82L161.05,438.98L161.56,438.79L162.08,437.95L162.59,437.32L163.10,437.08L163.61,437.33L164.12,437.90L164.64,437.92L165.15,438.28L165.66,438.39L166.18,438.59L166.69,438.63L167.20,438.32L167.71,437.76L168.23,437.44L168.74,437.03L169.25,436.63L169.76,435.86L170.28,435.37L170.79,435.13L171.30,435.54L171.81,435.53L172.33,435.56L172.84,435.22L173.35,435.05L173.86,434.93L174.38,435.04L174.89,434.61L175.40,434.14L175.91,433.72L176.43,433.57L176.94,433.82L177.45,433.84L177.96,433.88L178.48,433.63L178.99,433.66L179.50,434.22L180.01,434.55L180.53,434.70L181.04,434.58L181.55,434.61L182.06,434.65L182.58,434.66L183.09,434.84L183.60,434.03L184.11,433.58L184.62,433.34L185.14,433.66L185.65,433.49L186.16,433.62L186.68,434.15L187.19,434.76L187.70,435.05L188.21,435.11L188.73,435.58L189.24,436.36L189.75,436.25L190.26,435.83L190.78,435.62L191.29,435.75L191.80,435.91L192.31,435.91L192.82,436.57L193.34,437.16L193.85,436.32L194.36,434.80L194.88,433.37L195.39,432.38L195.90,431.49L196.41,430.81L196.93,430.19L197.44,430.00L197.95,429.56L198.46,429.44L198.98,429.71L199.49,429.63L200.00,430.24L200.51,430.56L201.03,431.14L201.54,431.22L202.05,431.29L202.56,431.50L203.07,432.12L203.59,432.63L204.10,432.90L204.61,433.17L205.12,432.98L205.64,433.26L206.15,432.78L206.66,432.68L207.18,432.47L207.69,431.93L208.20,431.40L208.71,430.88L209.23,430.86L209.74,430.88L210.25,430.36L210.76,429.72L211.28,429.03L211.79,428.77L212.30,428.31" fill="none" stroke="#ff1010" stroke-width="1.2" stroke-linejoin="round" stroke-linecap="round"/>
<text x="212.20" y="445.50" font-size="6.1" text-anchor="end" textLength="30.6" lengthAdjust="spacingAndGlyphs" fill="#1a1a1a" stroke="#1a1a1a" stroke-width="0.16">n = 16 mice</text>
<text x="-0.30" y="535.70" font-size="11" font-weight="bold" fill="#000">f</text>
<rect x="25.50" y="544.30" width="83.20" height="10.10" fill="#f0f0f0" stroke="#222" stroke-width="0.8" rx="0.6"/>
<text x="67.10" y="551.40" font-size="7.3" text-anchor="middle" fill="#222">Old WT</text>
<line x1="25.50" y1="600.65" x2="107.50" y2="600.65" stroke="#a6a6a6" stroke-width="1.0" stroke-dasharray="2.9 1.7"/>
<path d="M27.10,558.70L25.50,558.70L25.50,663.20L108.10,663.20" fill="none" stroke="#555" stroke-width="0.6"/>
<text x="23.10" y="560.90" font-size="6.6" text-anchor="end" fill="#1a1a1a" stroke="#1a1a1a" stroke-width="0.16">100</text>
<text x="23.10" y="602.70" font-size="6.6" text-anchor="end" fill="#1a1a1a" stroke="#1a1a1a" stroke-width="0.16">80</text>
<line x1="25.50" y1="600.50" x2="26.90" y2="600.50" stroke="#555" stroke-width="0.5"/>
<text x="23.10" y="644.50" font-size="6.6" text-anchor="end" fill="#1a1a1a" stroke="#1a1a1a" stroke-width="0.16">60</text>
<line x1="25.50" y1="642.30" x2="26.90" y2="642.30" stroke="#555" stroke-width="0.5"/>
<text x="46.00" y="670.60" font-size="6.6" text-anchor="middle" fill="#1a1a1a" stroke="#1a1a1a" stroke-width="0.16">40</text>
<line x1="46.00" y1="663.20" x2="46.00" y2="662.00" stroke="#555" stroke-width="0.5"/>
<text x="66.50" y="670.60" font-size="6.6" text-anchor="middle" fill="#1a1a1a" stroke="#1a1a1a" stroke-width="0.16">80</text>
<line x1="66.50" y1="663.20" x2="66.50" y2="662.00" stroke="#555" stroke-width="0.5"/>
<text x="87.00" y="670.60" font-size="6.6" text-anchor="middle" fill="#1a1a1a" stroke="#1a1a1a" stroke-width="0.16">120</text>
<line x1="87.00" y1="663.20" x2="87.00" y2="662.00" stroke="#555" stroke-width="0.5"/>
<text x="107.50" y="670.60" font-size="6.6" text-anchor="middle" fill="#1a1a1a" stroke="#1a1a1a" stroke-width="0.16">160</text>
<line x1="107.50" y1="663.20" x2="107.50" y2="662.00" stroke="#555" stroke-width="0.5"/>
<text x="66.50" y="681.40" font-size="7.5" text-anchor="middle" fill="#1a1a1a" stroke="#1a1a1a" stroke-width="0.16">Trial number</text>
<text x="0.00" y="0.00" font-size="7.5" text-anchor="middle" fill="#1a1a1a" transform="translate(6.1,611.0) rotate(-90)" stroke="#1a1a1a" stroke-width="0.16">Correct trials (%)</text>
<rect x="25.50" y="650.50" width="20.50" height="2.20" fill="#ff7a7a" stroke="#333" stroke-width="0.55"/>
<text x="35.75" y="649.50" font-size="6.3" text-anchor="middle" fill="#444">T1</text>
<rect x="40.88" y="652.70" width="20.50" height="2.30" fill="#d9d9d9" stroke="#333" stroke-width="0.55"/>
<text x="51.12" y="660.60" font-size="6.3" text-anchor="middle" fill="#444">T2</text>
<rect x="56.25" y="650.50" width="20.50" height="2.20" fill="#d9d9d9" stroke="#333" stroke-width="0.55"/>
<text x="66.50" y="649.50" font-size="6.3" text-anchor="middle" fill="#444">T3</text>
<rect x="71.62" y="652.70" width="20.50" height="2.30" fill="#d9d9d9" stroke="#333" stroke-width="0.55"/>
<text x="81.88" y="660.60" font-size="6.3" text-anchor="middle" fill="#444">T4</text>
<rect x="87.00" y="650.50" width="20.50" height="2.20" fill="#999" stroke="#333" stroke-width="0.55"/>
<text x="97.25" y="649.50" font-size="6.3" text-anchor="middle" fill="#444">T5</text>
<path d="M25.50,567.90L26.01,568.45L26.52,568.56L27.04,568.72L27.55,568.54L28.06,568.83L28.57,568.70L29.09,568.23L29.60,567.66L30.11,567.70L30.62,568.34L31.14,569.16L31.65,569.50L32.16,570.33L32.67,570.12L33.19,570.38L33.70,569.72L34.21,569.81L34.73,569.85L35.24,569.61L35.75,569.42L36.26,569.46L36.77,568.93L37.29,568.76L37.80,567.98L38.31,568.26L38.83,568.11L39.34,567.67L39.85,567.35L40.36,567.10L40.88,567.15L41.39,566.78L41.90,567.26L42.41,567.10L42.92,567.40L43.44,566.74L43.95,567.33L44.46,567.37L44.97,567.27L45.49,566.92L46.00,566.96L46.51,567.24L47.02,567.18L47.54,566.93L48.05,566.84L48.56,566.89L49.08,566.94L49.59,567.43L50.10,567.84L50.61,567.69L51.12,567.80L51.64,567.35L52.15,568.11L52.66,568.23L53.17,568.67L53.69,569.15L54.20,569.60L54.71,570.07L55.22,570.28L55.74,570.26L56.25,570.11L56.76,570.59L57.27,571.25L57.79,571.92L58.30,571.98L58.81,571.97L59.32,572.71L59.84,572.83L60.35,573.22L60.86,573.55L61.38,573.37L61.89,573.49L62.40,572.81L62.91,572.85L63.42,572.40L63.94,571.90L64.45,571.31L64.96,571.02L65.47,571.24L65.99,571.58L66.50,571.25L67.01,570.99L67.53,570.80L68.04,571.22L68.55,571.14L69.06,570.68L69.57,569.83L70.09,569.73L70.60,569.57L71.11,569.51L71.62,569.11L72.14,568.56L72.65,568.25L73.16,568.41L73.67,569.08L74.19,569.25L74.70,569.16L75.21,568.76L75.72,569.51L76.24,569.53L76.75,569.72L77.26,569.36L77.78,569.33L78.29,569.44L78.80,569.37L79.31,569.10L79.82,568.74L80.34,568.42L80.85,568.52L81.36,568.66L81.88,568.69L82.39,568.60L82.90,568.69L83.41,568.98L83.92,569.12L84.44,569.31L84.95,569.89L85.46,570.43L85.97,570.98L86.49,571.53L87.00,572.18L87.51,572.85L88.02,572.98L88.54,573.56L89.05,573.75L89.56,574.10L90.07,574.27L90.59,574.83L91.10,576.09L91.61,576.74L92.12,577.29L92.64,576.92L93.15,576.80L93.66,576.96L94.17,577.57L94.69,578.34L95.20,578.48L95.71,578.84L96.22,578.91L96.74,578.70L97.25,578.45L97.76,578.22L98.27,577.67L98.79,577.32L99.30,577.57L99.81,577.65L100.32,577.56L100.84,577.06L101.35,577.56L101.86,577.65L102.38,577.56L102.89,577.88L103.40,578.11L103.91,578.66L104.42,578.85L104.94,579.10L105.45,579.19L105.96,579.39L106.47,579.39L106.99,579.96L107.50,580.23" fill="none" stroke="#1a1aff" stroke-width="2.6" opacity="0.16" stroke-linejoin="round"/>
<path d="M25.50,567.90L26.01,568.45L26.52,568.56L27.04,568.72L27.55,568.54L28.06,568.83L28.57,568.70L29.09,568.23L29.60,567.66L30.11,567.70L30.62,568.34L31.14,569.16L31.65,569.50L32.16,570.33L32.67,570.12L33.19,570.38L33.70,569.72L34.21,569.81L34.73,569.85L35.24,569.61L35.75,569.42L36.26,569.46L36.77,568.93L37.29,568.76L37.80,567.98L38.31,568.26L38.83,568.11L39.34,567.67L39.85,567.35L40.36,567.10L40.88,567.15L41.39,566.78L41.90,567.26L42.41,567.10L42.92,567.40L43.44,566.74L43.95,567.33L44.46,567.37L44.97,567.27L45.49,566.92L46.00,566.96L46.51,567.24L47.02,567.18L47.54,566.93L48.05,566.84L48.56,566.89L49.08,566.94L49.59,567.43L50.10,567.84L50.61,567.69L51.12,567.80L51.64,567.35L52.15,568.11L52.66,568.23L53.17,568.67L53.69,569.15L54.20,569.60L54.71,570.07L55.22,570.28L55.74,570.26L56.25,570.11L56.76,570.59L57.27,571.25L57.79,571.92L58.30,571.98L58.81,571.97L59.32,572.71L59.84,572.83L60.35,573.22L60.86,573.55L61.38,573.37L61.89,573.49L62.40,572.81L62.91,572.85L63.42,572.40L63.94,571.90L64.45,571.31L64.96,571.02L65.47,571.24L65.99,571.58L66.50,571.25L67.01,570.99L67.53,570.80L68.04,571.22L68.55,571.14L69.06,570.68L69.57,569.83L70.09,569.73L70.60,569.57L71.11,569.51L71.62,569.11L72.14,568.56L72.65,568.25L73.16,568.41L73.67,569.08L74.19,569.25L74.70,569.16L75.21,568.76L75.72,569.51L76.24,569.53L76.75,569.72L77.26,569.36L77.78,569.33L78.29,569.44L78.80,569.37L79.31,569.10L79.82,568.74L80.34,568.42L80.85,568.52L81.36,568.66L81.88,568.69L82.39,568.60L82.90,568.69L83.41,568.98L83.92,569.12L84.44,569.31L84.95,569.89L85.46,570.43L85.97,570.98L86.49,571.53L87.00,572.18L87.51,572.85L88.02,572.98L88.54,573.56L89.05,573.75L89.56,574.10L90.07,574.27L90.59,574.83L91.10,576.09L91.61,576.74L92.12,577.29L92.64,576.92L93.15,576.80L93.66,576.96L94.17,577.57L94.69,578.34L95.20,578.48L95.71,578.84L96.22,578.91L96.74,578.70L97.25,578.45L97.76,578.22L98.27,577.67L98.79,577.32L99.30,577.57L99.81,577.65L100.32,577.56L100.84,577.06L101.35,577.56L101.86,577.65L102.38,577.56L102.89,577.88L103.40,578.11L103.91,578.66L104.42,578.85L104.94,579.10L105.45,579.19L105.96,579.39L106.47,579.39L106.99,579.96L107.50,580.23" fill="none" stroke="#1a1aff" stroke-width="1.2" stroke-linejoin="round" stroke-linecap="round"/>
<path d="M25.50,632.79L26.01,632.22L26.52,631.10L27.04,630.65L27.55,629.53L28.06,628.76L28.57,627.33L29.09,626.09L29.60,625.37L30.11,624.00L30.62,623.10L31.14,621.71L31.65,620.91L32.16,619.45L32.67,618.22L33.19,616.58L33.70,615.59L34.21,614.30L34.73,613.97L35.24,613.02L35.75,612.43L36.26,611.19L36.77,610.85L37.29,610.30L37.80,609.98L38.31,609.45L38.83,608.96L39.34,608.33L39.85,607.78L40.36,607.33L40.88,606.73L41.39,606.50L41.90,605.58L42.41,605.07L42.92,604.10L43.44,604.06L43.95,604.01L44.46,604.15L44.97,603.80L45.49,603.18L46.00,603.09L46.51,603.14L47.02,603.02L47.54,603.43L48.05,603.01L48.56,603.21L49.08,602.14L49.59,602.29L50.10,601.61L50.61,601.38L51.12,600.36L51.64,599.79L52.15,598.76L52.66,598.20L53.17,597.62L53.69,597.10L54.20,596.25L54.71,595.55L55.22,594.95L55.74,594.15L56.25,593.66L56.76,593.62L57.27,594.30L57.79,594.54L58.30,594.18L58.81,593.41L59.32,592.98L59.84,592.96L60.35,592.90L60.86,592.38L61.38,591.54L61.89,591.10L62.40,590.85L62.91,590.62L63.42,590.51L63.94,590.40L64.45,591.32L64.96,591.75L65.47,592.10L65.99,592.43L66.50,592.91L67.01,592.90L67.53,593.51L68.04,594.66L68.55,596.13L69.06,596.88L69.57,597.31L70.09,597.27L70.60,598.02L71.11,598.56L71.62,599.61L72.14,600.19L72.65,600.63L73.16,601.33L73.67,601.53L74.19,602.08L74.70,602.16L75.21,601.71L75.72,600.83L76.24,599.86L76.75,599.43L77.26,598.98L77.78,598.05L78.29,597.08L78.80,596.45L79.31,595.59L79.82,595.02L80.34,593.93L80.85,593.62L81.36,593.23L81.88,593.52L82.39,593.03L82.90,592.68L83.41,591.76L83.92,591.46L84.44,590.51L84.95,590.60L85.46,590.90L85.97,591.43L86.49,591.89L87.00,591.93L87.51,591.90L88.02,591.62L88.54,591.76L89.05,591.88L89.56,591.83L90.07,591.35L90.59,591.01L91.10,590.81L91.61,590.06L92.12,589.88L92.64,589.31L93.15,589.57L93.66,589.82L94.17,589.95L94.69,590.22L95.20,589.97L95.71,589.68L96.22,589.48L96.74,589.74L97.25,590.42L97.76,591.38L98.27,591.52L98.79,591.90L99.30,591.71L99.81,591.65L100.32,591.48L100.84,591.08L101.35,590.91L101.86,590.80L102.38,591.00L102.89,591.20L103.40,591.00L103.91,591.26L104.42,591.95L104.94,592.40L105.45,591.89L105.96,591.33L106.47,591.07L106.99,590.91L107.50,590.43" fill="none" stroke="#ff1010" stroke-width="3.2" opacity="0.16" stroke-linejoin="round"/>
<path d="M25.50,632.79L26.01,632.22L26.52,631.10L27.04,630.65L27.55,629.53L28.06,628.76L28.57,627.33L29.09,626.09L29.60,625.37L30.11,624.00L30.62,623.10L31.14,621.71L31.65,620.91L32.16,619.45L32.67,618.22L33.19,616.58L33.70,615.59L34.21,614.30L34.73,613.97L35.24,613.02L35.75,612.43L36.26,611.19L36.77,610.85L37.29,610.30L37.80,609.98L38.31,609.45L38.83,608.96L39.34,608.33L39.85,607.78L40.36,607.33L40.88,606.73L41.39,606.50L41.90,605.58L42.41,605.07L42.92,604.10L43.44,604.06L43.95,604.01L44.46,604.15L44.97,603.80L45.49,603.18L46.00,603.09L46.51,603.14L47.02,603.02L47.54,603.43L48.05,603.01L48.56,603.21L49.08,602.14L49.59,602.29L50.10,601.61L50.61,601.38L51.12,600.36L51.64,599.79L52.15,598.76L52.66,598.20L53.17,597.62L53.69,597.10L54.20,596.25L54.71,595.55L55.22,594.95L55.74,594.15L56.25,593.66L56.76,593.62L57.27,594.30L57.79,594.54L58.30,594.18L58.81,593.41L59.32,592.98L59.84,592.96L60.35,592.90L60.86,592.38L61.38,591.54L61.89,591.10L62.40,590.85L62.91,590.62L63.42,590.51L63.94,590.40L64.45,591.32L64.96,591.75L65.47,592.10L65.99,592.43L66.50,592.91L67.01,592.90L67.53,593.51L68.04,594.66L68.55,596.13L69.06,596.88L69.57,597.31L70.09,597.27L70.60,598.02L71.11,598.56L71.62,599.61L72.14,600.19L72.65,600.63L73.16,601.33L73.67,601.53L74.19,602.08L74.70,602.16L75.21,601.71L75.72,600.83L76.24,599.86L76.75,599.43L77.26,598.98L77.78,598.05L78.29,597.08L78.80,596.45L79.31,595.59L79.82,595.02L80.34,593.93L80.85,593.62L81.36,593.23L81.88,593.52L82.39,593.03L82.90,592.68L83.41,591.76L83.92,591.46L84.44,590.51L84.95,590.60L85.46,590.90L85.97,591.43L86.49,591.89L87.00,591.93L87.51,591.90L88.02,591.62L88.54,591.76L89.05,591.88L89.56,591.83L90.07,591.35L90.59,591.01L91.10,590.81L91.61,590.06L92.12,589.88L92.64,589.31L93.15,589.57L93.66,589.82L94.17,589.95L94.69,590.22L95.20,589.97L95.71,589.68L96.22,589.48L96.74,589.74L97.25,590.42L97.76,591.38L98.27,591.52L98.79,591.90L99.30,591.71L99.81,591.65L100.32,591.48L100.84,591.08L101.35,590.91L101.86,590.80L102.38,591.00L102.89,591.20L103.40,591.00L103.91,591.26L104.42,591.95L104.94,592.40L105.45,591.89L105.96,591.33L106.47,591.07L106.99,590.91L107.50,590.43" fill="none" stroke="#ff1010" stroke-width="1.2" stroke-linejoin="round" stroke-linecap="round"/>
<text x="107.40" y="616.90" font-size="6.1" text-anchor="end" textLength="30.6" lengthAdjust="spacingAndGlyphs" fill="#1a1a1a" stroke="#1a1a1a" stroke-width="0.16"><tspan font-style="italic">n</tspan> = 11 mice</text>
<text x="48.60" y="580.40" font-size="6.3" text-anchor="middle" fill="#1a1aff">Prelearned</text>
<text x="32.85" y="588.60" font-size="6.3" fill="#1a1aff">(Odor</text>
<rect x="50.45" y="583.30" width="5.60" height="5.80" fill="#e800e8"/>
<text x="53.25" y="588.20" font-size="5.4" text-anchor="middle" fill="#fff">A</text>
<rect x="56.55" y="583.30" width="5.60" height="5.80" fill="#0a0af2"/>
<text x="59.35" y="588.20" font-size="5.4" text-anchor="middle" fill="#fff">B</text>
<text x="62.75" y="588.60" font-size="6.3" fill="#1a1aff">)</text>
<text x="57.60" y="618.80" font-size="6.3" text-anchor="middle" fill="#ff1010">Novel</text>
<text x="41.85" y="627.00" font-size="6.3" fill="#ff1010">(Odor</text>
<rect x="59.45" y="621.70" width="5.60" height="5.80" fill="#0f9d63"/>
<text x="62.25" y="626.60" font-size="5.4" text-anchor="middle" fill="#fff">1</text>
<rect x="65.55" y="621.70" width="5.60" height="5.80" fill="#f0a010"/>
<text x="68.35" y="626.60" font-size="5.4" text-anchor="middle" fill="#fff8">2</text>
<text x="71.75" y="627.00" font-size="6.3" fill="#ff1010">)</text>
<rect x="130.30" y="544.30" width="81.90" height="10.10" fill="#a000f5" stroke="#222" stroke-width="0.8" rx="0.6"/>
<text x="171.25" y="551.40" font-size="7.3" text-anchor="middle" fill="#fff">Old APP-KI</text>
<line x1="130.30" y1="600.65" x2="212.30" y2="600.65" stroke="#a6a6a6" stroke-width="1.0" stroke-dasharray="2.9 1.7"/>
<path d="M131.90,558.70L130.30,558.70L130.30,663.20L212.90,663.20" fill="none" stroke="#555" stroke-width="0.6"/>
<text x="127.90" y="560.90" font-size="6.6" text-anchor="end" fill="#1a1a1a" stroke="#1a1a1a" stroke-width="0.16">100</text>
<text x="127.90" y="602.70" font-size="6.6" text-anchor="end" fill="#1a1a1a" stroke="#1a1a1a" stroke-width="0.16">80</text>
<line x1="130.30" y1="600.50" x2="131.70" y2="600.50" stroke="#555" stroke-width="0.5"/>
<text x="127.90" y="644.50" font-size="6.6" text-anchor="end" fill="#1a1a1a" stroke="#1a1a1a" stroke-width="0.16">60</text>
<line x1="130.30" y1="642.30" x2="131.70" y2="642.30" stroke="#555" stroke-width="0.5"/>
<text x="150.80" y="670.60" font-size="6.6" text-anchor="middle" fill="#1a1a1a" stroke="#1a1a1a" stroke-width="0.16">40</text>
<line x1="150.80" y1="663.20" x2="150.80" y2="662.00" stroke="#555" stroke-width="0.5"/>
<text x="171.30" y="670.60" font-size="6.6" text-anchor="middle" fill="#1a1a1a" stroke="#1a1a1a" stroke-width="0.16">80</text>
<line x1="171.30" y1="663.20" x2="171.30" y2="662.00" stroke="#555" stroke-width="0.5"/>
<text x="191.80" y="670.60" font-size="6.6" text-anchor="middle" fill="#1a1a1a" stroke="#1a1a1a" stroke-width="0.16">120</text>
<line x1="191.80" y1="663.20" x2="191.80" y2="662.00" stroke="#555" stroke-width="0.5"/>
<text x="212.30" y="670.60" font-size="6.6" text-anchor="middle" fill="#1a1a1a" stroke="#1a1a1a" stroke-width="0.16">160</text>
<line x1="212.30" y1="663.20" x2="212.30" y2="662.00" stroke="#555" stroke-width="0.5"/>
<text x="171.30" y="681.40" font-size="7.5" text-anchor="middle" fill="#1a1a1a" stroke="#1a1a1a" stroke-width="0.16">Trial number</text>
<path d="M130.30,572.82L130.81,572.28L131.33,571.58L131.84,571.74L132.35,571.90L132.86,572.31L133.38,571.95L133.89,571.68L134.40,571.60L134.91,571.32L135.43,571.42L135.94,570.89L136.45,570.97L136.96,570.48L137.48,570.36L137.99,570.06L138.50,569.89L139.01,569.80L139.53,569.66L140.04,568.79L140.55,568.09L141.06,567.05L141.58,566.98L142.09,566.72L142.60,566.91L143.11,566.73L143.62,567.41L144.14,567.36L144.65,567.38L145.16,567.02L145.68,567.20L146.19,567.90L146.70,568.94L147.21,569.30L147.73,569.24L148.24,569.13L148.75,569.64L149.26,569.68L149.78,569.25L150.29,569.12L150.80,569.65L151.31,570.06L151.83,570.13L152.34,570.44L152.85,570.46L153.36,570.90L153.88,570.64L154.39,570.44L154.90,569.96L155.41,570.02L155.93,569.78L156.44,569.88L156.95,569.21L157.46,569.49L157.98,569.09L158.49,569.13L159.00,568.66L159.51,568.30L160.03,567.94L160.54,567.35L161.05,567.25L161.56,567.02L162.08,567.59L162.59,567.51L163.10,567.61L163.61,567.14L164.12,567.11L164.64,567.64L165.15,568.37L165.66,568.99L166.18,569.09L166.69,568.73L167.20,569.19L167.71,569.26L168.23,569.55L168.74,569.32L169.25,569.79L169.76,570.35L170.28,570.36L170.79,569.83L171.30,569.60L171.81,569.58L172.33,569.13L172.84,568.85L173.35,568.19L173.86,568.38L174.38,567.75L174.89,568.32L175.40,567.67L175.91,567.91L176.43,567.88L176.94,568.09L177.45,567.92L177.96,567.42L178.48,567.53L178.99,567.78L179.50,568.08L180.01,568.18L180.53,568.05L181.04,568.04L181.55,568.07L182.06,568.44L182.58,568.51L183.09,568.40L183.60,568.24L184.11,569.05L184.62,570.06L185.14,571.07L185.65,571.20L186.16,570.91L186.68,571.03L187.19,571.19L187.70,571.92L188.21,572.50L188.73,572.78L189.24,572.89L189.75,572.67L190.26,572.28L190.78,572.02L191.29,571.67L191.80,571.88L192.31,571.49L192.82,571.27L193.34,571.00L193.85,571.26L194.36,571.48L194.88,571.25L195.39,570.51L195.90,569.93L196.41,569.01L196.93,568.56L197.44,568.47L197.95,569.57L198.46,570.41L198.98,570.87L199.49,570.98L200.00,571.38L200.51,571.38L201.03,571.32L201.54,571.01L202.05,570.66L202.56,570.90L203.07,571.42L203.59,571.98L204.10,572.07L204.61,572.19L205.12,572.60L205.64,572.88L206.15,573.64L206.66,573.81L207.18,574.38L207.69,574.66L208.20,575.67L208.71,574.83L209.23,574.08L209.74,573.03L210.25,572.67L210.76,572.46L211.28,572.07L211.79,572.11L212.30,571.73" fill="none" stroke="#1a1aff" stroke-width="2.6" opacity="0.16" stroke-linejoin="round"/>
<path d="M130.30,572.82L130.81,572.28L131.33,571.58L131.84,571.74L132.35,571.90L132.86,572.31L133.38,571.95L133.89,571.68L134.40,571.60L134.91,571.32L135.43,571.42L135.94,570.89L136.45,570.97L136.96,570.48L137.48,570.36L137.99,570.06L138.50,569.89L139.01,569.80L139.53,569.66L140.04,568.79L140.55,568.09L141.06,567.05L141.58,566.98L142.09,566.72L142.60,566.91L143.11,566.73L143.62,567.41L144.14,567.36L144.65,567.38L145.16,567.02L145.68,567.20L146.19,567.90L146.70,568.94L147.21,569.30L147.73,569.24L148.24,569.13L148.75,569.64L149.26,569.68L149.78,569.25L150.29,569.12L150.80,569.65L151.31,570.06L151.83,570.13L152.34,570.44L152.85,570.46L153.36,570.90L153.88,570.64L154.39,570.44L154.90,569.96L155.41,570.02L155.93,569.78L156.44,569.88L156.95,569.21L157.46,569.49L157.98,569.09L158.49,569.13L159.00,568.66L159.51,568.30L160.03,567.94L160.54,567.35L161.05,567.25L161.56,567.02L162.08,567.59L162.59,567.51L163.10,567.61L163.61,567.14L164.12,567.11L164.64,567.64L165.15,568.37L165.66,568.99L166.18,569.09L166.69,568.73L167.20,569.19L167.71,569.26L168.23,569.55L168.74,569.32L169.25,569.79L169.76,570.35L170.28,570.36L170.79,569.83L171.30,569.60L171.81,569.58L172.33,569.13L172.84,568.85L173.35,568.19L173.86,568.38L174.38,567.75L174.89,568.32L175.40,567.67L175.91,567.91L176.43,567.88L176.94,568.09L177.45,567.92L177.96,567.42L178.48,567.53L178.99,567.78L179.50,568.08L180.01,568.18L180.53,568.05L181.04,568.04L181.55,568.07L182.06,568.44L182.58,568.51L183.09,568.40L183.60,568.24L184.11,569.05L184.62,570.06L185.14,571.07L185.65,571.20L186.16,570.91L186.68,571.03L187.19,571.19L187.70,571.92L188.21,572.50L188.73,572.78L189.24,572.89L189.75,572.67L190.26,572.28L190.78,572.02L191.29,571.67L191.80,571.88L192.31,571.49L192.82,571.27L193.34,571.00L193.85,571.26L194.36,571.48L194.88,571.25L195.39,570.51L195.90,569.93L196.41,569.01L196.93,568.56L197.44,568.47L197.95,569.57L198.46,570.41L198.98,570.87L199.49,570.98L200.00,571.38L200.51,571.38L201.03,571.32L201.54,571.01L202.05,570.66L202.56,570.90L203.07,571.42L203.59,571.98L204.10,572.07L204.61,572.19L205.12,572.60L205.64,572.88L206.15,573.64L206.66,573.81L207.18,574.38L207.69,574.66L208.20,575.67L208.71,574.83L209.23,574.08L209.74,573.03L210.25,572.67L210.76,572.46L211.28,572.07L211.79,572.11L212.30,571.73" fill="none" stroke="#1a1aff" stroke-width="1.2" stroke-linejoin="round" stroke-linecap="round"/>
<path d="M130.30,650.75L130.81,649.07L131.33,647.23L131.84,645.13L132.35,643.32L132.86,640.89L133.38,638.41L133.89,636.90L134.40,635.69L134.91,634.75L135.43,633.64L135.94,632.48L136.45,631.46L136.96,630.80L137.48,631.87L137.99,632.57L138.50,632.79L139.01,633.20L139.53,632.99L140.04,632.87L140.55,632.89L141.06,632.72L141.58,632.52L142.09,632.48L142.60,632.88L143.11,633.32L143.62,633.86L144.14,634.08L144.65,635.07L145.16,635.70L145.68,636.86L146.19,638.00L146.70,639.07L147.21,638.12L147.73,636.58L148.24,635.59L148.75,634.92L149.26,634.58L149.78,634.56L150.29,633.99L150.80,634.01L151.31,633.58L151.83,633.18L152.34,632.27L152.85,631.49L153.36,630.48L153.88,629.46L154.39,628.61L154.90,627.84L155.41,627.51L155.93,626.76L156.44,627.40L156.95,627.57L157.46,628.36L157.98,629.05L158.49,629.05L159.00,628.29L159.51,627.76L160.03,627.53L160.54,627.95L161.05,628.49L161.56,629.36L162.08,630.17L162.59,630.38L163.10,630.66L163.61,630.83L164.12,631.25L164.64,631.44L165.15,631.72L165.66,630.61L166.18,629.03L166.69,628.01L167.20,627.20L167.71,627.08L168.23,626.68L168.74,625.67L169.25,625.15L169.76,624.47L170.28,624.30L170.79,624.13L171.30,623.96L171.81,624.27L172.33,624.14L172.84,623.84L173.35,623.04L173.86,622.24L174.38,621.81L174.89,621.53L175.40,622.26L175.91,622.56L176.43,622.75L176.94,623.04L177.45,622.90L177.96,622.34L178.48,621.76L178.99,620.90L179.50,620.67L180.01,620.49L180.53,620.95L181.04,620.76L181.55,621.34L182.06,621.58L182.58,622.12L183.09,622.18L183.60,621.79L184.11,621.50L184.62,621.44L185.14,622.72L185.65,623.27L186.16,624.03L186.68,624.39L187.19,625.18L187.70,625.82L188.21,625.88L188.73,626.49L189.24,627.10L189.75,627.69L190.26,628.09L190.78,628.60L191.29,628.44L191.80,628.18L192.31,627.65L192.82,627.49L193.34,626.92L193.85,626.83L194.36,625.99L194.88,626.11L195.39,625.84L195.90,626.56L196.41,626.92L196.93,627.40L197.44,627.07L197.95,627.70L198.46,627.88L198.98,628.04L199.49,627.32L200.00,627.31L200.51,627.31L201.03,627.62L201.54,628.08L202.05,628.13L202.56,628.13L203.07,627.37L203.59,627.43L204.10,626.90L204.61,627.21L205.12,626.75L205.64,626.34L206.15,625.44L206.66,624.72L207.18,624.44L207.69,624.48L208.20,624.36L208.71,623.94L209.23,623.20L209.74,623.01L210.25,622.57L210.76,622.34L211.28,621.71L211.79,621.33L212.30,620.75" fill="none" stroke="#ff1010" stroke-width="3.2" opacity="0.16" stroke-linejoin="round"/>
<path d="M130.30,650.75L130.81,649.07L131.33,647.23L131.84,645.13L132.35,643.32L132.86,640.89L133.38,638.41L133.89,636.90L134.40,635.69L134.91,634.75L135.43,633.64L135.94,632.48L136.45,631.46L136.96,630.80L137.48,631.87L137.99,632.57L138.50,632.79L139.01,633.20L139.53,632.99L140.04,632.87L140.55,632.89L141.06,632.72L141.58,632.52L142.09,632.48L142.60,632.88L143.11,633.32L143.62,633.86L144.14,634.08L144.65,635.07L145.16,635.70L145.68,636.86L146.19,638.00L146.70,639.07L147.21,638.12L147.73,636.58L148.24,635.59L148.75,634.92L149.26,634.58L149.78,634.56L150.29,633.99L150.80,634.01L151.31,633.58L151.83,633.18L152.34,632.27L152.85,631.49L153.36,630.48L153.88,629.46L154.39,628.61L154.90,627.84L155.41,627.51L155.93,626.76L156.44,627.40L156.95,627.57L157.46,628.36L157.98,629.05L158.49,629.05L159.00,628.29L159.51,627.76L160.03,627.53L160.54,627.95L161.05,628.49L161.56,629.36L162.08,630.17L162.59,630.38L163.10,630.66L163.61,630.83L164.12,631.25L164.64,631.44L165.15,631.72L165.66,630.61L166.18,629.03L166.69,628.01L167.20,627.20L167.71,627.08L168.23,626.68L168.74,625.67L169.25,625.15L169.76,624.47L170.28,624.30L170.79,624.13L171.30,623.96L171.81,624.27L172.33,624.14L172.84,623.84L173.35,623.04L173.86,622.24L174.38,621.81L174.89,621.53L175.40,622.26L175.91,622.56L176.43,622.75L176.94,623.04L177.45,622.90L177.96,622.34L178.48,621.76L178.99,620.90L179.50,620.67L180.01,620.49L180.53,620.95L181.04,620.76L181.55,621.34L182.06,621.58L182.58,622.12L183.09,622.18L183.60,621.79L184.11,621.50L184.62,621.44L185.14,622.72L185.65,623.27L186.16,624.03L186.68,624.39L187.19,625.18L187.70,625.82L188.21,625.88L188.73,626.49L189.24,627.10L189.75,627.69L190.26,628.09L190.78,628.60L191.29,628.44L191.80,628.18L192.31,627.65L192.82,627.49L193.34,626.92L193.85,626.83L194.36,625.99L194.88,626.11L195.39,625.84L195.90,626.56L196.41,626.92L196.93,627.40L197.44,627.07L197.95,627.70L198.46,627.88L198.98,628.04L199.49,627.32L200.00,627.31L200.51,627.31L201.03,627.62L201.54,628.08L202.05,628.13L202.56,628.13L203.07,627.37L203.59,627.43L204.10,626.90L204.61,627.21L205.12,626.75L205.64,626.34L206.15,625.44L206.66,624.72L207.18,624.44L207.69,624.48L208.20,624.36L208.71,623.94L209.23,623.20L209.74,623.01L210.25,622.57L210.76,622.34L211.28,621.71L211.79,621.33L212.30,620.75" fill="none" stroke="#ff1010" stroke-width="1.2" stroke-linejoin="round" stroke-linecap="round"/>
<text x="212.60" y="616.90" font-size="6.1" text-anchor="end" textLength="30.6" lengthAdjust="spacingAndGlyphs" fill="#1a1a1a" stroke="#1a1a1a" stroke-width="0.16">n = 14 mice</text>
<text x="224.00" y="364.50" font-size="11" font-weight="bold" fill="#000">d</text>
<path d="M251.80,381.40L250.30,381.40L250.30,492.15L348.6,492.15" fill="none" stroke="#555" stroke-width="0.6"/>
<text x="246.90" y="383.70" font-size="6.6" text-anchor="end" fill="#1a1a1a" stroke="#1a1a1a" stroke-width="0.16">100</text>
<text x="246.90" y="428.00" font-size="6.6" text-anchor="end" fill="#1a1a1a" stroke="#1a1a1a" stroke-width="0.16">80</text>
<line x1="250.30" y1="425.70" x2="251.70" y2="425.70" stroke="#555" stroke-width="0.5"/>
<text x="246.90" y="472.30" font-size="6.6" text-anchor="end" fill="#1a1a1a" stroke="#1a1a1a" stroke-width="0.16">60</text>
<line x1="250.30" y1="470.00" x2="251.70" y2="470.00" stroke="#555" stroke-width="0.5"/>
<text x="0.00" y="0.00" font-size="7.5" text-anchor="middle" fill="#1a1a1a" transform="translate(229.8,437.2) rotate(-90)" stroke="#1a1a1a" stroke-width="0.16">Correct trials in T5 (%)</text>
<rect x="259.80" y="403.55" width="13.40" height="88.60" fill="#0a0af2"/>
<line x1="266.50" y1="400.95" x2="266.50" y2="406.15" stroke="#444" stroke-width="0.5"/>
<text x="266.50" y="489.95" font-size="6.4" text-anchor="middle" fill="#fff">11</text>
<g fill="#fff" stroke="#303030" stroke-width="0.6"><circle cx="265.88" cy="386.94" r="2.0"/><circle cx="266.51" cy="389.60" r="2.0"/><circle cx="265.69" cy="392.92" r="2.0"/><circle cx="267.27" cy="396.90" r="2.0"/><circle cx="265.70" cy="402.66" r="2.0"/><circle cx="267.30" cy="405.76" r="2.0"/><circle cx="265.86" cy="411.52" r="2.0"/><circle cx="266.63" cy="417.50" r="2.0"/><circle cx="267.52" cy="425.26" r="2.0"/><circle cx="266.25" cy="400.01" r="2.0"/><circle cx="267.62" cy="391.15" r="2.0"/></g>
<rect x="276.30" y="402.89" width="13.50" height="89.26" fill="#ff1010"/>
<line x1="283.05" y1="400.29" x2="283.05" y2="405.49" stroke="#444" stroke-width="0.5"/>
<text x="283.05" y="489.95" font-size="6.4" text-anchor="middle" fill="#fff">11</text>
<g fill="#fff" stroke="#303030" stroke-width="0.6"><circle cx="284.20" cy="389.15" r="2.0"/><circle cx="281.98" cy="398.23" r="2.0"/><circle cx="283.59" cy="400.89" r="2.0"/><circle cx="281.15" cy="404.88" r="2.0"/><circle cx="284.75" cy="404.88" r="2.0"/><circle cx="283.01" cy="425.70" r="2.0"/><circle cx="284.11" cy="402.22" r="2.0"/><circle cx="282.83" cy="399.56" r="2.0"/><circle cx="284.06" cy="403.99" r="2.0"/><circle cx="282.23" cy="401.78" r="2.0"/><circle cx="284.24" cy="397.35" r="2.0"/></g>
<rect x="308.30" y="397.79" width="13.40" height="94.36" fill="#0a0af2"/>
<line x1="315.00" y1="395.19" x2="315.00" y2="400.39" stroke="#444" stroke-width="0.5"/>
<text x="315.00" y="489.95" font-size="6.4" text-anchor="middle" fill="#fff">16</text>
<g fill="#fff" stroke="#303030" stroke-width="0.6"><circle cx="313.20" cy="385.83" r="2.0"/><circle cx="316.60" cy="385.83" r="2.0"/><circle cx="315.28" cy="387.60" r="2.0"/><circle cx="315.94" cy="389.82" r="2.0"/><circle cx="314.90" cy="392.47" r="2.0"/><circle cx="315.51" cy="394.69" r="2.0"/><circle cx="316.05" cy="398.23" r="2.0"/><circle cx="315.05" cy="401.33" r="2.0"/><circle cx="315.56" cy="404.44" r="2.0"/><circle cx="315.55" cy="407.09" r="2.0"/><circle cx="315.86" cy="396.02" r="2.0"/><circle cx="313.89" cy="391.15" r="2.0"/><circle cx="314.21" cy="402.66" r="2.0"/><circle cx="316.19" cy="388.49" r="2.0"/><circle cx="313.80" cy="415.73" r="2.0"/><circle cx="316.00" cy="415.73" r="2.0"/></g>
<rect x="324.80" y="428.14" width="13.30" height="64.01" fill="#ff1010"/>
<line x1="331.45" y1="425.54" x2="331.45" y2="430.74" stroke="#444" stroke-width="0.5"/>
<text x="331.45" y="489.95" font-size="6.4" text-anchor="middle" fill="#fff">16</text>
<g fill="#fff" stroke="#303030" stroke-width="0.6"><circle cx="332.44" cy="390.92" r="2.0"/><circle cx="330.58" cy="415.73" r="2.0"/><circle cx="331.58" cy="417.28" r="2.0"/><circle cx="331.41" cy="419.05" r="2.0"/><circle cx="332.55" cy="421.27" r="2.0"/><circle cx="331.16" cy="424.81" r="2.0"/><circle cx="331.32" cy="429.24" r="2.0"/><circle cx="331.64" cy="432.34" r="2.0"/><circle cx="331.17" cy="436.33" r="2.0"/><circle cx="332.44" cy="441.65" r="2.0"/><circle cx="332.36" cy="449.62" r="2.0"/><circle cx="331.99" cy="462.91" r="2.0"/><circle cx="330.38" cy="469.56" r="2.0"/><circle cx="332.63" cy="472.66" r="2.0"/><circle cx="331.57" cy="478.42" r="2.0"/><circle cx="331.68" cy="481.52" r="2.0"/></g>
<rect x="259.20" y="493.75" width="6.60" height="6.80" fill="#e800e8"/>
<text x="262.50" y="499.24" font-size="5.8" text-anchor="middle" fill="#fff">A</text>
<rect x="266.00" y="493.75" width="6.60" height="6.80" fill="#0a0af2"/>
<text x="269.30" y="499.24" font-size="5.8" text-anchor="middle" fill="#fff">B</text>
<rect x="276.30" y="493.75" width="6.60" height="6.80" fill="#0f9d63"/>
<text x="279.60" y="499.24" font-size="5.8" text-anchor="middle" fill="#fff">1</text>
<rect x="283.20" y="493.75" width="6.60" height="6.80" fill="#f0a010"/>
<text x="286.50" y="499.24" font-size="5.8" text-anchor="middle" fill="#fff">2</text>
<rect x="307.80" y="493.75" width="6.60" height="6.80" fill="#e800e8"/>
<text x="311.10" y="499.24" font-size="5.8" text-anchor="middle" fill="#fff">A</text>
<rect x="314.60" y="493.75" width="6.60" height="6.80" fill="#0a0af2"/>
<text x="317.90" y="499.24" font-size="5.8" text-anchor="middle" fill="#fff">B</text>
<rect x="324.80" y="493.75" width="6.60" height="6.80" fill="#0f9d63"/>
<text x="328.10" y="499.24" font-size="5.8" text-anchor="middle" fill="#fff">1</text>
<rect x="331.70" y="493.75" width="6.60" height="6.80" fill="#f0a010"/>
<text x="335.00" y="499.24" font-size="5.8" text-anchor="middle" fill="#fff">2</text>
<rect x="255.40" y="503.55" width="40.10" height="10.20" fill="#fff" stroke="#222" stroke-width="0.8"/>
<text x="275.40" y="511.15" font-size="7.0" text-anchor="middle" fill="#1a1a1a" stroke="#1a1a1a" stroke-width="0.16">WT</text>
<rect x="304.40" y="503.55" width="39.60" height="10.20" fill="#a000f5" stroke="#222" stroke-width="0.8"/>
<text x="324.20" y="511.15" font-size="7.0" text-anchor="middle" fill="#fff">APP-KI</text>
<path d="M266.4,383.60L266.4,382.40L314.9,382.40L314.9,383.60M282.8,382.40L282.8,377.40L331.4,377.40L331.4,387.60" fill="none" stroke="#444" stroke-width="0.55"/>
<text x="307.00" y="373.00" font-size="7.0" text-anchor="middle" fill="#1a1a1a" stroke="#1a1a1a" stroke-width="0.16">***<tspan font-style="italic">P</tspan> &lt; 0.001</text>
<text x="224.00" y="536.00" font-size="11" font-weight="bold" fill="#000">g</text>
<path d="M251.80,552.90L250.30,552.90L250.30,663.65L348.6,663.65" fill="none" stroke="#555" stroke-width="0.6"/>
<text x="246.90" y="555.20" font-size="6.6" text-anchor="end" fill="#1a1a1a" stroke="#1a1a1a" stroke-width="0.16">100</text>
<text x="246.90" y="599.50" font-size="6.6" text-anchor="end" fill="#1a1a1a" stroke="#1a1a1a" stroke-width="0.16">80</text>
<line x1="250.30" y1="597.20" x2="251.70" y2="597.20" stroke="#555" stroke-width="0.5"/>
<text x="246.90" y="643.80" font-size="6.6" text-anchor="end" fill="#1a1a1a" stroke="#1a1a1a" stroke-width="0.16">60</text>
<line x1="250.30" y1="641.50" x2="251.70" y2="641.50" stroke="#555" stroke-width="0.5"/>
<text x="0.00" y="0.00" font-size="7.5" text-anchor="middle" fill="#1a1a1a" transform="translate(229.8,608.7) rotate(-90)" stroke="#1a1a1a" stroke-width="0.16">Correct trials in T5 (%)</text>
<rect x="259.80" y="572.17" width="13.40" height="91.48" fill="#0a0af2"/>
<line x1="266.50" y1="569.57" x2="266.50" y2="574.77" stroke="#444" stroke-width="0.5"/>
<text x="266.50" y="661.45" font-size="6.4" text-anchor="middle" fill="#fff">11</text>
<g fill="#fff" stroke="#303030" stroke-width="0.6"><circle cx="266.49" cy="561.76" r="2.0"/><circle cx="266.64" cy="563.53" r="2.0"/><circle cx="267.24" cy="565.53" r="2.0"/><circle cx="266.07" cy="567.96" r="2.0"/><circle cx="266.07" cy="569.96" r="2.0"/><circle cx="266.96" cy="571.95" r="2.0"/><circle cx="266.47" cy="573.72" r="2.0"/><circle cx="266.16" cy="575.94" r="2.0"/><circle cx="266.27" cy="579.04" r="2.0"/><circle cx="266.09" cy="583.91" r="2.0"/><circle cx="265.70" cy="568.85" r="2.0"/></g>
<rect x="276.30" y="586.57" width="13.50" height="77.08" fill="#ff1010"/>
<line x1="283.05" y1="583.97" x2="283.05" y2="589.17" stroke="#444" stroke-width="0.5"/>
<text x="283.05" y="661.45" font-size="6.4" text-anchor="middle" fill="#fff">11</text>
<g fill="#fff" stroke="#303030" stroke-width="0.6"><circle cx="284.08" cy="568.40" r="2.0"/><circle cx="282.27" cy="570.62" r="2.0"/><circle cx="284.18" cy="574.61" r="2.0"/><circle cx="282.42" cy="581.69" r="2.0"/><circle cx="282.97" cy="583.91" r="2.0"/><circle cx="284.00" cy="586.12" r="2.0"/><circle cx="282.70" cy="588.34" r="2.0"/><circle cx="283.07" cy="590.55" r="2.0"/><circle cx="282.24" cy="592.77" r="2.0"/><circle cx="284.16" cy="594.99" r="2.0"/><circle cx="284.21" cy="613.81" r="2.0"/></g>
<rect x="308.30" y="566.19" width="13.40" height="97.46" fill="#0a0af2"/>
<line x1="315.00" y1="563.59" x2="315.00" y2="568.79" stroke="#444" stroke-width="0.5"/>
<text x="315.00" y="661.45" font-size="6.4" text-anchor="middle" fill="#fff">14</text>
<g fill="#fff" stroke="#303030" stroke-width="0.6"><circle cx="313.40" cy="557.33" r="2.0"/><circle cx="316.60" cy="558.22" r="2.0"/><circle cx="314.87" cy="560.43" r="2.0"/><circle cx="314.51" cy="562.65" r="2.0"/><circle cx="315.98" cy="564.86" r="2.0"/><circle cx="314.96" cy="567.08" r="2.0"/><circle cx="314.01" cy="569.29" r="2.0"/><circle cx="315.60" cy="571.51" r="2.0"/><circle cx="313.98" cy="582.80" r="2.0"/><circle cx="314.29" cy="563.98" r="2.0"/><circle cx="313.98" cy="566.19" r="2.0"/><circle cx="315.31" cy="568.40" r="2.0"/><circle cx="315.82" cy="570.62" r="2.0"/><circle cx="315.27" cy="559.54" r="2.0"/></g>
<rect x="324.80" y="623.78" width="13.30" height="39.87" fill="#ff1010"/>
<line x1="331.45" y1="621.18" x2="331.45" y2="626.38" stroke="#444" stroke-width="0.5"/>
<text x="331.45" y="661.45" font-size="6.4" text-anchor="middle" fill="#fff">14</text>
<g fill="#fff" stroke="#303030" stroke-width="0.6"><circle cx="331.39" cy="598.31" r="2.0"/><circle cx="331.76" cy="603.85" r="2.0"/><circle cx="331.22" cy="607.39" r="2.0"/><circle cx="332.46" cy="610.49" r="2.0"/><circle cx="330.29" cy="614.03" r="2.0"/><circle cx="332.62" cy="617.13" r="2.0"/><circle cx="331.94" cy="619.35" r="2.0"/><circle cx="332.18" cy="621.56" r="2.0"/><circle cx="332.18" cy="624.22" r="2.0"/><circle cx="330.73" cy="628.21" r="2.0"/><circle cx="332.22" cy="634.86" r="2.0"/><circle cx="331.82" cy="641.50" r="2.0"/><circle cx="330.60" cy="648.14" r="2.0"/><circle cx="330.45" cy="651.25" r="2.0"/><circle cx="332.45" cy="653.90" r="2.0"/></g>
<rect x="259.20" y="665.25" width="6.60" height="6.80" fill="#e800e8"/>
<text x="262.50" y="670.74" font-size="5.8" text-anchor="middle" fill="#fff">A</text>
<rect x="266.00" y="665.25" width="6.60" height="6.80" fill="#0a0af2"/>
<text x="269.30" y="670.74" font-size="5.8" text-anchor="middle" fill="#fff">B</text>
<rect x="276.30" y="665.25" width="6.60" height="6.80" fill="#0f9d63"/>
<text x="279.60" y="670.74" font-size="5.8" text-anchor="middle" fill="#fff">1</text>
<rect x="283.20" y="665.25" width="6.60" height="6.80" fill="#f0a010"/>
<text x="286.50" y="670.74" font-size="5.8" text-anchor="middle" fill="#fff">2</text>
<rect x="307.80" y="665.25" width="6.60" height="6.80" fill="#e800e8"/>
<text x="311.10" y="670.74" font-size="5.8" text-anchor="middle" fill="#fff">A</text>
<rect x="314.60" y="665.25" width="6.60" height="6.80" fill="#0a0af2"/>
<text x="317.90" y="670.74" font-size="5.8" text-anchor="middle" fill="#fff">B</text>
<rect x="324.80" y="665.25" width="6.60" height="6.80" fill="#0f9d63"/>
<text x="328.10" y="670.74" font-size="5.8" text-anchor="middle" fill="#fff">1</text>
<rect x="331.70" y="665.25" width="6.60" height="6.80" fill="#f0a010"/>
<text x="335.00" y="670.74" font-size="5.8" text-anchor="middle" fill="#fff">2</text>
<rect x="255.40" y="675.05" width="40.10" height="10.20" fill="#fff" stroke="#222" stroke-width="0.8"/>
<text x="275.40" y="682.65" font-size="7.0" text-anchor="middle" fill="#1a1a1a" stroke="#1a1a1a" stroke-width="0.16">WT</text>
<rect x="304.40" y="675.05" width="39.60" height="10.20" fill="#a000f5" stroke="#222" stroke-width="0.8"/>
<text x="324.20" y="682.65" font-size="7.0" text-anchor="middle" fill="#fff">APP-KI</text>
<path d="M266.4,555.10L266.4,553.90L314.9,553.90L314.9,555.10M282.8,553.90L282.8,548.90L331.4,548.90L331.4,559.10" fill="none" stroke="#444" stroke-width="0.55"/>
<text x="307.00" y="544.50" font-size="7.0" text-anchor="middle" fill="#1a1a1a" stroke="#1a1a1a" stroke-width="0.16">***<tspan font-style="italic">P</tspan> &lt; 0.001</text>
<text x="353.50" y="364.50" font-size="11" font-weight="bold" fill="#000">e</text>
<path d="M381.20,379.80L379.60,379.80L379.60,491.80L423.6,491.80" fill="none" stroke="#555" stroke-width="0.6"/>
<text x="376.20" y="382.10" font-size="6.6" text-anchor="end" fill="#1a1a1a" stroke="#1a1a1a" stroke-width="0.16">100</text>
<text x="376.20" y="404.50" font-size="6.6" text-anchor="end" fill="#1a1a1a" stroke="#1a1a1a" stroke-width="0.16">80</text>
<line x1="377.60" y1="402.20" x2="379.60" y2="402.20" stroke="#555" stroke-width="0.5"/>
<text x="376.20" y="426.90" font-size="6.6" text-anchor="end" fill="#1a1a1a" stroke="#1a1a1a" stroke-width="0.16">60</text>
<line x1="377.60" y1="424.60" x2="379.60" y2="424.60" stroke="#555" stroke-width="0.5"/>
<text x="376.20" y="449.30" font-size="6.6" text-anchor="end" fill="#1a1a1a" stroke="#1a1a1a" stroke-width="0.16">40</text>
<line x1="377.60" y1="447.00" x2="379.60" y2="447.00" stroke="#555" stroke-width="0.5"/>
<text x="376.20" y="471.70" font-size="6.6" text-anchor="end" fill="#1a1a1a" stroke="#1a1a1a" stroke-width="0.16">20</text>
<line x1="377.60" y1="469.40" x2="379.60" y2="469.40" stroke="#555" stroke-width="0.5"/>
<text x="376.20" y="494.10" font-size="6.6" text-anchor="end" fill="#1a1a1a" stroke="#1a1a1a" stroke-width="0.16">0</text>
<line x1="377.60" y1="491.80" x2="379.60" y2="491.80" stroke="#555" stroke-width="0.5"/>
<text x="0.00" y="0.00" font-size="7.5" text-anchor="middle" fill="#1a1a1a" transform="translate(360.0,435.8) rotate(-90)" stroke="#1a1a1a" stroke-width="0.16">Correct session (%)</text>
<rect x="389.30" y="405.11" width="13.50" height="86.69" fill="#000"/>
<line x1="396.05" y1="400.71" x2="396.05" y2="409.51" stroke="#999" stroke-width="0.5"/>
<text x="396.05" y="489.90" font-size="6.4" text-anchor="middle" fill="#fff">11</text>
<g fill="#fff" stroke="#303030" stroke-width="0.6"><circle cx="394.05" cy="379.80" r="2.0"/><circle cx="397.65" cy="379.80" r="2.0"/><circle cx="396.25" cy="394.36" r="2.0"/><circle cx="394.85" cy="397.72" r="2.0"/><circle cx="396.85" cy="399.40" r="2.0"/><circle cx="396.35" cy="407.80" r="2.0"/><circle cx="396.25" cy="412.28" r="2.0"/><circle cx="394.45" cy="435.80" r="2.0"/><circle cx="397.25" cy="435.80" r="2.0"/><circle cx="395.55" cy="406.68" r="2.0"/><circle cx="396.45" cy="411.16" r="2.0"/></g>
<rect x="406.20" y="425.38" width="13.80" height="66.42" fill="#a000f5"/>
<line x1="413.10" y1="420.98" x2="413.10" y2="429.78" stroke="#999" stroke-width="0.5"/>
<text x="413.10" y="489.90" font-size="6.4" text-anchor="middle" fill="#fff">16</text>
<g fill="#fff" stroke="#303030" stroke-width="0.6"><circle cx="413.10" cy="379.80" r="2.0"/><circle cx="411.70" cy="400.52" r="2.0"/><circle cx="413.70" cy="403.32" r="2.0"/><circle cx="413.10" cy="411.16" r="2.0"/><circle cx="410.90" cy="417.32" r="2.0"/><circle cx="414.50" cy="417.88" r="2.0"/><circle cx="412.90" cy="418.44" r="2.0"/><circle cx="412.10" cy="423.48" r="2.0"/><circle cx="414.10" cy="426.84" r="2.0"/><circle cx="413.10" cy="435.80" r="2.0"/><circle cx="413.70" cy="445.32" r="2.0"/><circle cx="412.10" cy="447.45" r="2.0"/><circle cx="412.20" cy="471.64" r="2.0"/><circle cx="413.80" cy="473.43" r="2.0"/></g>
<text x="396.00" y="501.40" font-size="7.0" text-anchor="middle" fill="#1a1a1a" stroke="#1a1a1a" stroke-width="0.16">WT</text>
<text x="413.20" y="501.40" font-size="7.0" text-anchor="middle" fill="#1a1a1a" stroke="#1a1a1a" stroke-width="0.16">APP</text>
<text x="401.60" y="370.40" font-size="7.0" text-anchor="middle" fill="#1a1a1a" stroke="#1a1a1a" stroke-width="0.16">*P = 0.037</text>
<text x="353.50" y="535.00" font-size="11" font-weight="bold" fill="#000">h</text>
<path d="M381.20,550.80L379.60,550.80L379.60,662.80L423.6,662.80" fill="none" stroke="#555" stroke-width="0.6"/>
<text x="376.20" y="553.10" font-size="6.6" text-anchor="end" fill="#1a1a1a" stroke="#1a1a1a" stroke-width="0.16">100</text>
<text x="376.20" y="575.50" font-size="6.6" text-anchor="end" fill="#1a1a1a" stroke="#1a1a1a" stroke-width="0.16">80</text>
<line x1="377.60" y1="573.20" x2="379.60" y2="573.20" stroke="#555" stroke-width="0.5"/>
<text x="376.20" y="597.90" font-size="6.6" text-anchor="end" fill="#1a1a1a" stroke="#1a1a1a" stroke-width="0.16">60</text>
<line x1="377.60" y1="595.60" x2="379.60" y2="595.60" stroke="#555" stroke-width="0.5"/>
<text x="376.20" y="620.30" font-size="6.6" text-anchor="end" fill="#1a1a1a" stroke="#1a1a1a" stroke-width="0.16">40</text>
<line x1="377.60" y1="618.00" x2="379.60" y2="618.00" stroke="#555" stroke-width="0.5"/>
<text x="376.20" y="642.70" font-size="6.6" text-anchor="end" fill="#1a1a1a" stroke="#1a1a1a" stroke-width="0.16">20</text>
<line x1="377.60" y1="640.40" x2="379.60" y2="640.40" stroke="#555" stroke-width="0.5"/>
<text x="376.20" y="665.10" font-size="6.6" text-anchor="end" fill="#1a1a1a" stroke="#1a1a1a" stroke-width="0.16">0</text>
<line x1="377.60" y1="662.80" x2="379.60" y2="662.80" stroke="#555" stroke-width="0.5"/>
<text x="0.00" y="0.00" font-size="7.5" text-anchor="middle" fill="#1a1a1a" transform="translate(360.0,606.8) rotate(-90)" stroke="#1a1a1a" stroke-width="0.16">Correct session (%)</text>
<rect x="389.30" y="571.63" width="13.50" height="91.17" fill="#000"/>
<line x1="396.05" y1="567.23" x2="396.05" y2="576.03" stroke="#999" stroke-width="0.5"/>
<text x="396.05" y="661.00" font-size="6.4" text-anchor="middle" fill="#fff">11</text>
<g fill="#fff" stroke="#303030" stroke-width="0.6"><circle cx="394.05" cy="550.80" r="2.0"/><circle cx="397.85" cy="550.80" r="2.0"/><circle cx="396.05" cy="557.52" r="2.0"/><circle cx="396.05" cy="563.12" r="2.0"/><circle cx="396.05" cy="568.16" r="2.0"/><circle cx="396.05" cy="581.60" r="2.0"/><circle cx="396.05" cy="592.80" r="2.0"/><circle cx="396.05" cy="606.80" r="2.0"/><circle cx="396.05" cy="615.20" r="2.0"/></g>
<rect x="406.20" y="609.94" width="13.80" height="52.86" fill="#a000f5"/>
<line x1="413.10" y1="605.54" x2="413.10" y2="614.34" stroke="#999" stroke-width="0.5"/>
<text x="413.10" y="650.80" font-size="6.4" text-anchor="middle" fill="#fff">14</text>
<g fill="#fff" stroke="#303030" stroke-width="0.6"><circle cx="413.10" cy="564.24" r="2.0"/><circle cx="413.10" cy="576.00" r="2.0"/><circle cx="413.30" cy="588.32" r="2.0"/><circle cx="411.90" cy="591.68" r="2.0"/><circle cx="414.30" cy="591.68" r="2.0"/><circle cx="413.10" cy="606.80" r="2.0"/><circle cx="414.30" cy="615.76" r="2.0"/><circle cx="411.70" cy="618.00" r="2.0"/><circle cx="413.50" cy="619.79" r="2.0"/><circle cx="413.10" cy="622.48" r="2.0"/><circle cx="413.10" cy="625.84" r="2.0"/><circle cx="413.10" cy="654.96" r="2.0"/><circle cx="413.10" cy="662.80" r="2.0"/></g>
<text x="396.00" y="672.40" font-size="7.0" text-anchor="middle" fill="#1a1a1a" stroke="#1a1a1a" stroke-width="0.16">WT</text>
<text x="413.20" y="672.40" font-size="7.0" text-anchor="middle" fill="#1a1a1a" stroke="#1a1a1a" stroke-width="0.16">APP</text>
<text x="401.60" y="541.40" font-size="7.0" text-anchor="middle" fill="#1a1a1a" stroke="#1a1a1a" stroke-width="0.16">***P = 1.3 × 10<tspan font-size="4.6" dy="-2.4">−3</tspan></text>
</svg>
</body></html>
